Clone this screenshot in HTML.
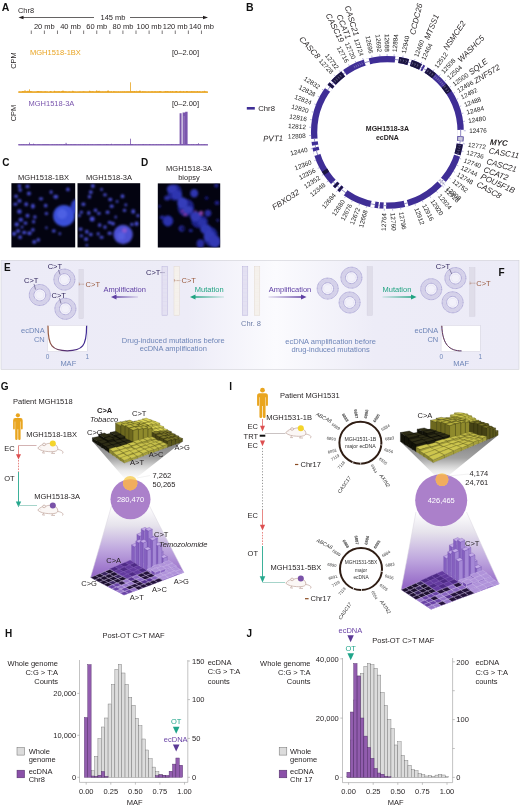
<!DOCTYPE html>
<html lang="en"><head><meta charset="utf-8"><title>Figure</title>
<style>
html,body{margin:0;padding:0;background:#fff;}
body{width:520px;height:808px;overflow:hidden;font-family:"Liberation Sans", sans-serif;}
svg{display:block;font-family:"Liberation Sans", sans-serif;}
</style></head><body>
<svg width="520" height="808" viewBox="0 0 520 808">
<defs>
<filter id="blur1" x="-20%" y="-20%" width="140%" height="140%"><feGaussianBlur stdDeviation="0.9"/></filter>
<linearGradient id="bandg" x1="0" x2="1" y1="0" y2="0"><stop offset="0" stop-color="#ecebf7"/><stop offset="0.36" stop-color="#edecf7"/><stop offset="0.53" stop-color="#fbfbfe"/><stop offset="0.72" stop-color="#edecf7"/><stop offset="1" stop-color="#ecebf7"/></linearGradient>
<linearGradient id="ugrad" x1="0" x2="1" y1="0" y2="0"><stop offset="0" stop-color="#9a5b3f"/><stop offset="0.35" stop-color="#5a2f6a"/><stop offset="1" stop-color="#3f2a96"/></linearGradient>
<linearGradient id="agpl" x1="0" x2="1"><stop offset="0" stop-color="#5e3fa3"/><stop offset="1" stop-color="#5e3fa3" stop-opacity="0.15"/></linearGradient>
<linearGradient id="agpr" x1="0" x2="1"><stop offset="0" stop-color="#5e3fa3" stop-opacity="0.15"/><stop offset="1" stop-color="#5e3fa3"/></linearGradient>
<linearGradient id="aggl" x1="0" x2="1"><stop offset="0" stop-color="#20a381"/><stop offset="1" stop-color="#20a381" stop-opacity="0.15"/></linearGradient>
<linearGradient id="aggr" x1="0" x2="1"><stop offset="0" stop-color="#20a381" stop-opacity="0.15"/><stop offset="1" stop-color="#20a381"/></linearGradient>

<linearGradient id="coneg" gradientUnits="userSpaceOnUse" x1="0" x2="0" y1="438" y2="478"><stop offset="0" stop-color="#7c7c7c"/><stop offset="0.5" stop-color="#a2a2a2"/><stop offset="0.7" stop-color="#d2d2d2"/><stop offset="0.82" stop-color="#eaeaea"/><stop offset="1" stop-color="#fbfbfb"/></linearGradient>
<linearGradient id="conep" gradientUnits="userSpaceOnUse" x1="0" x2="0" y1="506" y2="594"><stop offset="0" stop-color="#ffffff"/><stop offset="0.22" stop-color="#e6e3ec"/><stop offset="0.5" stop-color="#bea6de"/><stop offset="0.8" stop-color="#9366c6"/><stop offset="1" stop-color="#7d4fb6"/></linearGradient>
<linearGradient id="conep2" gradientUnits="userSpaceOnUse" x1="0" x2="0" y1="512" y2="612"><stop offset="0" stop-color="#ffffff"/><stop offset="0.2" stop-color="#e6e3ec"/><stop offset="0.48" stop-color="#bea6de"/><stop offset="0.75" stop-color="#9366c6"/><stop offset="1" stop-color="#7446ae"/></linearGradient>
</defs>
<rect width="520" height="808" fill="#fff"/>
<text x="1.80" y="11.18" font-size="10.5" font-weight="bold" fill="#111">A</text>
<text x="18.00" y="13.16" font-size="7.4" fill="#231f20">Chr8</text>
<path d="M22 17.5H94M130 17.5H204" stroke="#231f20" stroke-width="0.7" fill="none"/>
<path d="M18.5 17.5L23.5 15.8V19.2ZM208 17.5L203 15.8V19.2Z" fill="#231f20"/>
<text x="113.00" y="20.20" font-size="7.5" text-anchor="middle" fill="#231f20">145 mb</text>
<path d="M31.29 30.5V34M44.38 30.5V34M57.47 30.5V34M70.56 30.5V34M83.65 30.5V34M96.74 30.5V34M109.83 30.5V34M122.92 30.5V34M136.01 30.5V34M149.10 30.5V34M162.19 30.5V34M175.28 30.5V34M188.37 30.5V34M201.46 30.5V34" stroke="#231f20" stroke-width="0.6"/>
<text x="44.38" y="29.20" font-size="7.5" text-anchor="middle" fill="#231f20">20 mb</text>
<text x="70.56" y="29.20" font-size="7.5" text-anchor="middle" fill="#231f20">40 mb</text>
<text x="96.74" y="29.20" font-size="7.5" text-anchor="middle" fill="#231f20">60 mb</text>
<text x="122.92" y="29.20" font-size="7.5" text-anchor="middle" fill="#231f20">80 mb</text>
<text x="149.10" y="29.20" font-size="7.5" text-anchor="middle" fill="#231f20">100 mb</text>
<text x="175.28" y="29.20" font-size="7.5" text-anchor="middle" fill="#231f20">120 mb</text>
<text x="201.46" y="29.20" font-size="7.5" text-anchor="middle" fill="#231f20">140 mb</text>
<text transform="translate(13.30 60.50) rotate(-90.00)" y="2.70" font-size="7.5" text-anchor="middle" fill="#231f20">CPM</text>
<text transform="translate(13.30 113.00) rotate(-90.00)" y="2.70" font-size="7.5" text-anchor="middle" fill="#231f20">CPM</text>
<text x="30.00" y="54.70" font-size="7.5" fill="#e9a421">MGH1518-1BX</text>
<text x="172.00" y="54.70" font-size="7.5" fill="#231f20">[0–2.00]</text>
<text x="28.50" y="105.90" font-size="7.5" fill="#7a55ad">MGH1518-3A</text>
<text x="172.00" y="105.90" font-size="7.5" fill="#231f20">[0–2.00]</text>
<path d="M18.4 92.6L18.4 91.53L19.2 91.44L20.0 91.26L20.8 91.69L21.6 91.52L22.4 91.00L23.2 91.11L24.0 91.25L24.8 91.26L25.6 91.33L26.4 91.23L27.2 91.17L28.0 90.45L28.8 91.37L29.6 91.08L30.4 91.06L31.2 91.14L32.0 91.05L32.8 91.63L33.6 91.55L34.4 91.39L35.2 91.49L36.0 91.43L36.8 91.29L37.6 91.07L38.4 91.05L39.2 91.01L40.0 91.59L40.8 91.02L41.6 91.30L42.4 91.55L43.2 91.30L44.0 91.66L44.8 91.01L45.6 91.14L46.4 91.59L47.2 91.16L48.0 91.67L48.8 91.67L49.6 91.47L50.4 91.01L51.2 91.00L52.0 91.65L52.8 91.68L53.6 91.41L54.4 90.55L55.2 91.48L56.0 91.07L56.8 91.38L57.6 91.25L58.4 91.31L59.2 91.04L60.0 91.40L60.8 91.53L61.6 91.02L62.4 90.82L63.2 90.56L64.0 91.26L64.8 91.26L65.6 91.22L66.4 91.21L67.2 91.68L68.0 91.23L68.8 91.52L69.6 91.29L70.4 91.45L71.2 91.44L72.0 91.49L72.8 90.48L73.6 91.19L74.4 91.54L75.2 91.53L76.0 91.40L76.8 91.63L77.6 91.47L78.4 91.39L79.2 91.58L80.0 91.24L80.8 91.38L81.6 91.62L82.4 91.57L83.2 91.11L84.0 91.50L84.8 91.25L85.6 91.46L86.4 91.50L87.2 91.51L88.0 91.41L88.8 91.41L89.6 90.46L90.4 91.08L91.2 91.40L92.0 91.05L92.8 91.18L93.6 91.24L94.4 91.50L95.2 91.54L96.0 91.29L96.8 90.05L97.6 91.21L98.4 91.07L99.2 90.40L100.0 91.58L100.8 91.24L101.6 91.41L102.4 91.27L103.2 91.52L104.0 91.37L104.8 91.45L105.6 91.33L106.4 91.58L107.2 91.05L108.0 90.37L108.8 90.77L109.6 91.51L110.4 91.40L111.2 91.09L112.0 91.61L112.8 91.65L113.6 91.10L114.4 91.35L115.2 91.48L116.0 91.25L116.8 91.45L117.6 91.47L118.4 91.31L119.2 91.43L120.0 91.58L120.8 91.28L121.6 91.43L122.4 91.26L123.2 91.44L124.0 91.21L124.8 91.21L125.6 91.53L126.4 91.21L127.2 91.40L128.0 91.08L128.8 91.44L129.6 91.15L130.4 91.38L131.2 91.13L132.0 91.08L132.8 91.23L133.6 91.31L134.4 91.12L135.2 91.05L136.0 91.63L136.8 90.56L137.6 91.62L138.4 91.23L139.2 91.03L140.0 90.22L140.8 91.34L141.6 91.63L142.4 91.05L143.2 91.47L144.0 91.12L144.8 91.57L145.6 91.27L146.4 91.42L147.2 91.42L148.0 91.41L148.8 91.35L149.6 91.41L150.4 91.59L151.2 91.17L152.0 91.34L152.8 91.25L153.6 91.60L154.4 91.18L155.2 91.34L156.0 91.20L156.8 91.51L157.6 91.29L158.4 91.54L159.2 91.03L160.0 91.21L160.8 91.10L161.6 91.51L162.4 91.68L163.2 91.43L164.0 91.45L164.8 91.16L165.6 91.01L166.4 91.28L167.2 91.12L168.0 91.31L168.8 91.20L169.6 91.42L170.4 91.03L171.2 91.54L172.0 91.20L172.8 91.03L173.6 91.53L174.4 91.52L175.2 91.21L176.0 91.07L176.8 91.09L177.6 91.40L178.4 91.64L179.2 91.12L180.0 91.45L180.8 90.83L181.6 91.39L182.4 91.55L183.2 91.03L184.0 91.32L184.8 91.51L185.6 91.62L186.4 91.06L187.2 91.04L188.0 91.16L188.8 91.49L189.6 91.24L190.4 91.51L191.2 91.03L192.0 91.32L192.8 91.35L193.6 91.20L194.4 91.30L195.2 91.25L196.0 91.57L196.8 91.24L197.6 91.05L198.4 91.47L199.2 91.28L200.0 91.25L200.8 91.48L201.6 91.65L202.4 91.17L203.2 91.18L204.0 91.51L204.8 90.48L205.6 91.53L206.4 91.45L207.2 91.42L208 92.6Z" fill="#e9a421"/>
<path d="M18.4 92.2H208" stroke="#e9a421" stroke-width="1.2"/>
<path d="M130.5 92V82.3M25 92V90M29.5 92V89.3" stroke="#e9a421" stroke-width="0.8"/>
<path d="M18.4 145.2L18.4 144.19L19.2 144.16L20.0 144.39L20.8 144.45L21.6 144.21L22.4 144.42L23.2 144.20L24.0 144.20L24.8 144.44L25.6 144.42L26.4 144.27L27.2 144.40L28.0 144.49L28.8 144.14L29.6 144.35L30.4 144.27L31.2 144.11L32.0 144.38L32.8 144.31L33.6 143.44L34.4 144.24L35.2 144.29L36.0 144.42L36.8 144.49L37.6 144.24L38.4 144.27L39.2 144.14L40.0 144.18L40.8 144.48L41.6 144.41L42.4 144.28L43.2 144.37L44.0 144.22L44.8 144.16L45.6 144.13L46.4 144.20L47.2 144.18L48.0 144.16L48.8 144.20L49.6 144.46L50.4 144.47L51.2 144.44L52.0 144.22L52.8 144.33L53.6 144.38L54.4 144.20L55.2 144.43L56.0 144.21L56.8 144.35L57.6 144.26L58.4 144.50L59.2 144.19L60.0 144.32L60.8 144.42L61.6 144.34L62.4 144.49L63.2 144.43L64.0 144.03L64.8 144.34L65.6 144.48L66.4 143.38L67.2 144.41L68.0 144.31L68.8 144.25L69.6 144.45L70.4 144.21L71.2 144.18L72.0 144.13L72.8 144.40L73.6 144.17L74.4 144.36L75.2 144.23L76.0 144.23L76.8 144.46L77.6 144.49L78.4 144.24L79.2 144.42L80.0 144.31L80.8 144.13L81.6 144.49L82.4 144.26L83.2 144.46L84.0 144.16L84.8 144.34L85.6 144.23L86.4 144.43L87.2 144.21L88.0 144.28L88.8 144.35L89.6 144.41L90.4 144.31L91.2 144.43L92.0 144.26L92.8 144.35L93.6 144.44L94.4 144.49L95.2 144.20L96.0 144.46L96.8 144.16L97.6 144.15L98.4 144.32L99.2 144.21L100.0 144.35L100.8 144.34L101.6 144.46L102.4 144.46L103.2 144.24L104.0 144.48L104.8 144.24L105.6 144.50L106.4 144.11L107.2 144.28L108.0 144.19L108.8 144.18L109.6 144.42L110.4 144.47L111.2 143.49L112.0 144.42L112.8 144.47L113.6 144.41L114.4 144.25L115.2 144.20L116.0 144.36L116.8 144.32L117.6 144.17L118.4 144.17L119.2 144.28L120.0 144.21L120.8 144.36L121.6 144.47L122.4 144.21L123.2 144.24L124.0 144.41L124.8 144.10L125.6 144.33L126.4 144.41L127.2 144.13L128.0 144.15L128.8 144.26L129.6 144.29L130.4 144.12L131.2 144.12L132.0 144.19L132.8 144.10L133.6 144.38L134.4 144.43L135.2 144.21L136.0 144.29L136.8 144.48L137.6 144.39L138.4 144.36L139.2 144.20L140.0 144.46L140.8 144.34L141.6 144.44L142.4 144.22L143.2 144.11L144.0 144.35L144.8 144.38L145.6 144.29L146.4 144.36L147.2 144.39L148.0 144.15L148.8 144.38L149.6 144.05L150.4 144.29L151.2 144.43L152.0 144.42L152.8 144.31L153.6 144.19L154.4 144.49L155.2 144.49L156.0 144.36L156.8 144.28L157.6 144.38L158.4 144.18L159.2 144.40L160.0 144.33L160.8 144.23L161.6 144.18L162.4 144.45L163.2 144.18L164.0 144.17L164.8 144.39L165.6 144.49L166.4 144.14L167.2 144.31L168.0 144.13L168.8 144.26L169.6 144.29L170.4 144.43L171.2 144.10L172.0 144.34L172.8 144.32L173.6 144.32L174.4 144.44L175.2 144.29L176.0 144.16L176.8 144.13L177.6 144.49L178.4 144.28L179.2 144.39L180.0 144.14L180.8 144.23L181.6 144.29L182.4 144.12L183.2 144.42L184.0 144.43L184.8 144.17L185.6 144.39L186.4 144.12L187.2 144.34L188.0 144.45L188.8 144.11L189.6 144.41L190.4 144.47L191.2 144.20L192.0 144.25L192.8 144.50L193.6 144.12L194.4 144.39L195.2 144.39L196.0 144.48L196.8 144.12L197.6 144.14L198.4 144.10L199.2 144.24L200.0 144.48L200.8 144.43L201.6 144.17L202.4 144.48L203.2 144.29L204.0 144.46L204.8 144.10L205.6 144.45L206.4 144.45L207.2 144.13L208 145.2Z" fill="#7a55ad"/>
<path d="M18.4 144.8H208" stroke="#7a55ad" stroke-width="1"/>
<path d="M130.5 144.5V138.7M29.5 144.5V142.6M66 144.5V142.8M198.5 144.5V143.2" stroke="#7a55ad" stroke-width="0.8"/>
<path d="M179.6 144.8V113.2H181.6V144.8ZM182.6 144.8V112.6H185.2V111.8H187.6V144.8Z" fill="#7a55ad"/>
<path d="M184.1 144V116" stroke="#fff" stroke-width="0.35" opacity="0.6"/>
<text x="246.00" y="11.18" font-size="10.5" font-weight="bold" fill="#111">B</text>
<path d="M246.8 108.3H254.8" stroke="#3f2e96" stroke-width="2.6"/>
<text x="258.30" y="111.07" font-size="7.7" fill="#231f20">Chr8</text>
<circle cx="387.4" cy="132.4" r="73.3" fill="none" stroke="#3f2e96" stroke-width="6.3"/>
<path d="M364.75 62.69A73.3 73.3 0 0 1 369.42 61.34" fill="none" stroke="#fff" stroke-width="7"/>
<path d="M395.06 59.50A73.3 73.3 0 0 1 398.61 59.96" fill="none" stroke="#fff" stroke-width="7"/>
<path d="M408.34 62.15A73.3 73.3 0 0 1 410.78 62.93" fill="none" stroke="#fff" stroke-width="7"/>
<path d="M420.68 67.09A73.3 73.3 0 0 1 421.81 67.68" fill="none" stroke="#fff" stroke-width="7"/>
<path d="M423.61 68.67A73.3 73.3 0 0 1 426.03 70.10" fill="none" stroke="#fff" stroke-width="7"/>
<path d="M460.66 129.84A73.3 73.3 0 0 1 460.60 136.24" fill="none" stroke="#fff" stroke-width="7"/>
<path d="M460.18 141.08A73.3 73.3 0 0 1 459.80 143.87" fill="none" stroke="#fff" stroke-width="7"/>
<path d="M457.35 154.32A73.3 73.3 0 0 1 456.95 155.54" fill="none" stroke="#fff" stroke-width="7"/>
<path d="M443.30 179.81A73.3 73.3 0 0 1 439.77 183.69" fill="none" stroke="#fff" stroke-width="7"/>
<path d="M407.60 202.86A73.3 73.3 0 0 1 404.39 203.70" fill="none" stroke="#fff" stroke-width="7"/>
<path d="M386.12 205.69A73.3 73.3 0 0 1 383.56 205.60" fill="none" stroke="#fff" stroke-width="7"/>
<path d="M379.74 205.30A73.3 73.3 0 0 1 378.47 205.15" fill="none" stroke="#fff" stroke-width="7"/>
<path d="M374.92 204.63A73.3 73.3 0 0 1 370.91 203.82" fill="none" stroke="#fff" stroke-width="7"/>
<path d="M345.78 192.74A73.3 73.3 0 0 1 341.67 189.69" fill="none" stroke="#fff" stroke-width="7"/>
<path d="M339.31 187.72A73.3 73.3 0 0 1 337.41 186.01" fill="none" stroke="#fff" stroke-width="7"/>
<path d="M335.12 183.78A73.3 73.3 0 0 1 333.36 181.92" fill="none" stroke="#fff" stroke-width="7"/>
<path d="M317.61 154.81A73.3 73.3 0 0 1 316.43 150.75" fill="none" stroke="#fff" stroke-width="7"/>
<path d="M315.62 147.26A73.3 73.3 0 0 1 315.21 145.13" fill="none" stroke="#fff" stroke-width="7"/>
<path d="M314.68 141.59A73.3 73.3 0 0 1 314.38 138.79" fill="none" stroke="#fff" stroke-width="7"/>
<path d="M327.65 89.94A73.3 73.3 0 0 1 329.96 86.87" fill="none" stroke="#fff" stroke-width="7"/>
<path d="M332.08 84.31A73.3 73.3 0 0 1 333.44 82.78" fill="none" stroke="#fff" stroke-width="7"/>
<path d="M343.29 73.86A73.3 73.3 0 0 1 344.94 72.65" fill="none" stroke="#fff" stroke-width="7"/>
<path d="M364.38 62.81A73.3 73.3 0 0 1 369.79 61.25" fill="none" stroke="#8f88c4" stroke-width="1"/>
<path d="M394.68 59.46A73.3 73.3 0 0 1 398.99 60.02" fill="none" stroke="#8f88c4" stroke-width="1"/>
<path d="M407.97 62.05A73.3 73.3 0 0 1 411.14 63.05" fill="none" stroke="#8f88c4" stroke-width="1"/>
<path d="M420.34 66.92A73.3 73.3 0 0 1 422.15 67.86" fill="none" stroke="#8f88c4" stroke-width="1"/>
<path d="M423.27 68.48A73.3 73.3 0 0 1 426.35 70.31" fill="none" stroke="#8f88c4" stroke-width="1"/>
<path d="M460.64 129.46A73.3 73.3 0 0 1 460.58 136.62" fill="none" stroke="#8f88c4" stroke-width="1"/>
<path d="M460.23 140.70A73.3 73.3 0 0 1 459.74 144.25" fill="none" stroke="#8f88c4" stroke-width="1"/>
<path d="M457.46 153.95A73.3 73.3 0 0 1 456.83 155.90" fill="none" stroke="#8f88c4" stroke-width="1"/>
<path d="M443.55 179.52A73.3 73.3 0 0 1 439.50 183.96" fill="none" stroke="#8f88c4" stroke-width="1"/>
<path d="M407.97 202.75A73.3 73.3 0 0 1 404.01 203.79" fill="none" stroke="#8f88c4" stroke-width="1"/>
<path d="M386.50 205.69A73.3 73.3 0 0 1 383.18 205.58" fill="none" stroke="#8f88c4" stroke-width="1"/>
<path d="M380.12 205.34A73.3 73.3 0 0 1 378.09 205.11" fill="none" stroke="#8f88c4" stroke-width="1"/>
<path d="M375.30 204.69A73.3 73.3 0 0 1 370.54 203.73" fill="none" stroke="#8f88c4" stroke-width="1"/>
<path d="M346.09 192.95A73.3 73.3 0 0 1 341.37 189.45" fill="none" stroke="#8f88c4" stroke-width="1"/>
<path d="M339.60 187.97A73.3 73.3 0 0 1 337.13 185.75" fill="none" stroke="#8f88c4" stroke-width="1"/>
<path d="M335.39 184.05A73.3 73.3 0 0 1 333.10 181.64" fill="none" stroke="#8f88c4" stroke-width="1"/>
<path d="M317.73 155.17A73.3 73.3 0 0 1 316.34 150.38" fill="none" stroke="#8f88c4" stroke-width="1"/>
<path d="M315.70 147.64A73.3 73.3 0 0 1 315.15 144.75" fill="none" stroke="#8f88c4" stroke-width="1"/>
<path d="M314.73 141.97A73.3 73.3 0 0 1 314.35 138.41" fill="none" stroke="#8f88c4" stroke-width="1"/>
<path d="M327.43 90.25A73.3 73.3 0 0 1 330.19 86.57" fill="none" stroke="#8f88c4" stroke-width="1"/>
<path d="M331.83 84.60A73.3 73.3 0 0 1 333.70 82.50" fill="none" stroke="#8f88c4" stroke-width="1"/>
<path d="M342.98 74.09A73.3 73.3 0 0 1 345.25 72.43" fill="none" stroke="#8f88c4" stroke-width="1"/>
<path d="M460.56 137.00A73.3 73.3 0 0 1 460.21 140.82" fill="none" stroke="#c9c7dc" stroke-width="5"/>
<path d="M463.15 137.17A75.89999999999999 75.89999999999999 0 0 1 462.80 141.12M457.96 136.84A70.7 70.7 0 0 1 457.63 140.53" fill="none" stroke="#66609a" stroke-width="0.5"/>
<path d="M442.30 180.97A73.3 73.3 0 0 1 440.83 182.58" fill="none" stroke="#c9c7dc" stroke-width="5"/>
<path d="M444.25 182.69A75.89999999999999 75.89999999999999 0 0 1 442.73 184.36M440.35 179.25A70.7 70.7 0 0 1 438.94 180.80" fill="none" stroke="#66609a" stroke-width="0.5"/>
<path d="M330.11 86.67A73.3 73.3 0 0 1 331.91 84.50" fill="none" stroke="#1b1540" stroke-width="6.1"/>
<path d="M398.87 60.00A73.3 73.3 0 0 1 408.10 62.08" fill="none" stroke="#1b1540" stroke-width="6.1"/>
<path d="M411.02 63.01A73.3 73.3 0 0 1 420.22 66.86" fill="none" stroke="#1b1540" stroke-width="6.1"/>
<path d="M426.24 70.24A73.3 73.3 0 0 1 434.02 75.84" fill="none" stroke="#1b1540" stroke-width="6.1"/>
<path d="M443.96 85.78A73.3 73.3 0 0 1 449.01 92.69" fill="none" stroke="#1b1540" stroke-width="6.1"/>
<path d="M459.76 144.12A73.3 73.3 0 0 1 457.42 154.08" fill="none" stroke="#1b1540" stroke-width="6.1"/>
<path d="M333.70 82.50A73.3 73.3 0 0 1 343.08 74.01" fill="none" stroke="#1b1540" stroke-width="6.1"/>
<path d="M326.63 173.39A73.3 73.3 0 0 1 324.57 170.15" fill="none" stroke="#1b1540" stroke-width="6.1"/>
<path d="M341.27 189.36A73.3 73.3 0 0 1 339.70 188.05" fill="none" stroke="#1b1540" stroke-width="6.1"/>
<path d="M337.04 185.66A73.3 73.3 0 0 1 335.39 184.05" fill="none" stroke="#1b1540" stroke-width="6.1"/>
<path d="M433.74 77.17L435.20 76.83L435.29 75.33M435.27 78.48L436.73 78.19L436.86 76.69M436.76 79.84L438.23 79.58L438.40 78.09M438.20 81.24L439.68 81.02L439.90 79.54M439.61 82.68L441.10 82.50L441.35 81.02M440.98 84.16L442.47 84.02L442.76 82.55M442.31 85.67L443.80 85.58L444.13 84.12" fill="none" stroke="#b9b4e0" stroke-width="0.45" opacity="0.8"/>
<path d="M354.67 68.16L354.92 66.69L353.58 66.02M356.47 67.27L356.77 65.81L355.44 65.10M358.30 66.43L358.64 64.98L357.34 64.24M360.16 65.64L360.54 64.20L359.25 63.42M362.03 64.91L362.45 63.48L361.19 62.66" fill="none" stroke="#b9b4e0" stroke-width="0.45" opacity="0.8"/>
<path d="M426.67 71.93L428.07 71.42L427.98 69.92M428.96 73.48L430.38 73.02L430.34 71.52M431.19 75.12L432.63 74.72L432.65 73.22" fill="none" stroke="#b9b4e0" stroke-width="0.45" opacity="0.8"/>
<path d="M443.43 87.03L444.92 86.97L445.30 85.52M445.13 89.21L446.63 89.21L447.05 87.77M446.75 91.46L448.24 91.52L448.72 90.10" fill="none" stroke="#b9b4e0" stroke-width="0.45" opacity="0.8"/>
<path d="M458.40 144.92L459.43 146.01L460.77 145.34M457.92 147.39L458.91 148.51L460.27 147.89M457.36 149.84L458.30 151.00L459.69 150.42M456.71 152.27L457.61 153.46L459.01 152.93" fill="none" stroke="#b9b4e0" stroke-width="0.45" opacity="0.8"/>
<path d="M335.54 82.32L335.30 80.84L333.81 80.65M337.32 80.54L337.13 79.05L335.65 78.81M339.16 78.82L339.02 77.33L337.55 77.04M341.06 77.17L340.97 75.68L339.51 75.33" fill="none" stroke="#b9b4e0" stroke-width="0.45" opacity="0.8"/>
<path d="M399.92 61.40L401.01 60.37L400.34 59.03M402.64 61.93L403.76 60.95L403.14 59.58M405.33 62.57L406.49 61.63L405.93 60.24" fill="none" stroke="#b9b4e0" stroke-width="0.45" opacity="0.8"/>
<path d="M411.47 64.44L412.71 63.61L412.27 62.17M414.06 65.41L415.33 64.63L414.95 63.18M416.61 66.48L417.91 65.75L417.58 64.29" fill="none" stroke="#b9b4e0" stroke-width="0.45" opacity="0.8"/>
<path d="M372.14 57.64L371.72 55.58M380.00 56.46L379.80 54.37M387.13 56.10L387.12 54.00M394.00 56.39L394.18 54.29M402.66 57.64L403.08 55.58M414.30 61.00L415.04 59.03M420.85 63.82L421.77 61.93M432.90 71.15L434.15 69.47M438.91 76.11L440.33 74.56M444.29 81.55L445.86 80.15M449.17 87.61L450.87 86.38M453.07 93.55L454.87 92.48M456.28 99.57L458.17 98.67M459.21 106.61L461.19 105.90M461.36 113.64L463.39 113.12M462.92 121.49L464.99 121.19M463.68 130.78L465.78 130.74M462.87 143.65L464.94 143.96M461.41 150.94L463.45 151.45M459.17 158.30L461.14 159.01M456.43 164.91L458.33 165.81M453.08 171.23L454.89 172.30M448.93 177.52L450.62 178.76M443.65 183.95L445.20 185.37M442.11 185.59L443.61 187.05M436.20 191.05L437.54 192.67M429.54 196.01L430.70 197.76M422.03 200.39L422.98 202.26M414.69 203.65L415.44 205.61M400.50 207.57L400.86 209.64M392.53 208.53L392.67 210.62M384.37 208.64L384.29 210.74M366.73 205.85L366.17 207.87M359.74 203.51L358.98 205.47M352.54 200.27L351.58 202.14M345.70 196.30L344.56 198.06M337.69 190.29L336.32 191.88M328.38 180.76L326.76 182.09M323.61 174.26L321.85 175.41M319.60 167.41L317.74 168.37M316.23 159.92L314.28 160.67M312.81 148.48L310.76 148.93M311.16 135.44L309.06 135.53M311.27 127.32L309.17 127.18M312.13 119.91L310.06 119.56M313.78 112.34L311.76 111.79M316.29 104.73L314.34 103.97M319.65 97.30L317.79 96.33M323.72 90.37L321.97 89.21M335.59 76.38L334.17 74.84M340.51 72.21L339.22 70.55M349.55 66.15L348.51 64.33M356.02 62.85L355.16 60.94M363.30 60.01L362.63 58.02" stroke="#8c86c6" stroke-width="0.6"/>
<text transform="translate(371.25 53.29) rotate(438.46)" y="2.30" font-size="6.4" text-anchor="end" fill="#1a1a1a">12696</text>
<text transform="translate(379.57 52.07) rotate(444.43)" y="2.30" font-size="6.4" text-anchor="end" fill="#1a1a1a">12692</text>
<text transform="translate(387.11 51.70) rotate(449.80)" y="2.30" font-size="6.4" text-anchor="end" fill="#1a1a1a">12688</text>
<text transform="translate(394.38 51.99) rotate(-85.04)" y="2.30" font-size="6.4" fill="#1a1a1a">12884</text>
<text transform="translate(403.55 53.29) rotate(-78.46)" y="2.30" font-size="6.4" fill="#1a1a1a">12940</text>
<text transform="translate(415.89 56.76) rotate(-69.36)" y="2.30" font-size="6.4" fill="#1a1a1a">12460</text>
<text transform="translate(422.86 59.69) rotate(-64.00)" y="2.30" font-size="6.4" fill="#1a1a1a">12464</text>
<text transform="translate(435.74 67.33) rotate(-53.39)" y="2.30" font-size="6.4" fill="#1a1a1a">12512</text>
<text transform="translate(442.19 72.53) rotate(-47.54)" y="2.30" font-size="6.4" fill="#1a1a1a">12508</text>
<text transform="translate(447.98 78.25) rotate(-41.79)" y="2.30" font-size="6.4" fill="#1a1a1a">12504</text>
<text transform="translate(453.26 84.64) rotate(-35.95)" y="2.30" font-size="6.4" fill="#1a1a1a">12500</text>
<text transform="translate(457.49 90.93) rotate(-30.61)" y="2.30" font-size="6.4" fill="#1a1a1a">12496</text>
<text transform="translate(460.99 97.33) rotate(-25.48)" y="2.30" font-size="6.4" fill="#1a1a1a">12492</text>
<text transform="translate(464.18 104.82) rotate(-19.76)" y="2.30" font-size="6.4" fill="#1a1a1a">12488</text>
<text transform="translate(466.53 112.32) rotate(-14.24)" y="2.30" font-size="6.4" fill="#1a1a1a">12484</text>
<text transform="translate(468.24 120.72) rotate(-8.22)" y="2.30" font-size="6.4" fill="#1a1a1a">12480</text>
<text transform="translate(469.08 130.67) rotate(-1.22)" y="2.30" font-size="6.4" fill="#1a1a1a">12476</text>
<text transform="translate(468.19 144.44) rotate(8.48)" y="2.30" font-size="6.4" fill="#1a1a1a">12772</text>
<text transform="translate(466.59 152.24) rotate(14.06)" y="2.30" font-size="6.4" fill="#1a1a1a">12736</text>
<text transform="translate(464.14 160.10) rotate(19.84)" y="2.30" font-size="6.4" fill="#1a1a1a">12740</text>
<text transform="translate(461.15 167.13) rotate(25.22)" y="2.30" font-size="6.4" fill="#1a1a1a">12744</text>
<text transform="translate(457.51 173.84) rotate(30.59)" y="2.30" font-size="6.4" fill="#1a1a1a">12748</text>
<text transform="translate(453.00 180.51) rotate(36.25)" y="2.30" font-size="6.4" fill="#1a1a1a">12752</text>
<text transform="translate(447.29 187.29) rotate(42.51)" y="2.30" font-size="6.4" fill="#1a1a1a">12908</text>
<text transform="translate(445.63 189.01) rotate(44.19)" y="2.30" font-size="6.4" fill="#1a1a1a">12928</text>
<text transform="translate(439.28 194.75) rotate(50.24)" y="2.30" font-size="6.4" fill="#1a1a1a">12924</text>
<text transform="translate(432.14 199.93) rotate(56.48)" y="2.30" font-size="6.4" fill="#1a1a1a">12920</text>
<text transform="translate(424.12 204.49) rotate(63.01)" y="2.30" font-size="6.4" fill="#1a1a1a">12916</text>
<text transform="translate(416.31 207.88) rotate(69.05)" y="2.30" font-size="6.4" fill="#1a1a1a">12912</text>
<text transform="translate(401.26 211.93) rotate(80.12)" y="2.30" font-size="6.4" fill="#1a1a1a">12796</text>
<text transform="translate(392.82 212.92) rotate(86.15)" y="2.30" font-size="6.4" fill="#1a1a1a">12760</text>
<text transform="translate(384.20 213.04) rotate(272.27)" y="2.30" font-size="6.4" text-anchor="end" fill="#1a1a1a">12764</text>
<text transform="translate(365.52 210.15) rotate(285.71)" y="2.30" font-size="6.4" text-anchor="end" fill="#1a1a1a">12668</text>
<text transform="translate(358.10 207.73) rotate(291.25)" y="2.30" font-size="6.4" text-anchor="end" fill="#1a1a1a">12672</text>
<text transform="translate(350.43 204.37) rotate(297.19)" y="2.30" font-size="6.4" text-anchor="end" fill="#1a1a1a">12676</text>
<text transform="translate(343.14 200.23) rotate(303.13)" y="2.30" font-size="6.4" text-anchor="end" fill="#1a1a1a">12680</text>
<text transform="translate(334.55 193.95) rotate(310.65)" y="2.30" font-size="6.4" text-anchor="end" fill="#1a1a1a">12684</text>
<text transform="translate(324.51 183.93) rotate(320.67)" y="2.30" font-size="6.4" text-anchor="end" fill="#1a1a1a">12348</text>
<text transform="translate(319.34 177.06) rotate(326.73)" y="2.30" font-size="6.4" text-anchor="end" fill="#1a1a1a">12352</text>
<text transform="translate(314.99 169.79) rotate(332.69)" y="2.30" font-size="6.4" text-anchor="end" fill="#1a1a1a">12356</text>
<text transform="translate(311.32 161.82) rotate(338.86)" y="2.30" font-size="6.4" text-anchor="end" fill="#1a1a1a">12360</text>
<text transform="translate(307.58 149.61) rotate(347.83)" y="2.30" font-size="6.4" text-anchor="end" fill="#1a1a1a">12440</text>
<text transform="translate(305.77 135.66) rotate(357.72)" y="2.30" font-size="6.4" text-anchor="end" fill="#1a1a1a">12808</text>
<text transform="translate(305.89 126.96) rotate(363.82)" y="2.30" font-size="6.4" text-anchor="end" fill="#1a1a1a">12812</text>
<text transform="translate(306.83 119.03) rotate(369.42)" y="2.30" font-size="6.4" text-anchor="end" fill="#1a1a1a">12816</text>
<text transform="translate(308.64 110.94) rotate(375.24)" y="2.30" font-size="6.4" text-anchor="end" fill="#1a1a1a">12820</text>
<text transform="translate(311.38 102.82) rotate(381.26)" y="2.30" font-size="6.4" text-anchor="end" fill="#1a1a1a">12824</text>
<text transform="translate(315.05 94.91) rotate(387.39)" y="2.30" font-size="6.4" text-anchor="end" fill="#1a1a1a">12828</text>
<text transform="translate(319.47 87.56) rotate(393.43)" y="2.30" font-size="6.4" text-anchor="end" fill="#1a1a1a">12832</text>
<text transform="translate(332.29 72.82) rotate(407.23)" y="2.30" font-size="6.4" text-anchor="end" fill="#1a1a1a">12728</text>
<text transform="translate(337.57 68.44) rotate(412.08)" y="2.30" font-size="6.4" text-anchor="end" fill="#1a1a1a">12732</text>
<text transform="translate(347.25 62.12) rotate(420.26)" y="2.30" font-size="6.4" text-anchor="end" fill="#1a1a1a">12716</text>
<text transform="translate(354.14 58.69) rotate(425.72)" y="2.30" font-size="6.4" text-anchor="end" fill="#1a1a1a">12720</text>
<text transform="translate(361.87 55.74) rotate(431.58)" y="2.30" font-size="6.4" text-anchor="end" fill="#1a1a1a">12724</text>
<text transform="translate(412.08 34.53) rotate(-76.00)" y="2.88" font-size="8" font-style="italic" fill="#231f20">CCDC26</text>
<text transform="translate(426.43 39.26) rotate(-67.50)" y="2.88" font-size="8" font-style="italic" fill="#231f20">MTSS1</text>
<text transform="translate(444.88 49.24) rotate(-55.70)" y="2.88" font-size="8" font-style="italic" fill="#231f20">NSMCE2</text>
<text transform="translate(458.89 60.75) rotate(-45.50)" y="2.88" font-size="8" font-style="italic" fill="#231f20">WASHC5</text>
<text transform="translate(469.50 72.97) rotate(-36.40)" y="2.88" font-size="8" font-style="italic" fill="#231f20">SQLE</text>
<text transform="translate(474.40 81.22) rotate(-31.00)" y="2.88" font-size="8" font-style="italic" fill="#231f20">ZNF572</text>
<text transform="translate(490.07 141.76) rotate(4.60)" y="2.88" font-size="8" font-weight="bold" font-style="italic" fill="#231f20">MYC</text>
<text transform="translate(488.99 150.50) rotate(9.50)" y="2.88" font-size="8" font-style="italic" fill="#231f20">CASC11</text>
<text transform="translate(486.65 161.03) rotate(15.50)" y="2.88" font-size="8" font-style="italic" fill="#231f20">CASC21</text>
<text transform="translate(484.06 169.07) rotate(20.20)" y="2.88" font-size="8" font-style="italic" fill="#231f20">CCAT2</text>
<text transform="translate(481.27 175.89) rotate(24.30)" y="2.88" font-size="8" font-style="italic" fill="#231f20">POU5F1B</text>
<text transform="translate(477.49 183.44) rotate(29.00)" y="2.88" font-size="8" font-style="italic" fill="#231f20">CASC8</text>
<text transform="translate(298.50 191.23) rotate(327.00)" y="2.88" font-size="8" text-anchor="end" font-style="italic" fill="#231f20">FBXO32</text>
<text transform="translate(283.09 137.87) rotate(357.60)" y="2.88" font-size="8" text-anchor="end" font-style="italic" fill="#231f20">PVT1</text>
<text transform="translate(318.81 57.33) rotate(408.00)" y="2.88" font-size="8" text-anchor="end" font-style="italic" fill="#231f20">CASC8</text>
<text transform="translate(341.99 41.61) rotate(423.70)" y="2.88" font-size="8" text-anchor="end" font-style="italic" fill="#231f20">CASC19</text>
<text transform="translate(348.84 38.53) rotate(427.90)" y="2.88" font-size="8" text-anchor="end" font-style="italic" fill="#231f20">CCAT1</text>
<text transform="translate(356.75 35.69) rotate(432.60)" y="2.88" font-size="8" text-anchor="end" font-style="italic" fill="#231f20">CASC21</text>
<text x="387.40" y="131.32" font-size="7" text-anchor="middle" font-weight="bold" fill="#231f20">MGH1518-3A</text>
<text x="387.40" y="140.32" font-size="7" text-anchor="middle" font-weight="bold" fill="#231f20">ecDNA</text>
<text x="2.30" y="166.10" font-size="10" font-weight="bold" fill="#111">C</text>
<text x="141.00" y="166.10" font-size="10" font-weight="bold" fill="#111">D</text>
<text x="43.50" y="179.90" font-size="7.5" text-anchor="middle" fill="#231f20">MGH1518-1BX</text>
<text x="109.00" y="179.90" font-size="7.5" text-anchor="middle" fill="#231f20">MGH1518-3A</text>
<text x="189.00" y="170.90" font-size="7.5" text-anchor="middle" fill="#231f20">MGH1518-3A</text>
<text x="189.00" y="180.00" font-size="7.5" text-anchor="middle" fill="#231f20">biopsy</text>
<clipPath id="fc1"><rect x="11.4" y="183.2" width="63.800000000000004" height="64.20000000000002"/></clipPath>
<rect x="11.4" y="183.2" width="63.800000000000004" height="64.20000000000002" fill="#030310"/>
<g clip-path="url(#fc1)"><g filter="url(#blur1)">
<circle cx="63.9" cy="215.7" r="10.8" fill="#3b4fd8"/>
<circle cx="78.0" cy="206.2" r="7.4" fill="#2f3cc0"/>
<ellipse cx="19.4" cy="186.1" rx="1.58" ry="2.08" fill="#464cd0"/>
<ellipse cx="27.5" cy="186.5" rx="2.02" ry="1.67" fill="#464cd0"/>
<ellipse cx="20.1" cy="190.1" rx="1.83" ry="1.80" fill="#464cd0"/>
<ellipse cx="28.9" cy="193.5" rx="1.94" ry="2.04" fill="#464cd0"/>
<ellipse cx="16.1" cy="196.2" rx="1.79" ry="1.74" fill="#464cd0"/>
<ellipse cx="19.4" cy="200.9" rx="2.07" ry="1.79" fill="#464cd0"/>
<ellipse cx="15.4" cy="204.2" rx="2.02" ry="1.49" fill="#464cd0"/>
<ellipse cx="26.2" cy="204.2" rx="1.80" ry="1.99" fill="#464cd0"/>
<ellipse cx="32.9" cy="206.2" rx="1.90" ry="2.48" fill="#464cd0"/>
<ellipse cx="41.0" cy="198.8" rx="2.12" ry="1.51" fill="#464cd0"/>
<ellipse cx="51.1" cy="192.1" rx="1.51" ry="1.87" fill="#464cd0"/>
<ellipse cx="55.8" cy="196.8" rx="2.47" ry="2.02" fill="#464cd0"/>
<ellipse cx="67.9" cy="189.4" rx="1.76" ry="1.92" fill="#464cd0"/>
<ellipse cx="45.7" cy="205.6" rx="1.74" ry="1.90" fill="#464cd0"/>
<ellipse cx="19.4" cy="211.6" rx="2.21" ry="2.26" fill="#464cd0"/>
<ellipse cx="27.5" cy="215.7" rx="1.90" ry="1.90" fill="#464cd0"/>
<ellipse cx="34.9" cy="217.0" rx="1.64" ry="1.81" fill="#464cd0"/>
<ellipse cx="46.4" cy="213.6" rx="1.69" ry="1.50" fill="#464cd0"/>
<ellipse cx="20.8" cy="219.7" rx="2.23" ry="2.02" fill="#464cd0"/>
<ellipse cx="25.5" cy="223.1" rx="1.94" ry="1.62" fill="#464cd0"/>
<ellipse cx="16.7" cy="224.4" rx="2.18" ry="2.09" fill="#464cd0"/>
<ellipse cx="33.6" cy="221.7" rx="1.57" ry="1.72" fill="#464cd0"/>
<ellipse cx="18.1" cy="230.9" rx="1.99" ry="1.98" fill="#464cd0"/>
<ellipse cx="24.2" cy="232.5" rx="2.14" ry="1.78" fill="#464cd0"/>
<ellipse cx="29.5" cy="233.2" rx="2.07" ry="1.96" fill="#464cd0"/>
<ellipse cx="32.9" cy="229.8" rx="1.70" ry="1.90" fill="#464cd0"/>
<ellipse cx="14.1" cy="233.8" rx="2.10" ry="2.08" fill="#464cd0"/>
<ellipse cx="20.1" cy="237.2" rx="1.84" ry="1.90" fill="#464cd0"/>
<ellipse cx="46.4" cy="227.8" rx="1.16" ry="1.27" fill="#464cd0"/>
<ellipse cx="53.8" cy="230.9" rx="1.89" ry="1.64" fill="#464cd0"/>
<ellipse cx="59.8" cy="233.8" rx="1.24" ry="1.44" fill="#464cd0"/>
<ellipse cx="34.2" cy="241.9" rx="1.98" ry="1.96" fill="#464cd0"/>
<ellipse cx="38.3" cy="239.9" rx="1.75" ry="1.79" fill="#464cd0"/>
<ellipse cx="22.1" cy="227.1" rx="1.28" ry="1.41" fill="#464cd0"/>
<circle cx="62" cy="214" r="5" fill="#5568e8" opacity="0.7"/>
</g></g>
<clipPath id="fc2"><rect x="77.5" y="183.2" width="62.69999999999999" height="64.20000000000002"/></clipPath>
<rect x="77.5" y="183.2" width="62.69999999999999" height="64.20000000000002" fill="#030310"/>
<g clip-path="url(#fc2)"><g filter="url(#blur1)">
<circle cx="123.1" cy="234.5" r="9.7" fill="#4c50d2"/>
<ellipse cx="92.8" cy="186.1" rx="1.99" ry="1.99" fill="#484ed2"/>
<ellipse cx="101.6" cy="189.4" rx="1.41" ry="1.43" fill="#484ed2"/>
<ellipse cx="90.8" cy="192.1" rx="1.91" ry="1.85" fill="#484ed2"/>
<ellipse cx="105.0" cy="194.8" rx="1.81" ry="1.57" fill="#484ed2"/>
<ellipse cx="89.5" cy="196.8" rx="1.76" ry="1.76" fill="#484ed2"/>
<ellipse cx="110.3" cy="199.5" rx="2.04" ry="1.72" fill="#484ed2"/>
<ellipse cx="117.1" cy="201.5" rx="1.38" ry="1.36" fill="#484ed2"/>
<ellipse cx="122.5" cy="196.2" rx="1.84" ry="2.02" fill="#484ed2"/>
<ellipse cx="83.4" cy="204.2" rx="1.99" ry="1.72" fill="#484ed2"/>
<ellipse cx="111.7" cy="206.2" rx="1.94" ry="1.80" fill="#484ed2"/>
<ellipse cx="125.8" cy="204.9" rx="1.40" ry="1.39" fill="#484ed2"/>
<ellipse cx="124.5" cy="210.3" rx="1.67" ry="1.58" fill="#484ed2"/>
<ellipse cx="133.2" cy="211.6" rx="1.89" ry="2.27" fill="#484ed2"/>
<ellipse cx="95.5" cy="210.3" rx="1.71" ry="1.73" fill="#484ed2"/>
<ellipse cx="107.6" cy="212.3" rx="1.91" ry="1.74" fill="#484ed2"/>
<ellipse cx="81.4" cy="212.3" rx="1.58" ry="1.46" fill="#484ed2"/>
<ellipse cx="88.8" cy="213.0" rx="1.70" ry="2.02" fill="#484ed2"/>
<ellipse cx="98.9" cy="213.6" rx="1.81" ry="1.49" fill="#484ed2"/>
<ellipse cx="79.4" cy="215.7" rx="1.46" ry="1.42" fill="#484ed2"/>
<ellipse cx="137.9" cy="215.7" rx="1.54" ry="1.63" fill="#484ed2"/>
<ellipse cx="92.2" cy="219.0" rx="2.49" ry="2.51" fill="#484ed2"/>
<ellipse cx="115.7" cy="217.0" rx="1.20" ry="1.50" fill="#484ed2"/>
<ellipse cx="109.7" cy="222.4" rx="1.99" ry="1.48" fill="#484ed2"/>
<ellipse cx="113.0" cy="223.7" rx="1.86" ry="1.83" fill="#484ed2"/>
<ellipse cx="131.9" cy="224.4" rx="1.67" ry="1.72" fill="#484ed2"/>
<ellipse cx="136.6" cy="223.7" rx="1.97" ry="2.30" fill="#484ed2"/>
<ellipse cx="99.6" cy="225.1" rx="1.70" ry="1.91" fill="#484ed2"/>
<ellipse cx="105.0" cy="227.1" rx="1.60" ry="1.94" fill="#484ed2"/>
<ellipse cx="80.7" cy="229.1" rx="1.95" ry="1.67" fill="#484ed2"/>
<ellipse cx="86.8" cy="231.8" rx="1.74" ry="1.97" fill="#484ed2"/>
<ellipse cx="90.8" cy="234.5" rx="1.84" ry="1.69" fill="#484ed2"/>
<ellipse cx="98.2" cy="233.8" rx="1.52" ry="1.58" fill="#484ed2"/>
<ellipse cx="109.7" cy="233.2" rx="2.13" ry="1.73" fill="#484ed2"/>
<ellipse cx="81.4" cy="235.9" rx="1.63" ry="1.29" fill="#484ed2"/>
<ellipse cx="101.6" cy="237.2" rx="1.96" ry="1.57" fill="#484ed2"/>
<ellipse cx="86.1" cy="239.2" rx="1.99" ry="1.83" fill="#484ed2"/>
<ellipse cx="86.8" cy="245.3" rx="1.27" ry="1.28" fill="#484ed2"/>
<circle cx="124.5" cy="230.5" r="2.2" fill="#9a5ad0" opacity="0.8"/><circle cx="121" cy="236" r="4" fill="#5a62e6" opacity="0.6"/>
</g></g>
<clipPath id="fc3"><rect x="157.8" y="183.4" width="62.39999999999998" height="64.1"/></clipPath>
<rect x="157.8" y="183.4" width="62.39999999999998" height="64.1" fill="#030310"/>
<g clip-path="url(#fc3)"><g filter="url(#blur1)">
<ellipse cx="174.8" cy="192.5" rx="7.20" ry="8.13" fill="#1c2088"/>
<ellipse cx="185.9" cy="207.7" rx="8.29" ry="9.07" fill="#1c2088"/>
<ellipse cx="199.7" cy="221.6" rx="8.38" ry="6.67" fill="#1c2088"/>
<ellipse cx="210.8" cy="236.8" rx="7.11" ry="9.85" fill="#1c2088"/>
<ellipse cx="167.9" cy="220.9" rx="5.55" ry="5.49" fill="#1a1e80"/>
<ellipse cx="172.0" cy="189.0" rx="5.19" ry="4.31" fill="#3238b4"/>
<ellipse cx="176.9" cy="195.2" rx="5.25" ry="4.61" fill="#2e36b0"/>
<ellipse cx="167.2" cy="198.0" rx="3.06" ry="2.52" fill="#272c9c"/>
<ellipse cx="182.4" cy="202.9" rx="5.20" ry="5.64" fill="#343cba"/>
<ellipse cx="194.2" cy="193.2" rx="3.96" ry="4.29" fill="#2f36b0"/>
<ellipse cx="187.9" cy="209.8" rx="4.96" ry="3.88" fill="#353cb8"/>
<ellipse cx="195.6" cy="216.7" rx="5.43" ry="5.12" fill="#3038b2"/>
<ellipse cx="201.8" cy="222.2" rx="4.30" ry="3.82" fill="#2b32a8"/>
<ellipse cx="205.9" cy="229.2" rx="5.63" ry="4.89" fill="#2f38b2"/>
<ellipse cx="209.4" cy="236.1" rx="5.67" ry="5.99" fill="#323ab6"/>
<ellipse cx="214.9" cy="241.6" rx="5.66" ry="6.08" fill="#3038b4"/>
<ellipse cx="200.4" cy="243.7" rx="3.77" ry="4.38" fill="#272c9e"/>
<ellipse cx="167.9" cy="220.9" rx="4.56" ry="5.43" fill="#2a32ac"/>
<ellipse cx="162.3" cy="217.4" rx="2.66" ry="1.97" fill="#232894"/>
<ellipse cx="181.7" cy="228.5" rx="3.01" ry="3.11" fill="#262c9e"/>
<ellipse cx="190.7" cy="230.6" rx="2.05" ry="1.70" fill="#232896"/>
<ellipse cx="217.0" cy="202.9" rx="2.44" ry="2.15" fill="#20248a"/>
<ellipse cx="206.6" cy="198.0" rx="1.90" ry="1.81" fill="#1a1e78"/>
<ellipse cx="216.3" cy="185.5" rx="2.06" ry="2.25" fill="#20248a"/>
<ellipse cx="159.5" cy="206.3" rx="1.35" ry="1.51" fill="#20248a"/>
<ellipse cx="217.7" cy="220.2" rx="1.40" ry="1.52" fill="#20248a"/>
<ellipse cx="208.0" cy="213.2" rx="3.30" ry="3.45" fill="#262c9c"/>
<ellipse cx="185.2" cy="214.6" rx="1.70" ry="1.39" fill="#8a3ca8"/>
<ellipse cx="201.1" cy="213.0" rx="2.15" ry="2.23" fill="#8840a8"/>
<ellipse cx="182.4" cy="211.2" rx="1.34" ry="1.19" fill="#7a38a4"/>
<ellipse cx="195.6" cy="211.2" rx="1.26" ry="1.04" fill="#6c3aa8"/>
<circle cx="182.5" cy="228.5" r="1.6" fill="#05041a"/>
</g></g>
<rect x="1" y="260.3" width="518" height="109" fill="url(#bandg)" stroke="#cfcfd6" stroke-width="0.6"/>
<text x="4.00" y="270.60" font-size="10" font-weight="bold" fill="#111">E</text>
<text x="498.50" y="275.90" font-size="10" font-weight="bold" fill="#111">F</text>
<circle cx="64.4" cy="279.6" r="10.5" fill="#dad7ec" stroke="#8a81c4" stroke-width="0.75" stroke-dasharray="0.9 0.45"/><circle cx="64.4" cy="279.6" r="8.20" fill="none" stroke="#cdc9e6" stroke-width="3.00" stroke-dasharray="0.4 0.6"/><circle cx="64.4" cy="279.6" r="5.9" fill="#f2f1fa" stroke="#8a81c4" stroke-width="0.75" stroke-dasharray="0.9 0.45"/><circle cx="64.4" cy="279.6" r="4.0" fill="none" stroke="#cfcbe4" stroke-width="0.5" stroke-dasharray="0.6 0.6"/>
<circle cx="39.8" cy="295" r="10.5" fill="#dad7ec" stroke="#8a81c4" stroke-width="0.75" stroke-dasharray="0.9 0.45"/><circle cx="39.8" cy="295" r="8.20" fill="none" stroke="#cdc9e6" stroke-width="3.00" stroke-dasharray="0.4 0.6"/><circle cx="39.8" cy="295" r="5.9" fill="#f2f1fa" stroke="#8a81c4" stroke-width="0.75" stroke-dasharray="0.9 0.45"/><circle cx="39.8" cy="295" r="4.0" fill="none" stroke="#cfcbe4" stroke-width="0.5" stroke-dasharray="0.6 0.6"/>
<circle cx="65.4" cy="308.8" r="10.5" fill="#dad7ec" stroke="#8a81c4" stroke-width="0.75" stroke-dasharray="0.9 0.45"/><circle cx="65.4" cy="308.8" r="8.20" fill="none" stroke="#cdc9e6" stroke-width="3.00" stroke-dasharray="0.4 0.6"/><circle cx="65.4" cy="308.8" r="5.9" fill="#f2f1fa" stroke="#8a81c4" stroke-width="0.75" stroke-dasharray="0.9 0.45"/><circle cx="65.4" cy="308.8" r="4.0" fill="none" stroke="#cfcbe4" stroke-width="0.5" stroke-dasharray="0.6 0.6"/>
<rect x="78.9" y="269.5" width="4.299999999999997" height="49.0" fill="#dfdde9" stroke="#cfccdc" stroke-width="0.4"/>
<text x="47.70" y="269.20" font-size="7.5" fill="#33285e">C&gt;T</text>
<path d="M58.5 269.8L60 274.5" stroke="#33285e" stroke-width="0.5"/>
<text x="24.00" y="283.30" font-size="7.5" fill="#33285e">C&gt;T</text>
<path d="M34.0 283.90000000000003L35.5 289.5" stroke="#33285e" stroke-width="0.5"/>
<text x="51.50" y="297.50" font-size="7.5" fill="#33285e">C&gt;T</text>
<path d="M59.5 298.1L61 303.5" stroke="#33285e" stroke-width="0.5"/>
<path d="M79.2 284.2H84.5M79.2 282.7V285.7" stroke="#9a5b3f" stroke-width="0.5" stroke-dasharray="0.8 0.5"/>
<text x="85.60" y="286.90" font-size="7.5" fill="#9a5b3f">C&gt;T</text>
<rect x="47.4" y="325.2" width="39.800000000000004" height="26.400000000000034" fill="#fff" stroke="#c9c6d6" stroke-width="0.4"/><path d="M48.0 325.7C48.0 346.3 52.2 350.8 67.3 350.8S86.60000000000001 346.3 86.60000000000001 325.7" fill="none" stroke="url(#ugrad)" stroke-width="1.2"/>
<text x="44.80" y="333.30" font-size="7.5" text-anchor="end" fill="#6f86b8">ecDNA</text>
<text x="44.80" y="341.90" font-size="7.5" text-anchor="end" fill="#6f86b8">CN</text>
<text x="47.60" y="358.74" font-size="6.5" text-anchor="middle" fill="#6f86b8">0</text>
<text x="87.20" y="358.74" font-size="6.5" text-anchor="middle" fill="#6f86b8">1</text>
<text x="68.30" y="365.50" font-size="7.5" text-anchor="middle" fill="#6f86b8">MAF</text>
<text x="124.70" y="291.70" font-size="7.5" text-anchor="middle" fill="#5e3fa3">Amplification</text>
<rect x="115" y="296.25" width="23" height="1.5" fill="url(#agpl)"/><path d="M111 297L116.5 294.5V299.5Z" fill="#5e3fa3"/>
<rect x="162" y="266.7" width="5.400000000000006" height="48.60000000000002" fill="#eceaf6" stroke="#b3acd8" stroke-width="0.45"/><path d="M162.4 267.7H167.0M162.4 269.0H167.0M162.4 270.3H167.0M162.4 271.6H167.0M162.4 272.9H167.0M162.4 274.2H167.0M162.4 275.5H167.0M162.4 276.8H167.0M162.4 278.1H167.0M162.4 279.4H167.0M162.4 280.7H167.0M162.4 282.0H167.0M162.4 283.3H167.0M162.4 284.6H167.0M162.4 285.9H167.0M162.4 287.2H167.0M162.4 288.5H167.0M162.4 289.8H167.0M162.4 291.1H167.0M162.4 292.4H167.0M162.4 293.7H167.0M162.4 295.0H167.0M162.4 296.3H167.0M162.4 297.6H167.0M162.4 298.9H167.0M162.4 300.2H167.0M162.4 301.5H167.0M162.4 302.8H167.0M162.4 304.1H167.0M162.4 305.4H167.0M162.4 306.7H167.0M162.4 308.0H167.0M162.4 309.3H167.0M162.4 310.6H167.0M162.4 311.9H167.0M162.4 313.2H167.0M162.4 314.5H167.0" stroke="#cbc6e6" stroke-width="0.35"/>
<rect x="174" y="266.7" width="5.400000000000006" height="48.60000000000002" fill="#f8f5f1" stroke="#e0d5ca" stroke-width="0.45"/><path d="M174.4 267.7H179.0M174.4 269.0H179.0M174.4 270.3H179.0M174.4 271.6H179.0M174.4 272.9H179.0M174.4 274.2H179.0M174.4 275.5H179.0M174.4 276.8H179.0M174.4 278.1H179.0M174.4 279.4H179.0M174.4 280.7H179.0M174.4 282.0H179.0M174.4 283.3H179.0M174.4 284.6H179.0M174.4 285.9H179.0M174.4 287.2H179.0M174.4 288.5H179.0M174.4 289.8H179.0M174.4 291.1H179.0M174.4 292.4H179.0M174.4 293.7H179.0M174.4 295.0H179.0M174.4 296.3H179.0M174.4 297.6H179.0M174.4 298.9H179.0M174.4 300.2H179.0M174.4 301.5H179.0M174.4 302.8H179.0M174.4 304.1H179.0M174.4 305.4H179.0M174.4 306.7H179.0M174.4 308.0H179.0M174.4 309.3H179.0M174.4 310.6H179.0M174.4 311.9H179.0M174.4 313.2H179.0M174.4 314.5H179.0" stroke="#ebe3da" stroke-width="0.3"/>
<text x="146.00" y="274.90" font-size="7.5" fill="#33285e">C&gt;T</text>
<path d="M160 272.6H164.5" stroke="#33285e" stroke-width="0.5" stroke-dasharray="0.8 0.5"/>
<path d="M174.4 280.6H180.6M174.4 279.1V282.1" stroke="#9a5b3f" stroke-width="0.5" stroke-dasharray="0.8 0.5"/>
<text x="181.50" y="283.30" font-size="7.5" fill="#9a5b3f">C&gt;T</text>
<text x="209.20" y="291.70" font-size="7.5" text-anchor="middle" fill="#20a381">Mutation</text>
<rect x="194" y="296.25" width="30" height="1.5" fill="url(#aggl)"/><path d="M190 297L195.5 294.5V299.5Z" fill="#20a381"/>
<rect x="242.4" y="266.7" width="5.400000000000006" height="48.60000000000002" fill="#eceaf6" stroke="#b3acd8" stroke-width="0.45"/><path d="M242.8 267.7H247.4M242.8 269.0H247.4M242.8 270.3H247.4M242.8 271.6H247.4M242.8 272.9H247.4M242.8 274.2H247.4M242.8 275.5H247.4M242.8 276.8H247.4M242.8 278.1H247.4M242.8 279.4H247.4M242.8 280.7H247.4M242.8 282.0H247.4M242.8 283.3H247.4M242.8 284.6H247.4M242.8 285.9H247.4M242.8 287.2H247.4M242.8 288.5H247.4M242.8 289.8H247.4M242.8 291.1H247.4M242.8 292.4H247.4M242.8 293.7H247.4M242.8 295.0H247.4M242.8 296.3H247.4M242.8 297.6H247.4M242.8 298.9H247.4M242.8 300.2H247.4M242.8 301.5H247.4M242.8 302.8H247.4M242.8 304.1H247.4M242.8 305.4H247.4M242.8 306.7H247.4M242.8 308.0H247.4M242.8 309.3H247.4M242.8 310.6H247.4M242.8 311.9H247.4M242.8 313.2H247.4M242.8 314.5H247.4" stroke="#cbc6e6" stroke-width="0.35"/>
<rect x="254.4" y="266.7" width="5.400000000000006" height="48.60000000000002" fill="#f8f5f1" stroke="#e0d5ca" stroke-width="0.45"/><path d="M254.8 267.7H259.40000000000003M254.8 269.0H259.40000000000003M254.8 270.3H259.40000000000003M254.8 271.6H259.40000000000003M254.8 272.9H259.40000000000003M254.8 274.2H259.40000000000003M254.8 275.5H259.40000000000003M254.8 276.8H259.40000000000003M254.8 278.1H259.40000000000003M254.8 279.4H259.40000000000003M254.8 280.7H259.40000000000003M254.8 282.0H259.40000000000003M254.8 283.3H259.40000000000003M254.8 284.6H259.40000000000003M254.8 285.9H259.40000000000003M254.8 287.2H259.40000000000003M254.8 288.5H259.40000000000003M254.8 289.8H259.40000000000003M254.8 291.1H259.40000000000003M254.8 292.4H259.40000000000003M254.8 293.7H259.40000000000003M254.8 295.0H259.40000000000003M254.8 296.3H259.40000000000003M254.8 297.6H259.40000000000003M254.8 298.9H259.40000000000003M254.8 300.2H259.40000000000003M254.8 301.5H259.40000000000003M254.8 302.8H259.40000000000003M254.8 304.1H259.40000000000003M254.8 305.4H259.40000000000003M254.8 306.7H259.40000000000003M254.8 308.0H259.40000000000003M254.8 309.3H259.40000000000003M254.8 310.6H259.40000000000003M254.8 311.9H259.40000000000003M254.8 313.2H259.40000000000003M254.8 314.5H259.40000000000003" stroke="#ebe3da" stroke-width="0.3"/>
<text x="251.00" y="326.00" font-size="7.5" text-anchor="middle" fill="#6f7fa8">Chr. 8</text>
<text x="173.30" y="342.50" font-size="7.5" text-anchor="middle" fill="#6f86b8">Drug-induced mutations before</text>
<text x="173.30" y="351.20" font-size="7.5" text-anchor="middle" fill="#6f86b8">ecDNA amplification</text>
<text x="290.00" y="291.50" font-size="7.5" text-anchor="middle" fill="#5e3fa3">Amplification</text>
<rect x="268.5" y="296.25" width="34.0" height="1.5" fill="url(#agpr)"/><path d="M306.5 297L301.0 294.5V299.5Z" fill="#5e3fa3"/>
<circle cx="327.7" cy="288.6" r="10.5" fill="#dad7ec" stroke="#8a81c4" stroke-width="0.75" stroke-dasharray="0.9 0.45"/><circle cx="327.7" cy="288.6" r="8.20" fill="none" stroke="#cdc9e6" stroke-width="3.00" stroke-dasharray="0.4 0.6"/><circle cx="327.7" cy="288.6" r="5.9" fill="#f2f1fa" stroke="#8a81c4" stroke-width="0.75" stroke-dasharray="0.9 0.45"/><circle cx="327.7" cy="288.6" r="4.0" fill="none" stroke="#cfcbe4" stroke-width="0.5" stroke-dasharray="0.6 0.6"/>
<circle cx="351.4" cy="277.7" r="10.5" fill="#dad7ec" stroke="#8a81c4" stroke-width="0.75" stroke-dasharray="0.9 0.45"/><circle cx="351.4" cy="277.7" r="8.20" fill="none" stroke="#cdc9e6" stroke-width="3.00" stroke-dasharray="0.4 0.6"/><circle cx="351.4" cy="277.7" r="5.9" fill="#f2f1fa" stroke="#8a81c4" stroke-width="0.75" stroke-dasharray="0.9 0.45"/><circle cx="351.4" cy="277.7" r="4.0" fill="none" stroke="#cfcbe4" stroke-width="0.5" stroke-dasharray="0.6 0.6"/>
<circle cx="349.6" cy="302.5" r="10.5" fill="#dad7ec" stroke="#8a81c4" stroke-width="0.75" stroke-dasharray="0.9 0.45"/><circle cx="349.6" cy="302.5" r="8.20" fill="none" stroke="#cdc9e6" stroke-width="3.00" stroke-dasharray="0.4 0.6"/><circle cx="349.6" cy="302.5" r="5.9" fill="#f2f1fa" stroke="#8a81c4" stroke-width="0.75" stroke-dasharray="0.9 0.45"/><circle cx="349.6" cy="302.5" r="4.0" fill="none" stroke="#cfcbe4" stroke-width="0.5" stroke-dasharray="0.6 0.6"/>
<rect x="367.1" y="266.7" width="5.199999999999989" height="48.60000000000002" fill="#dfdde9" stroke="#cfccdc" stroke-width="0.4"/>
<text x="397.00" y="291.50" font-size="7.5" text-anchor="middle" fill="#20a381">Mutation</text>
<rect x="382.5" y="296.25" width="30.0" height="1.5" fill="url(#aggr)"/><path d="M416.5 297L411.0 294.5V299.5Z" fill="#20a381"/>
<text x="330.60" y="343.60" font-size="7.5" text-anchor="middle" fill="#6f86b8">ecDNA amplification before</text>
<text x="330.60" y="352.20" font-size="7.5" text-anchor="middle" fill="#6f86b8">drug-induced mutations</text>
<circle cx="431.2" cy="289.2" r="10.5" fill="#dad7ec" stroke="#8a81c4" stroke-width="0.75" stroke-dasharray="0.9 0.45"/><circle cx="431.2" cy="289.2" r="8.20" fill="none" stroke="#cdc9e6" stroke-width="3.00" stroke-dasharray="0.4 0.6"/><circle cx="431.2" cy="289.2" r="5.9" fill="#f2f1fa" stroke="#8a81c4" stroke-width="0.75" stroke-dasharray="0.9 0.45"/><circle cx="431.2" cy="289.2" r="4.0" fill="none" stroke="#cfcbe4" stroke-width="0.5" stroke-dasharray="0.6 0.6"/>
<circle cx="455.4" cy="278.1" r="10.5" fill="#dad7ec" stroke="#8a81c4" stroke-width="0.75" stroke-dasharray="0.9 0.45"/><circle cx="455.4" cy="278.1" r="8.20" fill="none" stroke="#cdc9e6" stroke-width="3.00" stroke-dasharray="0.4 0.6"/><circle cx="455.4" cy="278.1" r="5.9" fill="#f2f1fa" stroke="#8a81c4" stroke-width="0.75" stroke-dasharray="0.9 0.45"/><circle cx="455.4" cy="278.1" r="4.0" fill="none" stroke="#cfcbe4" stroke-width="0.5" stroke-dasharray="0.6 0.6"/>
<circle cx="452.6" cy="302.3" r="10.5" fill="#dad7ec" stroke="#8a81c4" stroke-width="0.75" stroke-dasharray="0.9 0.45"/><circle cx="452.6" cy="302.3" r="8.20" fill="none" stroke="#cdc9e6" stroke-width="3.00" stroke-dasharray="0.4 0.6"/><circle cx="452.6" cy="302.3" r="5.9" fill="#f2f1fa" stroke="#8a81c4" stroke-width="0.75" stroke-dasharray="0.9 0.45"/><circle cx="452.6" cy="302.3" r="4.0" fill="none" stroke="#cfcbe4" stroke-width="0.5" stroke-dasharray="0.6 0.6"/>
<rect x="469.7" y="267.7" width="5.300000000000011" height="48.5" fill="#dfdde9" stroke="#cfccdc" stroke-width="0.4"/>
<text x="435.80" y="268.50" font-size="7.5" fill="#33285e">C&gt;T</text>
<path d="M449.5 269L451.8 274" stroke="#33285e" stroke-width="0.5"/>
<path d="M470 283.2H475.5M470 281.7V284.7" stroke="#9a5b3f" stroke-width="0.5" stroke-dasharray="0.8 0.5"/>
<text x="476.30" y="285.90" font-size="7.5" fill="#9a5b3f">C&gt;T</text>
<rect x="441.1" y="325.4" width="39.19999999999999" height="26.100000000000023" fill="#fff" stroke="#c9c6d6" stroke-width="0.4"/><path d="M441.8 325.9C442.6 345.0 449.7 350.9 461.5 350.9" fill="none" stroke="#4a2d6a" stroke-width="1"/><path d="M441.8 325.9C442.6 345.0 449.7 350.9 461.5 350.9" fill="none" stroke="#9a5b3f" stroke-width="0.5" stroke-dasharray="1.5 1.5"/>
<text x="438.30" y="333.40" font-size="7.5" text-anchor="end" fill="#6f86b8">ecDNA</text>
<text x="438.30" y="342.00" font-size="7.5" text-anchor="end" fill="#6f86b8">CN</text>
<text x="441.20" y="358.74" font-size="6.5" text-anchor="middle" fill="#6f86b8">0</text>
<text x="480.30" y="358.74" font-size="6.5" text-anchor="middle" fill="#6f86b8">1</text>
<text x="461.20" y="365.70" font-size="7.5" text-anchor="middle" fill="#6f86b8">MAF</text>
<text x="0.80" y="389.80" font-size="10" font-weight="bold" fill="#111">G</text>
<text x="13.00" y="403.90" font-size="7.5" fill="#231f20">Patient MGH1518</text>
<g transform="translate(17.9 413.2) scale(1.0)"><circle cx="0" cy="2.1" r="2.1" fill="#e9a51f"/><path d="M-4.8 7.2Q-4.8 4.9 -2.6 4.9H2.6Q4.8 4.9 4.8 7.2V15.2Q4.8 16.2 3.9 16.2Q3.1 16.2 3.1 15.2V8.4H2.7V25.6Q2.7 26.8 1.5 26.8Q0.3 26.8 0.3 25.6V16H-0.3V25.6Q-0.3 26.8 -1.5 26.8Q-2.7 26.8 -2.7 25.6V8.4H-3.1V15.2Q-3.1 16.2 -3.9 16.2Q-4.8 16.2 -4.8 15.2Z" fill="#e9a51f"/></g>
<text x="26.20" y="436.90" font-size="7.5" fill="#231f20">MGH1518-1BX</text>
<text x="4.20" y="451.40" font-size="7.5" fill="#231f20">EC</text>
<text x="4.20" y="480.70" font-size="7.5" fill="#231f20">OT</text>
<text x="34.20" y="499.40" font-size="7.5" fill="#231f20">MGH1518-3A</text>
<path d="M18.5 445.5H36.5" stroke="#c8a0a0" stroke-width="0.8"/>
<path d="M18.5 445.5V455" stroke="#e57c78" stroke-width="0.9"/>
<path d="M16 454.3H21L18.5 459.6Z" fill="#dd4f50"/>
<path d="M18.5 460V472" stroke="#e57c78" stroke-width="0.9" stroke-dasharray="1.6 1.2"/>
<path d="M18.5 472V502.5" stroke="#27a88e" stroke-width="0.9"/>
<path d="M15.8 501.5H21.2L18.5 507.2Z" fill="#27a88e"/>
<path d="M18.5 505.5H37" stroke="#8fc9bd" stroke-width="0.8"/>
<path d="M57.0 449.5C61.0 449.5 65.0 452 62.0 453.6" fill="none" stroke="#bfa39b" stroke-width="0.7"/><path d="M44.0 450.5L42.5 453H45.0M53.5 451L51.5 453.4H55.0" fill="none" stroke="#bfa39b" stroke-width="0.7"/><path d="M37.8 448.2C39.5 445.5 42.5 444.2 45.5 444.4C49.5 442.2 56.5 443 57.8 448C58.5 451.5 53.5 452 48.5 451.6C44.5 451.4 40.0 450.6 37.8 448.2Z" stroke="#bfa39b" stroke-width="0.7" fill="#fbf7f5"/><ellipse cx="44.1" cy="444.4" rx="1.5" ry="1.3" stroke="#bfa39b" stroke-width="0.7" fill="#fbf7f5"/><circle cx="40.9" cy="447.2" r="0.3" fill="#caa"/><circle cx="52.8" cy="443.6" r="3" fill="#f4d42a"/>
<path d="M57.0 511.5C61.0 511.5 65.0 514 62.0 515.6" fill="none" stroke="#bfa39b" stroke-width="0.7"/><path d="M44.0 512.5L42.5 515H45.0M53.5 513L51.5 515.4H55.0" fill="none" stroke="#bfa39b" stroke-width="0.7"/><path d="M37.8 510.2C39.5 507.5 42.5 506.2 45.5 506.4C49.5 504.2 56.5 505 57.8 510C58.5 513.5 53.5 514 48.5 513.6C44.5 513.4 40.0 512.6 37.8 510.2Z" stroke="#bfa39b" stroke-width="0.7" fill="#fbf7f5"/><ellipse cx="44.1" cy="506.4" rx="1.5" ry="1.3" stroke="#bfa39b" stroke-width="0.7" fill="#fbf7f5"/><circle cx="40.9" cy="509.2" r="0.3" fill="#caa"/><circle cx="52.8" cy="505.6" r="3" fill="#7a52a8"/>
<path d="M92.4 441.2L124.3 463L182.6 441.6L135.5 478.5H124.5Z" fill="url(#coneg)"/>
<g><path d="M146.3 420.2L152.0 422.5L152.0 431.7L146.3 429.3Z" fill="#9a9432" stroke="#6f6b22" stroke-width="0.32" stroke-linejoin="round"/><path d="M152.0 422.5L155.6 421.6L155.6 430.8L152.0 431.7Z" fill="#bab446" stroke="#6f6b22" stroke-width="0.32" stroke-linejoin="round"/><path d="M146.3 420.2L150.0 419.4L155.6 421.6L152.0 422.5Z" fill="#ded757" stroke="#6f6b22" stroke-width="0.32" stroke-linejoin="round"/><path d="M142.5 419.0L148.2 421.4L148.2 432.6L142.5 430.2Z" fill="#9a9432" stroke="#6f6b22" stroke-width="0.32" stroke-linejoin="round"/><path d="M148.2 421.4L152.0 420.5L152.0 431.7L148.2 432.6Z" fill="#bab446" stroke="#6f6b22" stroke-width="0.32" stroke-linejoin="round"/><path d="M142.5 419.0L146.3 418.1L152.0 420.5L148.2 421.4Z" fill="#ded757" stroke="#6f6b22" stroke-width="0.32" stroke-linejoin="round"/><path d="M152.0 422.5L156.3 424.2L156.3 433.4L152.0 431.7Z" fill="#9a9432" stroke="#6f6b22" stroke-width="0.32" stroke-linejoin="round"/><path d="M156.3 424.2L159.9 423.3L159.9 432.5L156.3 433.4Z" fill="#bab446" stroke="#6f6b22" stroke-width="0.32" stroke-linejoin="round"/><path d="M152.0 422.5L155.6 421.6L159.9 423.3L156.3 424.2Z" fill="#ded757" stroke="#6f6b22" stroke-width="0.32" stroke-linejoin="round"/><path d="M138.5 420.3L144.2 422.8L144.2 433.5L138.5 431.0Z" fill="#9a9432" stroke="#6f6b22" stroke-width="0.32" stroke-linejoin="round"/><path d="M144.2 422.8L148.2 421.8L148.2 432.6L144.2 433.5Z" fill="#bab446" stroke="#6f6b22" stroke-width="0.32" stroke-linejoin="round"/><path d="M138.5 420.3L142.5 419.4L148.2 421.8L144.2 422.8Z" fill="#ded757" stroke="#6f6b22" stroke-width="0.32" stroke-linejoin="round"/><path d="M148.2 422.6L152.4 424.4L152.4 434.4L148.2 432.6Z" fill="#9a9432" stroke="#6f6b22" stroke-width="0.32" stroke-linejoin="round"/><path d="M152.4 424.4L156.3 423.5L156.3 433.4L152.4 434.4Z" fill="#bab446" stroke="#6f6b22" stroke-width="0.32" stroke-linejoin="round"/><path d="M148.2 422.6L152.0 421.7L156.3 423.5L152.4 424.4Z" fill="#ded757" stroke="#6f6b22" stroke-width="0.32" stroke-linejoin="round"/><path d="M156.3 426.2L160.2 427.8L160.2 435.1L156.3 433.4Z" fill="#9a9432" stroke="#6f6b22" stroke-width="0.32" stroke-linejoin="round"/><path d="M160.2 427.8L163.9 426.8L163.9 434.1L160.2 435.1Z" fill="#bab446" stroke="#6f6b22" stroke-width="0.32" stroke-linejoin="round"/><path d="M156.3 426.2L159.9 425.2L163.9 426.8L160.2 427.8Z" fill="#ded757" stroke="#6f6b22" stroke-width="0.32" stroke-linejoin="round"/><path d="M134.3 421.3L140.0 423.9L140.0 434.6L134.3 432.0Z" fill="#9a9432" stroke="#6f6b22" stroke-width="0.32" stroke-linejoin="round"/><path d="M140.0 423.9L144.2 422.9L144.2 433.5L140.0 434.6Z" fill="#bab446" stroke="#6f6b22" stroke-width="0.32" stroke-linejoin="round"/><path d="M134.3 421.3L138.5 420.4L144.2 422.9L140.0 423.9Z" fill="#ded757" stroke="#6f6b22" stroke-width="0.32" stroke-linejoin="round"/><path d="M144.2 423.2L148.5 425.1L148.5 435.4L144.2 433.5Z" fill="#9a9432" stroke="#6f6b22" stroke-width="0.32" stroke-linejoin="round"/><path d="M148.5 425.1L152.4 424.0L152.4 434.4L148.5 435.4Z" fill="#bab446" stroke="#6f6b22" stroke-width="0.32" stroke-linejoin="round"/><path d="M144.2 423.2L148.2 422.2L152.4 424.0L148.5 425.1Z" fill="#ded757" stroke="#6f6b22" stroke-width="0.32" stroke-linejoin="round"/><path d="M152.4 426.5L156.4 428.3L156.4 436.1L152.4 434.4Z" fill="#9a9432" stroke="#6f6b22" stroke-width="0.32" stroke-linejoin="round"/><path d="M156.4 428.3L160.2 427.2L160.2 435.1L156.4 436.1Z" fill="#bab446" stroke="#6f6b22" stroke-width="0.32" stroke-linejoin="round"/><path d="M152.4 426.5L156.3 425.6L160.2 427.2L156.4 428.3Z" fill="#ded757" stroke="#6f6b22" stroke-width="0.32" stroke-linejoin="round"/><path d="M160.2 429.3L164.1 430.9L164.1 436.7L160.2 435.1Z" fill="#9a9432" stroke="#6f6b22" stroke-width="0.32" stroke-linejoin="round"/><path d="M164.1 430.9L167.7 429.8L167.7 435.6L164.1 436.7Z" fill="#bab446" stroke="#6f6b22" stroke-width="0.32" stroke-linejoin="round"/><path d="M160.2 429.3L163.9 428.3L167.7 429.8L164.1 430.9Z" fill="#ded757" stroke="#6f6b22" stroke-width="0.32" stroke-linejoin="round"/><path d="M129.9 422.8L135.6 425.5L135.6 435.6L129.9 432.9Z" fill="#6d681e" stroke="#3a3812" stroke-width="0.32" stroke-linejoin="round"/><path d="M135.6 425.5L140.0 424.5L140.0 434.6L135.6 435.6Z" fill="#8f8a2c" stroke="#3a3812" stroke-width="0.32" stroke-linejoin="round"/><path d="M129.9 422.8L134.3 421.9L140.0 424.5L135.6 425.5Z" fill="#bab33f" stroke="#3a3812" stroke-width="0.32" stroke-linejoin="round"/><path d="M140.0 424.8L144.3 426.7L144.3 436.5L140.0 434.6Z" fill="#9a9432" stroke="#6f6b22" stroke-width="0.32" stroke-linejoin="round"/><path d="M144.3 426.7L148.5 425.6L148.5 435.4L144.3 436.5Z" fill="#bab446" stroke="#6f6b22" stroke-width="0.32" stroke-linejoin="round"/><path d="M140.0 424.8L144.2 423.7L148.5 425.6L144.3 426.7Z" fill="#ded757" stroke="#6f6b22" stroke-width="0.32" stroke-linejoin="round"/><path d="M148.5 427.3L152.4 429.1L152.4 437.2L148.5 435.4Z" fill="#9a9432" stroke="#6f6b22" stroke-width="0.32" stroke-linejoin="round"/><path d="M152.4 429.1L156.4 428.0L156.4 436.1L152.4 437.2Z" fill="#bab446" stroke="#6f6b22" stroke-width="0.32" stroke-linejoin="round"/><path d="M148.5 427.3L152.4 426.3L156.4 428.0L152.4 429.1Z" fill="#ded757" stroke="#6f6b22" stroke-width="0.32" stroke-linejoin="round"/><path d="M156.4 429.1L160.3 430.7L160.3 437.8L156.4 436.1Z" fill="#9a9432" stroke="#6f6b22" stroke-width="0.32" stroke-linejoin="round"/><path d="M160.3 430.7L164.1 429.6L164.1 436.7L160.3 437.8Z" fill="#bab446" stroke="#6f6b22" stroke-width="0.32" stroke-linejoin="round"/><path d="M156.4 429.1L160.2 428.0L164.1 429.6L160.3 430.7Z" fill="#ded757" stroke="#6f6b22" stroke-width="0.32" stroke-linejoin="round"/><path d="M164.1 431.2L167.8 432.8L167.8 438.2L164.1 436.7Z" fill="#454214" stroke="#2c2a0c" stroke-width="0.32" stroke-linejoin="round"/><path d="M167.8 432.8L171.4 431.7L171.4 437.1L167.8 438.2Z" fill="#5b581c" stroke="#2c2a0c" stroke-width="0.32" stroke-linejoin="round"/><path d="M164.1 431.2L167.7 430.2L171.4 431.7L167.8 432.8Z" fill="#7c7729" stroke="#2c2a0c" stroke-width="0.32" stroke-linejoin="round"/><path d="M125.4 421.1L131.0 423.9L131.0 436.7L125.4 433.9Z" fill="#6d681e" stroke="#3a3812" stroke-width="0.32" stroke-linejoin="round"/><path d="M131.0 423.9L135.6 422.8L135.6 435.6L131.0 436.7Z" fill="#8f8a2c" stroke="#3a3812" stroke-width="0.32" stroke-linejoin="round"/><path d="M125.4 421.1L129.9 420.1L135.6 422.8L131.0 423.9Z" fill="#bab33f" stroke="#3a3812" stroke-width="0.32" stroke-linejoin="round"/><path d="M135.6 423.2L139.9 425.3L139.9 437.7L135.6 435.6Z" fill="#6d681e" stroke="#3a3812" stroke-width="0.32" stroke-linejoin="round"/><path d="M139.9 425.3L144.3 424.1L144.3 436.5L139.9 437.7Z" fill="#8f8a2c" stroke="#3a3812" stroke-width="0.32" stroke-linejoin="round"/><path d="M135.6 423.2L140.0 422.2L144.3 424.1L139.9 425.3Z" fill="#bab33f" stroke="#3a3812" stroke-width="0.32" stroke-linejoin="round"/><path d="M144.3 427.9L148.3 429.7L148.3 438.4L144.3 436.5Z" fill="#9a9432" stroke="#6f6b22" stroke-width="0.32" stroke-linejoin="round"/><path d="M148.3 429.7L152.4 428.6L152.4 437.2L148.3 438.4Z" fill="#bab446" stroke="#6f6b22" stroke-width="0.32" stroke-linejoin="round"/><path d="M144.3 427.9L148.5 426.8L152.4 428.6L148.3 429.7Z" fill="#ded757" stroke="#6f6b22" stroke-width="0.32" stroke-linejoin="round"/><path d="M152.4 429.9L156.3 431.7L156.3 438.9L152.4 437.2Z" fill="#9a9432" stroke="#6f6b22" stroke-width="0.32" stroke-linejoin="round"/><path d="M156.3 431.7L160.3 430.5L160.3 437.8L156.3 438.9Z" fill="#bab446" stroke="#6f6b22" stroke-width="0.32" stroke-linejoin="round"/><path d="M152.4 429.9L156.4 428.8L160.3 430.5L156.3 431.7Z" fill="#ded757" stroke="#6f6b22" stroke-width="0.32" stroke-linejoin="round"/><path d="M160.3 432.0L164.1 433.6L164.1 439.4L160.3 437.8Z" fill="#454214" stroke="#2c2a0c" stroke-width="0.32" stroke-linejoin="round"/><path d="M164.1 433.6L167.8 432.5L167.8 438.2L164.1 439.4Z" fill="#5b581c" stroke="#2c2a0c" stroke-width="0.32" stroke-linejoin="round"/><path d="M160.3 432.0L164.1 430.9L167.8 432.5L164.1 433.6Z" fill="#7c7729" stroke="#2c2a0c" stroke-width="0.32" stroke-linejoin="round"/><path d="M167.8 433.8L171.6 435.4L171.6 439.8L167.8 438.2Z" fill="#454214" stroke="#2c2a0c" stroke-width="0.32" stroke-linejoin="round"/><path d="M171.6 435.4L175.2 434.2L175.2 438.6L171.6 439.8Z" fill="#5b581c" stroke="#2c2a0c" stroke-width="0.32" stroke-linejoin="round"/><path d="M167.8 433.8L171.4 432.7L175.2 434.2L171.6 435.4Z" fill="#7c7729" stroke="#2c2a0c" stroke-width="0.32" stroke-linejoin="round"/><path d="M120.5 422.1L126.1 425.0L126.1 437.9L120.5 435.0Z" fill="#6d681e" stroke="#3a3812" stroke-width="0.32" stroke-linejoin="round"/><path d="M126.1 425.0L131.0 423.8L131.0 436.7L126.1 437.9Z" fill="#8f8a2c" stroke="#3a3812" stroke-width="0.32" stroke-linejoin="round"/><path d="M120.5 422.1L125.4 421.0L131.0 423.8L126.1 425.0Z" fill="#bab33f" stroke="#3a3812" stroke-width="0.32" stroke-linejoin="round"/><path d="M131.0 422.5L135.2 424.7L135.2 438.9L131.0 436.7Z" fill="#6d681e" stroke="#3a3812" stroke-width="0.32" stroke-linejoin="round"/><path d="M135.2 424.7L139.9 423.5L139.9 437.7L135.2 438.9Z" fill="#8f8a2c" stroke="#3a3812" stroke-width="0.32" stroke-linejoin="round"/><path d="M131.0 422.5L135.6 421.4L139.9 423.5L135.2 424.7Z" fill="#bab33f" stroke="#3a3812" stroke-width="0.32" stroke-linejoin="round"/><path d="M139.9 424.6L143.9 426.5L143.9 439.6L139.9 437.7Z" fill="#6d681e" stroke="#3a3812" stroke-width="0.32" stroke-linejoin="round"/><path d="M143.9 426.5L148.3 425.3L148.3 438.4L143.9 439.6Z" fill="#8f8a2c" stroke="#3a3812" stroke-width="0.32" stroke-linejoin="round"/><path d="M139.9 424.6L144.3 423.4L148.3 425.3L143.9 426.5Z" fill="#bab33f" stroke="#3a3812" stroke-width="0.32" stroke-linejoin="round"/><path d="M148.3 431.8L152.1 433.6L152.1 440.1L148.3 438.4Z" fill="#9a9432" stroke="#6f6b22" stroke-width="0.32" stroke-linejoin="round"/><path d="M152.1 433.6L156.3 432.4L156.3 438.9L152.1 440.1Z" fill="#bab446" stroke="#6f6b22" stroke-width="0.32" stroke-linejoin="round"/><path d="M148.3 431.8L152.4 430.6L156.3 432.4L152.1 433.6Z" fill="#ded757" stroke="#6f6b22" stroke-width="0.32" stroke-linejoin="round"/><path d="M156.3 432.3L160.1 434.0L160.1 440.6L156.3 438.9Z" fill="#454214" stroke="#2c2a0c" stroke-width="0.32" stroke-linejoin="round"/><path d="M160.1 434.0L164.1 432.8L164.1 439.4L160.1 440.6Z" fill="#5b581c" stroke="#2c2a0c" stroke-width="0.32" stroke-linejoin="round"/><path d="M156.3 432.3L160.3 431.1L164.1 432.8L160.1 434.0Z" fill="#7c7729" stroke="#2c2a0c" stroke-width="0.32" stroke-linejoin="round"/><path d="M164.1 433.9L167.8 435.5L167.8 441.0L164.1 439.4Z" fill="#454214" stroke="#2c2a0c" stroke-width="0.32" stroke-linejoin="round"/><path d="M167.8 435.5L171.6 434.3L171.6 439.8L167.8 441.0Z" fill="#5b581c" stroke="#2c2a0c" stroke-width="0.32" stroke-linejoin="round"/><path d="M164.1 433.9L167.8 432.8L171.6 434.3L167.8 435.5Z" fill="#7c7729" stroke="#2c2a0c" stroke-width="0.32" stroke-linejoin="round"/><path d="M171.6 435.9L175.3 437.5L175.3 441.3L171.6 439.8Z" fill="#454214" stroke="#2c2a0c" stroke-width="0.32" stroke-linejoin="round"/><path d="M175.3 437.5L178.9 436.2L178.9 440.1L175.3 441.3Z" fill="#5b581c" stroke="#2c2a0c" stroke-width="0.32" stroke-linejoin="round"/><path d="M171.6 435.9L175.2 434.8L178.9 436.2L175.3 437.5Z" fill="#7c7729" stroke="#2c2a0c" stroke-width="0.32" stroke-linejoin="round"/><path d="M115.5 422.9L121.0 425.9L121.0 439.1L115.5 436.1Z" fill="#6d681e" stroke="#3a3812" stroke-width="0.32" stroke-linejoin="round"/><path d="M121.0 425.9L126.1 424.7L126.1 437.9L121.0 439.1Z" fill="#8f8a2c" stroke="#3a3812" stroke-width="0.32" stroke-linejoin="round"/><path d="M115.5 422.9L120.5 421.8L126.1 424.7L121.0 425.9Z" fill="#bab33f" stroke="#3a3812" stroke-width="0.32" stroke-linejoin="round"/><path d="M126.1 423.6L130.4 425.8L130.4 440.1L126.1 437.9Z" fill="#6d681e" stroke="#3a3812" stroke-width="0.32" stroke-linejoin="round"/><path d="M130.4 425.8L135.2 424.5L135.2 438.9L130.4 440.1Z" fill="#8f8a2c" stroke="#3a3812" stroke-width="0.32" stroke-linejoin="round"/><path d="M126.1 423.6L131.0 422.4L135.2 424.5L130.4 425.8Z" fill="#bab33f" stroke="#3a3812" stroke-width="0.32" stroke-linejoin="round"/><path d="M135.2 425.4L139.2 427.3L139.2 440.8L135.2 438.9Z" fill="#6d681e" stroke="#3a3812" stroke-width="0.32" stroke-linejoin="round"/><path d="M139.2 427.3L143.9 426.1L143.9 439.6L139.2 440.8Z" fill="#8f8a2c" stroke="#3a3812" stroke-width="0.32" stroke-linejoin="round"/><path d="M135.2 425.4L139.9 424.2L143.9 426.1L139.2 427.3Z" fill="#bab33f" stroke="#3a3812" stroke-width="0.32" stroke-linejoin="round"/><path d="M143.9 427.2L147.8 429.1L147.8 441.4L143.9 439.6Z" fill="#6d681e" stroke="#3a3812" stroke-width="0.32" stroke-linejoin="round"/><path d="M147.8 429.1L152.1 427.8L152.1 440.1L147.8 441.4Z" fill="#8f8a2c" stroke="#3a3812" stroke-width="0.32" stroke-linejoin="round"/><path d="M143.9 427.2L148.3 426.0L152.1 427.8L147.8 429.1Z" fill="#bab33f" stroke="#3a3812" stroke-width="0.32" stroke-linejoin="round"/><path d="M152.1 432.2L156.0 433.9L156.0 441.9L152.1 440.1Z" fill="#454214" stroke="#2c2a0c" stroke-width="0.32" stroke-linejoin="round"/><path d="M156.0 433.9L160.1 432.7L160.1 440.6L156.0 441.9Z" fill="#5b581c" stroke="#2c2a0c" stroke-width="0.32" stroke-linejoin="round"/><path d="M152.1 432.2L156.3 431.0L160.1 432.7L156.0 433.9Z" fill="#7c7729" stroke="#2c2a0c" stroke-width="0.32" stroke-linejoin="round"/><path d="M160.1 434.1L163.9 435.8L163.9 442.3L160.1 440.6Z" fill="#454214" stroke="#2c2a0c" stroke-width="0.32" stroke-linejoin="round"/><path d="M163.9 435.8L167.8 434.5L167.8 441.0L163.9 442.3Z" fill="#5b581c" stroke="#2c2a0c" stroke-width="0.32" stroke-linejoin="round"/><path d="M160.1 434.1L164.1 432.9L167.8 434.5L163.9 435.8Z" fill="#7c7729" stroke="#2c2a0c" stroke-width="0.32" stroke-linejoin="round"/><path d="M167.8 435.5L171.6 437.1L171.6 442.6L167.8 441.0Z" fill="#454214" stroke="#2c2a0c" stroke-width="0.32" stroke-linejoin="round"/><path d="M171.6 437.1L175.3 435.8L175.3 441.3L171.6 442.6Z" fill="#5b581c" stroke="#2c2a0c" stroke-width="0.32" stroke-linejoin="round"/><path d="M167.8 435.5L171.6 434.3L175.3 435.8L171.6 437.1Z" fill="#7c7729" stroke="#2c2a0c" stroke-width="0.32" stroke-linejoin="round"/><path d="M175.3 438.2L179.1 439.8L179.1 442.9L175.3 441.3Z" fill="#454214" stroke="#2c2a0c" stroke-width="0.32" stroke-linejoin="round"/><path d="M179.1 439.8L182.6 438.5L182.6 441.6L179.1 442.9Z" fill="#5b581c" stroke="#2c2a0c" stroke-width="0.32" stroke-linejoin="round"/><path d="M175.3 438.2L178.9 437.0L182.6 438.5L179.1 439.8Z" fill="#7c7729" stroke="#2c2a0c" stroke-width="0.32" stroke-linejoin="round"/><path d="M110.2 432.4L115.7 435.5L115.7 440.4L110.2 437.3Z" fill="#121208" stroke="#0a0a05" stroke-width="0.32" stroke-linejoin="round"/><path d="M115.7 435.5L121.0 434.2L121.0 439.1L115.7 440.4Z" fill="#1d1c0e" stroke="#0a0a05" stroke-width="0.32" stroke-linejoin="round"/><path d="M110.2 432.4L115.5 431.2L121.0 434.2L115.7 435.5Z" fill="#2e2d16" stroke="#0a0a05" stroke-width="0.32" stroke-linejoin="round"/><path d="M121.0 424.2L125.3 426.5L125.3 441.4L121.0 439.1Z" fill="#6d681e" stroke="#3a3812" stroke-width="0.32" stroke-linejoin="round"/><path d="M125.3 426.5L130.4 425.2L130.4 440.1L125.3 441.4Z" fill="#8f8a2c" stroke="#3a3812" stroke-width="0.32" stroke-linejoin="round"/><path d="M121.0 424.2L126.1 423.0L130.4 425.2L125.3 426.5Z" fill="#bab33f" stroke="#3a3812" stroke-width="0.32" stroke-linejoin="round"/><path d="M130.4 424.7L134.4 426.8L134.4 442.2L130.4 440.1Z" fill="#6d681e" stroke="#3a3812" stroke-width="0.32" stroke-linejoin="round"/><path d="M134.4 426.8L139.2 425.4L139.2 440.8L134.4 442.2Z" fill="#8f8a2c" stroke="#3a3812" stroke-width="0.32" stroke-linejoin="round"/><path d="M130.4 424.7L135.2 423.5L139.2 425.4L134.4 426.8Z" fill="#bab33f" stroke="#3a3812" stroke-width="0.32" stroke-linejoin="round"/><path d="M139.2 427.1L143.1 429.0L143.1 442.8L139.2 440.8Z" fill="#6d681e" stroke="#3a3812" stroke-width="0.32" stroke-linejoin="round"/><path d="M143.1 429.0L147.8 427.6L147.8 441.4L143.1 442.8Z" fill="#8f8a2c" stroke="#3a3812" stroke-width="0.32" stroke-linejoin="round"/><path d="M139.2 427.1L143.9 425.8L147.8 427.6L143.1 429.0Z" fill="#bab33f" stroke="#3a3812" stroke-width="0.32" stroke-linejoin="round"/><path d="M147.8 438.1L151.6 440.0L151.6 443.3L147.8 441.4Z" fill="#8a8530" stroke="#6a6622" stroke-width="0.32" stroke-linejoin="round"/><path d="M151.6 440.0L156.0 438.6L156.0 441.9L151.6 443.3Z" fill="#a6a03c" stroke="#6a6622" stroke-width="0.32" stroke-linejoin="round"/><path d="M147.8 438.1L152.1 436.8L156.0 438.6L151.6 440.0Z" fill="#c6bf4a" stroke="#6a6622" stroke-width="0.32" stroke-linejoin="round"/><path d="M156.0 435.2L159.8 436.9L159.8 443.7L156.0 441.9Z" fill="#454214" stroke="#2c2a0c" stroke-width="0.32" stroke-linejoin="round"/><path d="M159.8 436.9L163.9 435.6L163.9 442.3L159.8 443.7Z" fill="#5b581c" stroke="#2c2a0c" stroke-width="0.32" stroke-linejoin="round"/><path d="M156.0 435.2L160.1 433.9L163.9 435.6L159.8 436.9Z" fill="#7c7729" stroke="#2c2a0c" stroke-width="0.32" stroke-linejoin="round"/><path d="M163.9 436.5L167.7 438.2L167.7 444.0L163.9 442.3Z" fill="#454214" stroke="#2c2a0c" stroke-width="0.32" stroke-linejoin="round"/><path d="M167.7 438.2L171.6 436.9L171.6 442.6L167.7 444.0Z" fill="#5b581c" stroke="#2c2a0c" stroke-width="0.32" stroke-linejoin="round"/><path d="M163.9 436.5L167.8 435.2L171.6 436.9L167.7 438.2Z" fill="#7c7729" stroke="#2c2a0c" stroke-width="0.32" stroke-linejoin="round"/><path d="M171.6 437.8L175.4 439.5L175.4 444.2L171.6 442.6Z" fill="#454214" stroke="#2c2a0c" stroke-width="0.32" stroke-linejoin="round"/><path d="M175.4 439.5L179.1 438.1L179.1 442.9L175.4 444.2Z" fill="#5b581c" stroke="#2c2a0c" stroke-width="0.32" stroke-linejoin="round"/><path d="M171.6 437.8L175.3 436.6L179.1 438.1L175.4 439.5Z" fill="#7c7729" stroke="#2c2a0c" stroke-width="0.32" stroke-linejoin="round"/><path d="M104.6 434.6L110.0 437.9L110.0 441.8L104.6 438.5Z" fill="#121208" stroke="#0a0a05" stroke-width="0.32" stroke-linejoin="round"/><path d="M110.0 437.9L115.7 436.5L115.7 440.4L110.0 441.8Z" fill="#1d1c0e" stroke="#0a0a05" stroke-width="0.32" stroke-linejoin="round"/><path d="M104.6 434.6L110.2 433.4L115.7 436.5L110.0 437.9Z" fill="#2e2d16" stroke="#0a0a05" stroke-width="0.32" stroke-linejoin="round"/><path d="M115.7 435.7L119.9 438.1L119.9 442.8L115.7 440.4Z" fill="#121208" stroke="#0a0a05" stroke-width="0.32" stroke-linejoin="round"/><path d="M119.9 438.1L125.3 436.7L125.3 441.4L119.9 442.8Z" fill="#1d1c0e" stroke="#0a0a05" stroke-width="0.32" stroke-linejoin="round"/><path d="M115.7 435.7L121.0 434.4L125.3 436.7L119.9 438.1Z" fill="#2e2d16" stroke="#0a0a05" stroke-width="0.32" stroke-linejoin="round"/><path d="M125.3 425.8L129.2 428.0L129.2 443.6L125.3 441.4Z" fill="#6d681e" stroke="#3a3812" stroke-width="0.32" stroke-linejoin="round"/><path d="M129.2 428.0L134.4 426.6L134.4 442.2L129.2 443.6Z" fill="#8f8a2c" stroke="#3a3812" stroke-width="0.32" stroke-linejoin="round"/><path d="M125.3 425.8L130.4 424.5L134.4 426.6L129.2 428.0Z" fill="#bab33f" stroke="#3a3812" stroke-width="0.32" stroke-linejoin="round"/><path d="M134.4 427.6L138.3 429.6L138.3 444.2L134.4 442.2Z" fill="#6d681e" stroke="#3a3812" stroke-width="0.32" stroke-linejoin="round"/><path d="M138.3 429.6L143.1 428.2L143.1 442.8L138.3 444.2Z" fill="#8f8a2c" stroke="#3a3812" stroke-width="0.32" stroke-linejoin="round"/><path d="M134.4 427.6L139.2 426.3L143.1 428.2L138.3 429.6Z" fill="#bab33f" stroke="#3a3812" stroke-width="0.32" stroke-linejoin="round"/><path d="M143.1 438.5L147.0 440.4L147.0 444.7L143.1 442.8Z" fill="#8a8530" stroke="#6a6622" stroke-width="0.32" stroke-linejoin="round"/><path d="M147.0 440.4L151.6 439.0L151.6 443.3L147.0 444.7Z" fill="#a6a03c" stroke="#6a6622" stroke-width="0.32" stroke-linejoin="round"/><path d="M143.1 438.5L147.8 437.1L151.6 439.0L147.0 440.4Z" fill="#c6bf4a" stroke="#6a6622" stroke-width="0.32" stroke-linejoin="round"/><path d="M151.6 440.9L155.4 442.7L155.4 445.1L151.6 443.3Z" fill="#8a8530" stroke="#6a6622" stroke-width="0.32" stroke-linejoin="round"/><path d="M155.4 442.7L159.8 441.3L159.8 443.7L155.4 445.1Z" fill="#a6a03c" stroke="#6a6622" stroke-width="0.32" stroke-linejoin="round"/><path d="M151.6 440.9L156.0 439.5L159.8 441.3L155.4 442.7Z" fill="#c6bf4a" stroke="#6a6622" stroke-width="0.32" stroke-linejoin="round"/><path d="M159.8 437.0L163.6 438.7L163.6 445.4L159.8 443.7Z" fill="#454214" stroke="#2c2a0c" stroke-width="0.32" stroke-linejoin="round"/><path d="M163.6 438.7L167.7 437.3L167.7 444.0L163.6 445.4Z" fill="#5b581c" stroke="#2c2a0c" stroke-width="0.32" stroke-linejoin="round"/><path d="M159.8 437.0L163.9 435.6L167.7 437.3L163.6 438.7Z" fill="#7c7729" stroke="#2c2a0c" stroke-width="0.32" stroke-linejoin="round"/><path d="M167.7 438.7L171.5 440.3L171.5 445.7L167.7 444.0Z" fill="#454214" stroke="#2c2a0c" stroke-width="0.32" stroke-linejoin="round"/><path d="M171.5 440.3L175.4 438.9L175.4 444.2L171.5 445.7Z" fill="#5b581c" stroke="#2c2a0c" stroke-width="0.32" stroke-linejoin="round"/><path d="M167.7 438.7L171.6 437.3L175.4 438.9L171.5 440.3Z" fill="#7c7729" stroke="#2c2a0c" stroke-width="0.32" stroke-linejoin="round"/><path d="M98.6 434.3L104.0 437.7L104.0 443.3L98.6 439.8Z" fill="#121208" stroke="#0a0a05" stroke-width="0.32" stroke-linejoin="round"/><path d="M104.0 437.7L110.0 436.3L110.0 441.8L104.0 443.3Z" fill="#1d1c0e" stroke="#0a0a05" stroke-width="0.32" stroke-linejoin="round"/><path d="M98.6 434.3L104.6 433.0L110.0 436.3L104.0 437.7Z" fill="#2e2d16" stroke="#0a0a05" stroke-width="0.32" stroke-linejoin="round"/><path d="M110.0 438.1L114.1 440.6L114.1 444.3L110.0 441.8Z" fill="#121208" stroke="#0a0a05" stroke-width="0.32" stroke-linejoin="round"/><path d="M114.1 440.6L119.9 439.2L119.9 442.8L114.1 444.3Z" fill="#1d1c0e" stroke="#0a0a05" stroke-width="0.32" stroke-linejoin="round"/><path d="M110.0 438.1L115.7 436.8L119.9 439.2L114.1 440.6Z" fill="#2e2d16" stroke="#0a0a05" stroke-width="0.32" stroke-linejoin="round"/><path d="M119.9 439.6L123.8 441.9L123.8 445.1L119.9 442.8Z" fill="#121208" stroke="#0a0a05" stroke-width="0.32" stroke-linejoin="round"/><path d="M123.8 441.9L129.2 440.4L129.2 443.6L123.8 445.1Z" fill="#1d1c0e" stroke="#0a0a05" stroke-width="0.32" stroke-linejoin="round"/><path d="M119.9 439.6L125.3 438.2L129.2 440.4L123.8 441.9Z" fill="#2e2d16" stroke="#0a0a05" stroke-width="0.32" stroke-linejoin="round"/><path d="M129.2 428.2L133.1 430.3L133.1 445.7L129.2 443.6Z" fill="#6d681e" stroke="#3a3812" stroke-width="0.32" stroke-linejoin="round"/><path d="M133.1 430.3L138.3 428.8L138.3 444.2L133.1 445.7Z" fill="#8f8a2c" stroke="#3a3812" stroke-width="0.32" stroke-linejoin="round"/><path d="M129.2 428.2L134.4 426.8L138.3 428.8L133.1 430.3Z" fill="#bab33f" stroke="#3a3812" stroke-width="0.32" stroke-linejoin="round"/><path d="M138.3 440.1L142.1 442.1L142.1 446.2L138.3 444.2Z" fill="#8a8530" stroke="#6a6622" stroke-width="0.32" stroke-linejoin="round"/><path d="M142.1 442.1L147.0 440.6L147.0 444.7L142.1 446.2Z" fill="#a6a03c" stroke="#6a6622" stroke-width="0.32" stroke-linejoin="round"/><path d="M138.3 440.1L143.1 438.7L147.0 440.6L142.1 442.1Z" fill="#c6bf4a" stroke="#6a6622" stroke-width="0.32" stroke-linejoin="round"/><path d="M147.0 442.1L150.8 444.0L150.8 446.6L147.0 444.7Z" fill="#8a8530" stroke="#6a6622" stroke-width="0.32" stroke-linejoin="round"/><path d="M150.8 444.0L155.4 442.5L155.4 445.1L150.8 446.6Z" fill="#a6a03c" stroke="#6a6622" stroke-width="0.32" stroke-linejoin="round"/><path d="M147.0 442.1L151.6 440.7L155.4 442.5L150.8 444.0Z" fill="#c6bf4a" stroke="#6a6622" stroke-width="0.32" stroke-linejoin="round"/><path d="M155.4 441.9L159.2 443.8L159.2 446.9L155.4 445.1Z" fill="#8a8530" stroke="#6a6622" stroke-width="0.32" stroke-linejoin="round"/><path d="M159.2 443.8L163.6 442.2L163.6 445.4L159.2 446.9Z" fill="#a6a03c" stroke="#6a6622" stroke-width="0.32" stroke-linejoin="round"/><path d="M155.4 441.9L159.8 440.5L163.6 442.2L159.2 443.8Z" fill="#c6bf4a" stroke="#6a6622" stroke-width="0.32" stroke-linejoin="round"/><path d="M163.6 439.4L167.4 441.1L167.4 447.2L163.6 445.4Z" fill="#454214" stroke="#2c2a0c" stroke-width="0.32" stroke-linejoin="round"/><path d="M167.4 441.1L171.5 439.6L171.5 445.7L167.4 447.2Z" fill="#5b581c" stroke="#2c2a0c" stroke-width="0.32" stroke-linejoin="round"/><path d="M163.6 439.4L167.7 437.9L171.5 439.6L167.4 441.1Z" fill="#7c7729" stroke="#2c2a0c" stroke-width="0.32" stroke-linejoin="round"/><path d="M92.4 437.8L97.6 441.4L97.6 444.8L92.4 441.2Z" fill="#121208" stroke="#0a0a05" stroke-width="0.32" stroke-linejoin="round"/><path d="M97.6 441.4L104.0 439.8L104.0 443.3L97.6 444.8Z" fill="#1d1c0e" stroke="#0a0a05" stroke-width="0.32" stroke-linejoin="round"/><path d="M92.4 437.8L98.6 436.4L104.0 439.8L97.6 441.4Z" fill="#2e2d16" stroke="#0a0a05" stroke-width="0.32" stroke-linejoin="round"/><path d="M104.0 437.9L108.1 440.5L108.1 445.9L104.0 443.3Z" fill="#121208" stroke="#0a0a05" stroke-width="0.32" stroke-linejoin="round"/><path d="M108.1 440.5L114.1 438.9L114.1 444.3L108.1 445.9Z" fill="#1d1c0e" stroke="#0a0a05" stroke-width="0.32" stroke-linejoin="round"/><path d="M104.0 437.9L110.0 436.4L114.1 438.9L108.1 440.5Z" fill="#2e2d16" stroke="#0a0a05" stroke-width="0.32" stroke-linejoin="round"/><path d="M114.1 440.7L118.1 443.1L118.1 446.7L114.1 444.3Z" fill="#121208" stroke="#0a0a05" stroke-width="0.32" stroke-linejoin="round"/><path d="M118.1 443.1L123.8 441.5L123.8 445.1L118.1 446.7Z" fill="#1d1c0e" stroke="#0a0a05" stroke-width="0.32" stroke-linejoin="round"/><path d="M114.1 440.7L119.9 439.2L123.8 441.5L118.1 443.1Z" fill="#2e2d16" stroke="#0a0a05" stroke-width="0.32" stroke-linejoin="round"/><path d="M123.8 441.6L127.7 443.8L127.7 447.3L123.8 445.1Z" fill="#121208" stroke="#0a0a05" stroke-width="0.32" stroke-linejoin="round"/><path d="M127.7 443.8L133.1 442.2L133.1 445.7L127.7 447.3Z" fill="#1d1c0e" stroke="#0a0a05" stroke-width="0.32" stroke-linejoin="round"/><path d="M123.8 441.6L129.2 440.1L133.1 442.2L127.7 443.8Z" fill="#2e2d16" stroke="#0a0a05" stroke-width="0.32" stroke-linejoin="round"/><path d="M133.1 441.3L136.9 443.4L136.9 447.8L133.1 445.7Z" fill="#8a8530" stroke="#6a6622" stroke-width="0.32" stroke-linejoin="round"/><path d="M136.9 443.4L142.1 441.8L142.1 446.2L136.9 447.8Z" fill="#a6a03c" stroke="#6a6622" stroke-width="0.32" stroke-linejoin="round"/><path d="M133.1 441.3L138.3 439.8L142.1 441.8L136.9 443.4Z" fill="#c6bf4a" stroke="#6a6622" stroke-width="0.32" stroke-linejoin="round"/><path d="M142.1 443.7L145.9 445.7L145.9 448.2L142.1 446.2Z" fill="#8a8530" stroke="#6a6622" stroke-width="0.32" stroke-linejoin="round"/><path d="M145.9 445.7L150.8 444.1L150.8 446.6L145.9 448.2Z" fill="#a6a03c" stroke="#6a6622" stroke-width="0.32" stroke-linejoin="round"/><path d="M142.1 443.7L147.0 442.2L150.8 444.1L145.9 445.7Z" fill="#c6bf4a" stroke="#6a6622" stroke-width="0.32" stroke-linejoin="round"/><path d="M150.8 443.4L154.6 445.3L154.6 448.5L150.8 446.6Z" fill="#8a8530" stroke="#6a6622" stroke-width="0.32" stroke-linejoin="round"/><path d="M154.6 445.3L159.2 443.7L159.2 446.9L154.6 448.5Z" fill="#a6a03c" stroke="#6a6622" stroke-width="0.32" stroke-linejoin="round"/><path d="M150.8 443.4L155.4 441.9L159.2 443.7L154.6 445.3Z" fill="#c6bf4a" stroke="#6a6622" stroke-width="0.32" stroke-linejoin="round"/><path d="M159.2 444.0L163.1 445.8L163.1 448.8L159.2 446.9Z" fill="#8a8530" stroke="#6a6622" stroke-width="0.32" stroke-linejoin="round"/><path d="M163.1 445.8L167.4 444.3L167.4 447.2L163.1 448.8Z" fill="#a6a03c" stroke="#6a6622" stroke-width="0.32" stroke-linejoin="round"/><path d="M159.2 444.0L163.6 442.5L167.4 444.3L163.1 445.8Z" fill="#c6bf4a" stroke="#6a6622" stroke-width="0.32" stroke-linejoin="round"/><path d="M97.6 441.1L101.7 443.9L101.7 447.5L97.6 444.8Z" fill="#121208" stroke="#0a0a05" stroke-width="0.32" stroke-linejoin="round"/><path d="M101.7 443.9L108.1 442.2L108.1 445.9L101.7 447.5Z" fill="#1d1c0e" stroke="#0a0a05" stroke-width="0.32" stroke-linejoin="round"/><path d="M97.6 441.1L104.0 439.6L108.1 442.2L101.7 443.9Z" fill="#2e2d16" stroke="#0a0a05" stroke-width="0.32" stroke-linejoin="round"/><path d="M108.1 442.4L112.0 444.9L112.0 448.4L108.1 445.9Z" fill="#121208" stroke="#0a0a05" stroke-width="0.32" stroke-linejoin="round"/><path d="M112.0 444.9L118.1 443.2L118.1 446.7L112.0 448.4Z" fill="#1d1c0e" stroke="#0a0a05" stroke-width="0.32" stroke-linejoin="round"/><path d="M108.1 442.4L114.1 440.9L118.1 443.2L112.0 444.9Z" fill="#2e2d16" stroke="#0a0a05" stroke-width="0.32" stroke-linejoin="round"/><path d="M118.1 443.2L121.9 445.5L121.9 449.0L118.1 446.7Z" fill="#121208" stroke="#0a0a05" stroke-width="0.32" stroke-linejoin="round"/><path d="M121.9 445.5L127.7 443.8L127.7 447.3L121.9 449.0Z" fill="#1d1c0e" stroke="#0a0a05" stroke-width="0.32" stroke-linejoin="round"/><path d="M118.1 443.2L123.8 441.6L127.7 443.8L121.9 445.5Z" fill="#2e2d16" stroke="#0a0a05" stroke-width="0.32" stroke-linejoin="round"/><path d="M127.7 443.6L131.5 445.8L131.5 449.5L127.7 447.3Z" fill="#8a8530" stroke="#6a6622" stroke-width="0.32" stroke-linejoin="round"/><path d="M131.5 445.8L136.9 444.1L136.9 447.8L131.5 449.5Z" fill="#a6a03c" stroke="#6a6622" stroke-width="0.32" stroke-linejoin="round"/><path d="M127.7 443.6L133.1 442.0L136.9 444.1L131.5 445.8Z" fill="#cdc64e" stroke="#6a6622" stroke-width="0.32" stroke-linejoin="round"/><path d="M136.9 444.6L140.8 446.7L140.8 449.9L136.9 447.8Z" fill="#8a8530" stroke="#6a6622" stroke-width="0.32" stroke-linejoin="round"/><path d="M140.8 446.7L145.9 445.0L145.9 448.2L140.8 449.9Z" fill="#a6a03c" stroke="#6a6622" stroke-width="0.32" stroke-linejoin="round"/><path d="M136.9 444.6L142.1 443.0L145.9 445.0L140.8 446.7Z" fill="#c6bf4a" stroke="#6a6622" stroke-width="0.32" stroke-linejoin="round"/><path d="M145.9 445.2L149.8 447.2L149.8 450.2L145.9 448.2Z" fill="#8a8530" stroke="#6a6622" stroke-width="0.32" stroke-linejoin="round"/><path d="M149.8 447.2L154.6 445.5L154.6 448.5L149.8 450.2Z" fill="#a6a03c" stroke="#6a6622" stroke-width="0.32" stroke-linejoin="round"/><path d="M145.9 445.2L150.8 443.6L154.6 445.5L149.8 447.2Z" fill="#c6bf4a" stroke="#6a6622" stroke-width="0.32" stroke-linejoin="round"/><path d="M154.6 446.0L158.5 448.0L158.5 450.4L154.6 448.5Z" fill="#8a8530" stroke="#6a6622" stroke-width="0.32" stroke-linejoin="round"/><path d="M158.5 448.0L163.1 446.3L163.1 448.8L158.5 450.4Z" fill="#a6a03c" stroke="#6a6622" stroke-width="0.32" stroke-linejoin="round"/><path d="M154.6 446.0L159.2 444.4L163.1 446.3L158.5 448.0Z" fill="#c6bf4a" stroke="#6a6622" stroke-width="0.32" stroke-linejoin="round"/><path d="M101.7 443.9L105.5 446.5L105.5 450.1L101.7 447.5Z" fill="#121208" stroke="#0a0a05" stroke-width="0.32" stroke-linejoin="round"/><path d="M105.5 446.5L112.0 444.7L112.0 448.4L105.5 450.1Z" fill="#1d1c0e" stroke="#0a0a05" stroke-width="0.32" stroke-linejoin="round"/><path d="M101.7 443.9L108.1 442.2L112.0 444.7L105.5 446.5Z" fill="#2e2d16" stroke="#0a0a05" stroke-width="0.32" stroke-linejoin="round"/><path d="M112.0 445.0L115.7 447.4L115.7 450.8L112.0 448.4Z" fill="#121208" stroke="#0a0a05" stroke-width="0.32" stroke-linejoin="round"/><path d="M115.7 447.4L121.9 445.6L121.9 449.0L115.7 450.8Z" fill="#1d1c0e" stroke="#0a0a05" stroke-width="0.32" stroke-linejoin="round"/><path d="M112.0 445.0L118.1 443.3L121.9 445.6L115.7 447.4Z" fill="#2e2d16" stroke="#0a0a05" stroke-width="0.32" stroke-linejoin="round"/><path d="M121.9 445.6L125.7 447.9L125.7 451.3L121.9 449.0Z" fill="#8a8530" stroke="#6a6622" stroke-width="0.32" stroke-linejoin="round"/><path d="M125.7 447.9L131.5 446.1L131.5 449.5L125.7 451.3Z" fill="#a6a03c" stroke="#6a6622" stroke-width="0.32" stroke-linejoin="round"/><path d="M121.9 445.6L127.7 443.9L131.5 446.1L125.7 447.9Z" fill="#cdc64e" stroke="#6a6622" stroke-width="0.32" stroke-linejoin="round"/><path d="M131.5 446.5L135.3 448.7L135.3 451.7L131.5 449.5Z" fill="#8a8530" stroke="#6a6622" stroke-width="0.32" stroke-linejoin="round"/><path d="M135.3 448.7L140.8 446.9L140.8 449.9L135.3 451.7Z" fill="#a6a03c" stroke="#6a6622" stroke-width="0.32" stroke-linejoin="round"/><path d="M131.5 446.5L136.9 444.8L140.8 446.9L135.3 448.7Z" fill="#cdc64e" stroke="#6a6622" stroke-width="0.32" stroke-linejoin="round"/><path d="M140.8 446.9L144.6 449.0L144.6 452.0L140.8 449.9Z" fill="#8a8530" stroke="#6a6622" stroke-width="0.32" stroke-linejoin="round"/><path d="M144.6 449.0L149.8 447.2L149.8 450.2L144.6 452.0Z" fill="#a6a03c" stroke="#6a6622" stroke-width="0.32" stroke-linejoin="round"/><path d="M140.8 446.9L145.9 445.2L149.8 447.2L144.6 449.0Z" fill="#c6bf4a" stroke="#6a6622" stroke-width="0.32" stroke-linejoin="round"/><path d="M149.8 447.7L153.7 449.8L153.7 452.2L149.8 450.2Z" fill="#8a8530" stroke="#6a6622" stroke-width="0.32" stroke-linejoin="round"/><path d="M153.7 449.8L158.5 448.0L158.5 450.4L153.7 452.2Z" fill="#a6a03c" stroke="#6a6622" stroke-width="0.32" stroke-linejoin="round"/><path d="M149.8 447.7L154.6 446.0L158.5 448.0L153.7 449.8Z" fill="#c6bf4a" stroke="#6a6622" stroke-width="0.32" stroke-linejoin="round"/><path d="M105.5 446.5L109.2 449.1L109.2 452.7L105.5 450.1Z" fill="#121208" stroke="#0a0a05" stroke-width="0.32" stroke-linejoin="round"/><path d="M109.2 449.1L115.7 447.2L115.7 450.8L109.2 452.7Z" fill="#1d1c0e" stroke="#0a0a05" stroke-width="0.32" stroke-linejoin="round"/><path d="M105.5 446.5L112.0 444.7L115.7 447.2L109.2 449.1Z" fill="#2e2d16" stroke="#0a0a05" stroke-width="0.32" stroke-linejoin="round"/><path d="M115.7 447.5L119.5 449.9L119.5 453.2L115.7 450.8Z" fill="#8a8530" stroke="#6a6622" stroke-width="0.32" stroke-linejoin="round"/><path d="M119.5 449.9L125.7 448.0L125.7 451.3L119.5 453.2Z" fill="#a6a03c" stroke="#6a6622" stroke-width="0.32" stroke-linejoin="round"/><path d="M115.7 447.5L121.9 445.7L125.7 448.0L119.5 449.9Z" fill="#cdc64e" stroke="#6a6622" stroke-width="0.32" stroke-linejoin="round"/><path d="M125.7 449.3L129.5 451.6L129.5 453.6L125.7 451.3Z" fill="#8a8530" stroke="#6a6622" stroke-width="0.32" stroke-linejoin="round"/><path d="M129.5 451.6L135.3 449.7L135.3 451.7L129.5 453.6Z" fill="#a6a03c" stroke="#6a6622" stroke-width="0.32" stroke-linejoin="round"/><path d="M125.7 449.3L131.5 447.5L135.3 449.7L129.5 451.6Z" fill="#cdc64e" stroke="#6a6622" stroke-width="0.32" stroke-linejoin="round"/><path d="M135.3 449.1L139.1 451.3L139.1 453.9L135.3 451.7Z" fill="#8a8530" stroke="#6a6622" stroke-width="0.32" stroke-linejoin="round"/><path d="M139.1 451.3L144.6 449.4L144.6 452.0L139.1 453.9Z" fill="#a6a03c" stroke="#6a6622" stroke-width="0.32" stroke-linejoin="round"/><path d="M135.3 449.1L140.8 447.3L144.6 449.4L139.1 451.3Z" fill="#cdc64e" stroke="#6a6622" stroke-width="0.32" stroke-linejoin="round"/><path d="M144.6 449.1L148.5 451.3L148.5 454.1L144.6 452.0Z" fill="#8a8530" stroke="#6a6622" stroke-width="0.32" stroke-linejoin="round"/><path d="M148.5 451.3L153.7 449.4L153.7 452.2L148.5 454.1Z" fill="#a6a03c" stroke="#6a6622" stroke-width="0.32" stroke-linejoin="round"/><path d="M144.6 449.1L149.8 447.3L153.7 449.4L148.5 451.3Z" fill="#c6bf4a" stroke="#6a6622" stroke-width="0.32" stroke-linejoin="round"/><path d="M109.2 448.9L112.9 451.4L112.9 455.2L109.2 452.7Z" fill="#8a8530" stroke="#6a6622" stroke-width="0.32" stroke-linejoin="round"/><path d="M112.9 451.4L119.5 449.4L119.5 453.2L112.9 455.2Z" fill="#a6a03c" stroke="#6a6622" stroke-width="0.32" stroke-linejoin="round"/><path d="M109.2 448.9L115.7 447.0L119.5 449.4L112.9 451.4Z" fill="#cdc64e" stroke="#6a6622" stroke-width="0.32" stroke-linejoin="round"/><path d="M119.5 450.2L123.3 452.6L123.3 455.6L119.5 453.2Z" fill="#8a8530" stroke="#6a6622" stroke-width="0.32" stroke-linejoin="round"/><path d="M123.3 452.6L129.5 450.6L129.5 453.6L123.3 455.6Z" fill="#a6a03c" stroke="#6a6622" stroke-width="0.32" stroke-linejoin="round"/><path d="M119.5 450.2L125.7 448.3L129.5 450.6L123.3 452.6Z" fill="#cdc64e" stroke="#6a6622" stroke-width="0.32" stroke-linejoin="round"/><path d="M129.5 451.0L133.3 453.3L133.3 455.9L129.5 453.6Z" fill="#8a8530" stroke="#6a6622" stroke-width="0.32" stroke-linejoin="round"/><path d="M133.3 453.3L139.1 451.3L139.1 453.9L133.3 455.9Z" fill="#a6a03c" stroke="#6a6622" stroke-width="0.32" stroke-linejoin="round"/><path d="M129.5 451.0L135.3 449.0L139.1 451.3L133.3 453.3Z" fill="#cdc64e" stroke="#6a6622" stroke-width="0.32" stroke-linejoin="round"/><path d="M139.1 451.1L143.0 453.4L143.0 456.1L139.1 453.9Z" fill="#8a8530" stroke="#6a6622" stroke-width="0.32" stroke-linejoin="round"/><path d="M143.0 453.4L148.5 451.3L148.5 454.1L143.0 456.1Z" fill="#a6a03c" stroke="#6a6622" stroke-width="0.32" stroke-linejoin="round"/><path d="M139.1 451.1L144.6 449.2L148.5 451.3L143.0 453.4Z" fill="#cdc64e" stroke="#6a6622" stroke-width="0.32" stroke-linejoin="round"/><path d="M112.9 452.5L116.7 455.1L116.7 457.8L112.9 455.2Z" fill="#8a8530" stroke="#6a6622" stroke-width="0.32" stroke-linejoin="round"/><path d="M116.7 455.1L123.3 452.9L123.3 455.6L116.7 457.8Z" fill="#a6a03c" stroke="#6a6622" stroke-width="0.32" stroke-linejoin="round"/><path d="M112.9 452.5L119.5 450.5L123.3 452.9L116.7 455.1Z" fill="#cdc64e" stroke="#6a6622" stroke-width="0.32" stroke-linejoin="round"/><path d="M123.3 452.8L127.1 455.2L127.1 458.1L123.3 455.6Z" fill="#8a8530" stroke="#6a6622" stroke-width="0.32" stroke-linejoin="round"/><path d="M127.1 455.2L133.3 453.1L133.3 455.9L127.1 458.1Z" fill="#a6a03c" stroke="#6a6622" stroke-width="0.32" stroke-linejoin="round"/><path d="M123.3 452.8L129.5 450.8L133.3 453.1L127.1 455.2Z" fill="#cdc64e" stroke="#6a6622" stroke-width="0.32" stroke-linejoin="round"/><path d="M133.3 453.8L137.2 456.2L137.2 458.3L133.3 455.9Z" fill="#8a8530" stroke="#6a6622" stroke-width="0.32" stroke-linejoin="round"/><path d="M137.2 456.2L143.0 454.0L143.0 456.1L137.2 458.3Z" fill="#a6a03c" stroke="#6a6622" stroke-width="0.32" stroke-linejoin="round"/><path d="M133.3 453.8L139.1 451.8L143.0 454.0L137.2 456.2Z" fill="#cdc64e" stroke="#6a6622" stroke-width="0.32" stroke-linejoin="round"/><path d="M116.7 455.6L120.4 458.1L120.4 460.4L116.7 457.8Z" fill="#8a8530" stroke="#6a6622" stroke-width="0.32" stroke-linejoin="round"/><path d="M120.4 458.1L127.1 455.8L127.1 458.1L120.4 460.4Z" fill="#a6a03c" stroke="#6a6622" stroke-width="0.32" stroke-linejoin="round"/><path d="M116.7 455.6L123.3 453.4L127.1 455.8L120.4 458.1Z" fill="#cdc64e" stroke="#6a6622" stroke-width="0.32" stroke-linejoin="round"/><path d="M127.1 456.0L131.0 458.5L131.0 460.6L127.1 458.1Z" fill="#8a8530" stroke="#6a6622" stroke-width="0.32" stroke-linejoin="round"/><path d="M131.0 458.5L137.2 456.2L137.2 458.3L131.0 460.6Z" fill="#a6a03c" stroke="#6a6622" stroke-width="0.32" stroke-linejoin="round"/><path d="M127.1 456.0L133.3 453.9L137.2 456.2L131.0 458.5Z" fill="#cdc64e" stroke="#6a6622" stroke-width="0.32" stroke-linejoin="round"/><path d="M120.4 457.8L124.3 460.4L124.3 463.0L120.4 460.4Z" fill="#8a8530" stroke="#6a6622" stroke-width="0.32" stroke-linejoin="round"/><path d="M124.3 460.4L131.0 457.9L131.0 460.6L124.3 463.0Z" fill="#a6a03c" stroke="#6a6622" stroke-width="0.32" stroke-linejoin="round"/><path d="M120.4 457.8L127.1 455.5L131.0 457.9L124.3 460.4Z" fill="#cdc64e" stroke="#6a6622" stroke-width="0.32" stroke-linejoin="round"/></g>
<path d="M111.5 506L90.5 577.6L124 595.2L184 572.6L149.5 506Z" fill="url(#conep)"/>
<path d="M111.5 506L90.5 577.6M184 572.6L149.5 506" stroke="#d8d4de" stroke-width="0.5" fill="none"/>
<g><path d="M146.4 553.9L152.0 551.5L156.3 554.3L150.7 556.6Z" fill="#a98ad6" stroke="#efe8fb" stroke-width="0.3"/><path d="M147.8 549.1L150.9 551.1L150.9 555.9L147.8 553.9Z" fill="#8560c0" stroke="#6a48a8" stroke-width="0.3" stroke-linejoin="round"/><path d="M150.9 551.1L154.9 549.4L154.9 554.3L150.9 555.9Z" fill="#a588d6" stroke="#6a48a8" stroke-width="0.3" stroke-linejoin="round"/><path d="M147.8 549.1L151.8 547.4L154.9 549.4L150.9 551.1Z" fill="#c4abe8" stroke="#6a48a8" stroke-width="0.3" stroke-linejoin="round"/><path d="M140.9 556.2L146.4 553.9L150.7 556.6L145.2 558.9Z" fill="#a98ad6" stroke="#efe8fb" stroke-width="0.3"/><path d="M142.3 540.3L145.4 542.2L145.4 558.2L142.3 556.3Z" fill="#8560c0" stroke="#6a48a8" stroke-width="0.3" stroke-linejoin="round"/><path d="M145.4 542.2L149.3 540.6L149.3 556.6L145.4 558.2Z" fill="#a588d6" stroke="#6a48a8" stroke-width="0.3" stroke-linejoin="round"/><path d="M142.3 540.3L146.3 538.6L149.3 540.6L145.4 542.2Z" fill="#c4abe8" stroke="#6a48a8" stroke-width="0.3" stroke-linejoin="round"/><path d="M150.7 556.6L156.3 554.3L160.5 557.1L154.9 559.4Z" fill="#a98ad6" stroke="#efe8fb" stroke-width="0.3"/><path d="M152.1 548.4L155.1 550.4L155.1 558.7L152.1 556.7Z" fill="#8560c0" stroke="#6a48a8" stroke-width="0.3" stroke-linejoin="round"/><path d="M155.1 550.4L159.1 548.7L159.1 557.0L155.1 558.7Z" fill="#a588d6" stroke="#6a48a8" stroke-width="0.3" stroke-linejoin="round"/><path d="M152.1 548.4L156.1 546.7L159.1 548.7L155.1 550.4Z" fill="#c4abe8" stroke="#6a48a8" stroke-width="0.3" stroke-linejoin="round"/><path d="M135.5 558.5L140.9 556.2L145.2 558.9L139.9 561.2Z" fill="#a98ad6" stroke="#efe8fb" stroke-width="0.3"/><path d="M136.9 534.2L140.0 536.2L140.0 560.5L136.9 558.6Z" fill="#8560c0" stroke="#6a48a8" stroke-width="0.3" stroke-linejoin="round"/><path d="M140.0 536.2L143.9 534.5L143.9 558.9L140.0 560.5Z" fill="#a588d6" stroke="#6a48a8" stroke-width="0.3" stroke-linejoin="round"/><path d="M136.9 534.2L140.8 532.6L143.9 534.5L140.0 536.2Z" fill="#c4abe8" stroke="#6a48a8" stroke-width="0.3" stroke-linejoin="round"/><path d="M145.2 558.9L150.7 556.6L154.9 559.4L149.5 561.6Z" fill="#a98ad6" stroke="#efe8fb" stroke-width="0.3"/><path d="M146.6 536.8L149.6 538.8L149.6 560.9L146.6 559.0Z" fill="#8560c0" stroke="#6a48a8" stroke-width="0.3" stroke-linejoin="round"/><path d="M149.6 538.8L153.6 537.1L153.6 559.3L149.6 560.9Z" fill="#a588d6" stroke="#6a48a8" stroke-width="0.3" stroke-linejoin="round"/><path d="M146.6 536.8L150.5 535.2L153.6 537.1L149.6 538.8Z" fill="#c4abe8" stroke="#6a48a8" stroke-width="0.3" stroke-linejoin="round"/><path d="M154.9 559.4L160.5 557.1L164.6 559.8L159.1 562.0Z" fill="#a98ad6" stroke="#efe8fb" stroke-width="0.3"/><path d="M156.3 551.1L159.3 553.0L159.3 561.3L156.3 559.4Z" fill="#8560c0" stroke="#6a48a8" stroke-width="0.3" stroke-linejoin="round"/><path d="M159.3 553.0L163.2 551.4L163.2 559.7L159.3 561.3Z" fill="#a588d6" stroke="#6a48a8" stroke-width="0.3" stroke-linejoin="round"/><path d="M156.3 551.1L160.3 549.4L163.2 551.4L159.3 553.0Z" fill="#c4abe8" stroke="#6a48a8" stroke-width="0.3" stroke-linejoin="round"/><path d="M130.2 560.7L135.5 558.5L139.9 561.2L134.6 563.4Z" fill="#a98ad6" stroke="#efe8fb" stroke-width="0.3"/><path d="M131.6 544.9L134.7 546.8L134.7 562.7L131.6 560.8Z" fill="#8560c0" stroke="#6a48a8" stroke-width="0.3" stroke-linejoin="round"/><path d="M134.7 546.8L138.5 545.2L138.5 561.1L134.7 562.7Z" fill="#a588d6" stroke="#6a48a8" stroke-width="0.3" stroke-linejoin="round"/><path d="M131.6 544.9L135.4 543.3L138.5 545.2L134.7 546.8Z" fill="#c4abe8" stroke="#6a48a8" stroke-width="0.3" stroke-linejoin="round"/><path d="M139.9 561.2L145.2 558.9L149.5 561.6L144.1 563.8Z" fill="#a98ad6" stroke="#efe8fb" stroke-width="0.3"/><path d="M141.2 528.9L144.3 530.8L144.3 563.1L141.2 561.2Z" fill="#8560c0" stroke="#6a48a8" stroke-width="0.3" stroke-linejoin="round"/><path d="M144.3 530.8L148.1 529.2L148.1 561.5L144.3 563.1Z" fill="#a588d6" stroke="#6a48a8" stroke-width="0.3" stroke-linejoin="round"/><path d="M141.2 528.9L145.1 527.3L148.1 529.2L144.3 530.8Z" fill="#c4abe8" stroke="#6a48a8" stroke-width="0.3" stroke-linejoin="round"/><path d="M149.5 561.6L154.9 559.4L159.1 562.0L153.6 564.2Z" fill="#a98ad6" stroke="#efe8fb" stroke-width="0.3"/><path d="M150.8 537.6L153.8 539.5L153.8 563.6L150.8 561.7Z" fill="#8560c0" stroke="#6a48a8" stroke-width="0.3" stroke-linejoin="round"/><path d="M153.8 539.5L157.7 537.9L157.7 562.0L153.8 563.6Z" fill="#a588d6" stroke="#6a48a8" stroke-width="0.3" stroke-linejoin="round"/><path d="M150.8 537.6L154.7 536.0L157.7 537.9L153.8 539.5Z" fill="#c4abe8" stroke="#6a48a8" stroke-width="0.3" stroke-linejoin="round"/><path d="M159.1 562.0L164.6 559.8L168.6 562.5L163.1 564.6Z" fill="#a98ad6" stroke="#efe8fb" stroke-width="0.3"/><path d="M160.4 556.3L163.3 558.2L163.3 564.0L160.4 562.1Z" fill="#8560c0" stroke="#6a48a8" stroke-width="0.3" stroke-linejoin="round"/><path d="M163.3 558.2L167.3 556.6L167.3 562.4L163.3 564.0Z" fill="#a588d6" stroke="#6a48a8" stroke-width="0.3" stroke-linejoin="round"/><path d="M160.4 556.3L164.4 554.7L167.3 556.6L163.3 558.2Z" fill="#c4abe8" stroke="#6a48a8" stroke-width="0.3" stroke-linejoin="round"/><path d="M125.0 562.4L129.3 565.0L129.3 565.6L125.0 563.0Z" fill="#3f2070" stroke="#8a68c0" stroke-width="0.3" stroke-linejoin="round"/><path d="M129.3 565.0L134.6 562.8L134.6 563.4L129.3 565.6Z" fill="#4a2682" stroke="#8a68c0" stroke-width="0.3" stroke-linejoin="round"/><path d="M125.0 562.4L130.2 560.1L134.6 562.8L129.3 565.0Z" fill="#633a9f" stroke="#8a68c0" stroke-width="0.3" stroke-linejoin="round"/><path d="M134.6 563.4L139.9 561.2L144.1 563.8L138.8 566.0Z" fill="#a98ad6" stroke="#efe8fb" stroke-width="0.3"/><path d="M135.9 541.0L139.0 542.9L139.0 565.3L135.9 563.4Z" fill="#8560c0" stroke="#6a48a8" stroke-width="0.3" stroke-linejoin="round"/><path d="M139.0 542.9L142.8 541.3L142.8 563.8L139.0 565.3Z" fill="#a588d6" stroke="#6a48a8" stroke-width="0.3" stroke-linejoin="round"/><path d="M135.9 541.0L139.7 539.4L142.8 541.3L139.0 542.9Z" fill="#c4abe8" stroke="#6a48a8" stroke-width="0.3" stroke-linejoin="round"/><path d="M144.1 563.8L149.5 561.6L153.6 564.2L148.3 566.4Z" fill="#a98ad6" stroke="#efe8fb" stroke-width="0.3"/><path d="M145.4 529.0L148.4 530.9L148.4 565.7L145.4 563.9Z" fill="#8560c0" stroke="#6a48a8" stroke-width="0.3" stroke-linejoin="round"/><path d="M148.4 530.9L152.3 529.3L152.3 564.2L148.4 565.7Z" fill="#a588d6" stroke="#6a48a8" stroke-width="0.3" stroke-linejoin="round"/><path d="M145.4 529.0L149.3 527.4L152.3 529.3L148.4 530.9Z" fill="#c4abe8" stroke="#6a48a8" stroke-width="0.3" stroke-linejoin="round"/><path d="M153.6 564.2L159.1 562.0L163.1 564.6L157.7 566.8Z" fill="#a98ad6" stroke="#efe8fb" stroke-width="0.3"/><path d="M155.0 543.9L157.9 545.8L157.9 566.1L155.0 564.3Z" fill="#8560c0" stroke="#6a48a8" stroke-width="0.3" stroke-linejoin="round"/><path d="M157.9 545.8L161.8 544.2L161.8 564.6L157.9 566.1Z" fill="#a588d6" stroke="#6a48a8" stroke-width="0.3" stroke-linejoin="round"/><path d="M155.0 543.9L158.9 542.3L161.8 544.2L157.9 545.8Z" fill="#c4abe8" stroke="#6a48a8" stroke-width="0.3" stroke-linejoin="round"/><path d="M163.1 562.6L167.1 565.2L167.1 567.2L163.1 564.6Z" fill="#7550b0" stroke="#d9cdf0" stroke-width="0.3" stroke-linejoin="round"/><path d="M167.1 565.2L172.6 563.0L172.6 565.1L167.1 567.2Z" fill="#8c68c4" stroke="#d9cdf0" stroke-width="0.3" stroke-linejoin="round"/><path d="M163.1 562.6L168.6 560.4L172.6 563.0L167.1 565.2Z" fill="#b093da" stroke="#d9cdf0" stroke-width="0.3" stroke-linejoin="round"/><path d="M119.8 564.6L124.2 567.1L124.2 567.7L119.8 565.2Z" fill="#3f2070" stroke="#8a68c0" stroke-width="0.3" stroke-linejoin="round"/><path d="M124.2 567.1L129.3 565.0L129.3 565.6L124.2 567.7Z" fill="#4a2682" stroke="#8a68c0" stroke-width="0.3" stroke-linejoin="round"/><path d="M119.8 564.6L125.0 562.4L129.3 565.0L124.2 567.1Z" fill="#4e2a86" stroke="#8a68c0" stroke-width="0.3" stroke-linejoin="round"/><path d="M129.3 565.0L133.6 567.5L133.6 568.1L129.3 565.6Z" fill="#3f2070" stroke="#8a68c0" stroke-width="0.3" stroke-linejoin="round"/><path d="M133.6 567.5L138.8 565.4L138.8 566.0L133.6 568.1Z" fill="#4a2682" stroke="#8a68c0" stroke-width="0.3" stroke-linejoin="round"/><path d="M129.3 565.0L134.6 562.8L138.8 565.4L133.6 567.5Z" fill="#4e2a86" stroke="#8a68c0" stroke-width="0.3" stroke-linejoin="round"/><path d="M138.8 566.0L144.1 563.8L148.3 566.4L143.0 568.5Z" fill="#a98ad6" stroke="#efe8fb" stroke-width="0.3"/><path d="M140.2 541.0L143.2 542.9L143.2 567.9L140.2 566.0Z" fill="#8560c0" stroke="#6a48a8" stroke-width="0.3" stroke-linejoin="round"/><path d="M143.2 542.9L147.0 541.3L147.0 566.3L143.2 567.9Z" fill="#a588d6" stroke="#6a48a8" stroke-width="0.3" stroke-linejoin="round"/><path d="M140.2 541.0L144.0 539.5L147.0 541.3L143.2 542.9Z" fill="#c4abe8" stroke="#6a48a8" stroke-width="0.3" stroke-linejoin="round"/><path d="M148.3 566.4L153.6 564.2L157.7 566.8L152.4 568.9Z" fill="#a98ad6" stroke="#efe8fb" stroke-width="0.3"/><path d="M149.6 538.6L152.5 540.4L152.5 568.3L149.6 566.5Z" fill="#8560c0" stroke="#6a48a8" stroke-width="0.3" stroke-linejoin="round"/><path d="M152.5 540.4L156.4 538.9L156.4 566.7L152.5 568.3Z" fill="#a588d6" stroke="#6a48a8" stroke-width="0.3" stroke-linejoin="round"/><path d="M149.6 538.6L153.5 537.0L156.4 538.9L152.5 540.4Z" fill="#c4abe8" stroke="#6a48a8" stroke-width="0.3" stroke-linejoin="round"/><path d="M157.7 565.4L161.7 567.9L161.7 569.3L157.7 566.8Z" fill="#7550b0" stroke="#d9cdf0" stroke-width="0.3" stroke-linejoin="round"/><path d="M161.7 567.9L167.1 565.8L167.1 567.2L161.7 569.3Z" fill="#8c68c4" stroke="#d9cdf0" stroke-width="0.3" stroke-linejoin="round"/><path d="M157.7 565.4L163.1 563.2L167.1 565.8L161.7 567.9Z" fill="#b093da" stroke="#d9cdf0" stroke-width="0.3" stroke-linejoin="round"/><path d="M167.1 565.6L171.0 568.1L171.0 569.7L167.1 567.2Z" fill="#7550b0" stroke="#d9cdf0" stroke-width="0.3" stroke-linejoin="round"/><path d="M171.0 568.1L176.4 566.0L176.4 567.6L171.0 569.7Z" fill="#8c68c4" stroke="#d9cdf0" stroke-width="0.3" stroke-linejoin="round"/><path d="M167.1 565.6L172.6 563.4L176.4 566.0L171.0 568.1Z" fill="#b093da" stroke="#d9cdf0" stroke-width="0.3" stroke-linejoin="round"/><path d="M114.8 566.7L119.1 569.2L119.1 569.8L114.8 567.3Z" fill="#3f2070" stroke="#8a68c0" stroke-width="0.3" stroke-linejoin="round"/><path d="M119.1 569.2L124.2 567.1L124.2 567.7L119.1 569.8Z" fill="#4a2682" stroke="#8a68c0" stroke-width="0.3" stroke-linejoin="round"/><path d="M114.8 566.7L119.8 564.6L124.2 567.1L119.1 569.2Z" fill="#633a9f" stroke="#8a68c0" stroke-width="0.3" stroke-linejoin="round"/><path d="M124.2 567.1L128.5 569.6L128.5 570.2L124.2 567.7Z" fill="#3f2070" stroke="#8a68c0" stroke-width="0.3" stroke-linejoin="round"/><path d="M128.5 569.6L133.6 567.5L133.6 568.1L128.5 570.2Z" fill="#4a2682" stroke="#8a68c0" stroke-width="0.3" stroke-linejoin="round"/><path d="M124.2 567.1L129.3 565.0L133.6 567.5L128.5 569.6Z" fill="#633a9f" stroke="#8a68c0" stroke-width="0.3" stroke-linejoin="round"/><path d="M133.6 567.5L137.8 570.0L137.8 570.6L133.6 568.1Z" fill="#3f2070" stroke="#8a68c0" stroke-width="0.3" stroke-linejoin="round"/><path d="M137.8 570.0L143.0 567.9L143.0 568.5L137.8 570.6Z" fill="#4a2682" stroke="#8a68c0" stroke-width="0.3" stroke-linejoin="round"/><path d="M133.6 567.5L138.8 565.4L143.0 567.9L137.8 570.0Z" fill="#633a9f" stroke="#8a68c0" stroke-width="0.3" stroke-linejoin="round"/><path d="M143.0 568.5L148.3 566.4L152.4 568.9L147.1 571.0Z" fill="#a98ad6" stroke="#efe8fb" stroke-width="0.3"/><path d="M144.3 548.5L147.3 550.3L147.3 570.4L144.3 568.6Z" fill="#8560c0" stroke="#6a48a8" stroke-width="0.3" stroke-linejoin="round"/><path d="M147.3 550.3L151.1 548.8L151.1 568.9L147.3 570.4Z" fill="#a588d6" stroke="#6a48a8" stroke-width="0.3" stroke-linejoin="round"/><path d="M144.3 548.5L148.1 546.9L151.1 548.8L147.3 550.3Z" fill="#c4abe8" stroke="#6a48a8" stroke-width="0.3" stroke-linejoin="round"/><path d="M152.4 566.4L156.4 568.9L156.4 571.4L152.4 568.9Z" fill="#7550b0" stroke="#d9cdf0" stroke-width="0.3" stroke-linejoin="round"/><path d="M156.4 568.9L161.7 566.8L161.7 569.3L156.4 571.4Z" fill="#8c68c4" stroke="#d9cdf0" stroke-width="0.3" stroke-linejoin="round"/><path d="M152.4 566.4L157.7 564.2L161.7 566.8L156.4 568.9Z" fill="#b093da" stroke="#d9cdf0" stroke-width="0.3" stroke-linejoin="round"/><path d="M161.7 567.2L165.6 569.7L165.6 571.8L161.7 569.3Z" fill="#7550b0" stroke="#d9cdf0" stroke-width="0.3" stroke-linejoin="round"/><path d="M165.6 569.7L171.0 567.6L171.0 569.7L165.6 571.8Z" fill="#8c68c4" stroke="#d9cdf0" stroke-width="0.3" stroke-linejoin="round"/><path d="M161.7 567.2L167.1 565.1L171.0 567.6L165.6 569.7Z" fill="#b093da" stroke="#d9cdf0" stroke-width="0.3" stroke-linejoin="round"/><path d="M171.0 569.2L174.8 571.6L174.8 572.2L171.0 569.7Z" fill="#7550b0" stroke="#d9cdf0" stroke-width="0.3" stroke-linejoin="round"/><path d="M174.8 571.6L180.3 569.6L180.3 570.1L174.8 572.2Z" fill="#8c68c4" stroke="#d9cdf0" stroke-width="0.3" stroke-linejoin="round"/><path d="M171.0 569.2L176.4 567.0L180.3 569.6L174.8 571.6Z" fill="#b093da" stroke="#d9cdf0" stroke-width="0.3" stroke-linejoin="round"/><path d="M109.8 568.8L114.2 571.3L114.2 571.9L109.8 569.4Z" fill="#3f2070" stroke="#8a68c0" stroke-width="0.3" stroke-linejoin="round"/><path d="M114.2 571.3L119.1 569.2L119.1 569.8L114.2 571.9Z" fill="#4a2682" stroke="#8a68c0" stroke-width="0.3" stroke-linejoin="round"/><path d="M109.8 568.8L114.8 566.7L119.1 569.2L114.2 571.3Z" fill="#4e2a86" stroke="#8a68c0" stroke-width="0.3" stroke-linejoin="round"/><path d="M119.1 569.2L123.5 571.7L123.5 572.3L119.1 569.8Z" fill="#3f2070" stroke="#8a68c0" stroke-width="0.3" stroke-linejoin="round"/><path d="M123.5 571.7L128.5 569.6L128.5 570.2L123.5 572.3Z" fill="#4a2682" stroke="#8a68c0" stroke-width="0.3" stroke-linejoin="round"/><path d="M119.1 569.2L124.2 567.1L128.5 569.6L123.5 571.7Z" fill="#4e2a86" stroke="#8a68c0" stroke-width="0.3" stroke-linejoin="round"/><path d="M128.5 569.6L132.7 572.1L132.7 572.7L128.5 570.2Z" fill="#3f2070" stroke="#8a68c0" stroke-width="0.3" stroke-linejoin="round"/><path d="M132.7 572.1L137.8 570.0L137.8 570.6L132.7 572.7Z" fill="#4a2682" stroke="#8a68c0" stroke-width="0.3" stroke-linejoin="round"/><path d="M128.5 569.6L133.6 567.5L137.8 570.0L132.7 572.1Z" fill="#633a9f" stroke="#8a68c0" stroke-width="0.3" stroke-linejoin="round"/><path d="M137.8 570.0L142.0 572.5L142.0 573.1L137.8 570.6Z" fill="#3f2070" stroke="#8a68c0" stroke-width="0.3" stroke-linejoin="round"/><path d="M142.0 572.5L147.1 570.4L147.1 571.0L142.0 573.1Z" fill="#4a2682" stroke="#8a68c0" stroke-width="0.3" stroke-linejoin="round"/><path d="M137.8 570.0L143.0 567.9L147.1 570.4L142.0 572.5Z" fill="#4e2a86" stroke="#8a68c0" stroke-width="0.3" stroke-linejoin="round"/><path d="M147.1 569.4L151.2 571.8L151.2 573.5L147.1 571.0Z" fill="#7550b0" stroke="#d9cdf0" stroke-width="0.3" stroke-linejoin="round"/><path d="M151.2 571.8L156.4 569.8L156.4 571.4L151.2 573.5Z" fill="#8c68c4" stroke="#d9cdf0" stroke-width="0.3" stroke-linejoin="round"/><path d="M147.1 569.4L152.4 567.3L156.4 569.8L151.2 571.8Z" fill="#b093da" stroke="#d9cdf0" stroke-width="0.3" stroke-linejoin="round"/><path d="M156.4 568.2L160.3 570.6L160.3 573.9L156.4 571.4Z" fill="#7550b0" stroke="#d9cdf0" stroke-width="0.3" stroke-linejoin="round"/><path d="M160.3 570.6L165.6 568.6L165.6 571.8L160.3 573.9Z" fill="#8c68c4" stroke="#d9cdf0" stroke-width="0.3" stroke-linejoin="round"/><path d="M156.4 568.2L161.7 566.1L165.6 568.6L160.3 570.6Z" fill="#b093da" stroke="#d9cdf0" stroke-width="0.3" stroke-linejoin="round"/><path d="M165.6 570.7L169.5 573.1L169.5 574.3L165.6 571.8Z" fill="#7550b0" stroke="#d9cdf0" stroke-width="0.3" stroke-linejoin="round"/><path d="M169.5 573.1L174.8 571.1L174.8 572.2L169.5 574.3Z" fill="#8c68c4" stroke="#d9cdf0" stroke-width="0.3" stroke-linejoin="round"/><path d="M165.6 570.7L171.0 568.6L174.8 571.1L169.5 573.1Z" fill="#b093da" stroke="#d9cdf0" stroke-width="0.3" stroke-linejoin="round"/><path d="M174.8 571.6L178.6 574.0L178.6 574.6L174.8 572.2Z" fill="#7550b0" stroke="#d9cdf0" stroke-width="0.3" stroke-linejoin="round"/><path d="M178.6 574.0L184.0 572.0L184.0 572.6L178.6 574.6Z" fill="#8c68c4" stroke="#d9cdf0" stroke-width="0.3" stroke-linejoin="round"/><path d="M174.8 571.6L180.3 569.5L184.0 572.0L178.6 574.0Z" fill="#b093da" stroke="#d9cdf0" stroke-width="0.3" stroke-linejoin="round"/><path d="M104.8 571.5L109.8 569.4L114.2 571.9L109.2 574.0Z" fill="#1d1030" stroke="#efe8fb" stroke-width="0.3" stroke-linejoin="round"/><path d="M114.2 571.3L118.5 573.8L118.5 574.4L114.2 571.9Z" fill="#3f2070" stroke="#8a68c0" stroke-width="0.3" stroke-linejoin="round"/><path d="M118.5 573.8L123.5 571.7L123.5 572.3L118.5 574.4Z" fill="#4a2682" stroke="#8a68c0" stroke-width="0.3" stroke-linejoin="round"/><path d="M114.2 571.3L119.1 569.2L123.5 571.7L118.5 573.8Z" fill="#633a9f" stroke="#8a68c0" stroke-width="0.3" stroke-linejoin="round"/><path d="M123.5 571.7L127.7 574.1L127.7 574.7L123.5 572.3Z" fill="#3f2070" stroke="#8a68c0" stroke-width="0.3" stroke-linejoin="round"/><path d="M127.7 574.1L132.7 572.1L132.7 572.7L127.7 574.7Z" fill="#4a2682" stroke="#8a68c0" stroke-width="0.3" stroke-linejoin="round"/><path d="M123.5 571.7L128.5 569.6L132.7 572.1L127.7 574.1Z" fill="#633a9f" stroke="#8a68c0" stroke-width="0.3" stroke-linejoin="round"/><path d="M132.7 572.1L136.9 574.5L136.9 575.1L132.7 572.7Z" fill="#3f2070" stroke="#8a68c0" stroke-width="0.3" stroke-linejoin="round"/><path d="M136.9 574.5L142.0 572.5L142.0 573.1L136.9 575.1Z" fill="#4a2682" stroke="#8a68c0" stroke-width="0.3" stroke-linejoin="round"/><path d="M132.7 572.1L137.8 570.0L142.0 572.5L136.9 574.5Z" fill="#633a9f" stroke="#8a68c0" stroke-width="0.3" stroke-linejoin="round"/><path d="M142.0 573.1L147.1 571.0L151.2 573.5L146.0 575.5Z" fill="#24123c" stroke="#efe8fb" stroke-width="0.3" stroke-linejoin="round"/><path d="M151.2 569.8L155.1 572.2L155.1 575.9L151.2 573.5Z" fill="#7550b0" stroke="#d9cdf0" stroke-width="0.3" stroke-linejoin="round"/><path d="M155.1 572.2L160.3 570.2L160.3 573.9L155.1 575.9Z" fill="#8c68c4" stroke="#d9cdf0" stroke-width="0.3" stroke-linejoin="round"/><path d="M151.2 569.8L156.4 567.7L160.3 570.2L155.1 572.2Z" fill="#b093da" stroke="#d9cdf0" stroke-width="0.3" stroke-linejoin="round"/><path d="M160.3 573.3L164.2 575.7L164.2 576.3L160.3 573.9Z" fill="#7550b0" stroke="#d9cdf0" stroke-width="0.3" stroke-linejoin="round"/><path d="M164.2 575.7L169.5 573.6L169.5 574.3L164.2 576.3Z" fill="#8c68c4" stroke="#d9cdf0" stroke-width="0.3" stroke-linejoin="round"/><path d="M160.3 573.3L165.6 571.2L169.5 573.6L164.2 575.7Z" fill="#b093da" stroke="#d9cdf0" stroke-width="0.3" stroke-linejoin="round"/><path d="M169.5 572.8L173.3 575.2L173.3 576.6L169.5 574.3Z" fill="#7550b0" stroke="#d9cdf0" stroke-width="0.3" stroke-linejoin="round"/><path d="M173.3 575.2L178.6 573.2L178.6 574.6L173.3 576.6Z" fill="#8c68c4" stroke="#d9cdf0" stroke-width="0.3" stroke-linejoin="round"/><path d="M169.5 572.8L174.8 570.8L178.6 573.2L173.3 575.2Z" fill="#b093da" stroke="#d9cdf0" stroke-width="0.3" stroke-linejoin="round"/><path d="M100.0 573.6L104.8 571.5L109.2 574.0L104.4 576.0Z" fill="#3a2560" stroke="#efe8fb" stroke-width="0.3" stroke-linejoin="round"/><path d="M109.2 574.0L114.2 571.9L118.5 574.4L113.6 576.4Z" fill="#1d1030" stroke="#efe8fb" stroke-width="0.3" stroke-linejoin="round"/><path d="M118.5 573.8L122.7 576.1L122.7 576.7L118.5 574.4Z" fill="#3f2070" stroke="#8a68c0" stroke-width="0.3" stroke-linejoin="round"/><path d="M122.7 576.1L127.7 574.1L127.7 574.7L122.7 576.7Z" fill="#4a2682" stroke="#8a68c0" stroke-width="0.3" stroke-linejoin="round"/><path d="M118.5 573.8L123.5 571.7L127.7 574.1L122.7 576.1Z" fill="#633a9f" stroke="#8a68c0" stroke-width="0.3" stroke-linejoin="round"/><path d="M127.7 574.1L131.8 576.5L131.8 577.1L127.7 574.7Z" fill="#3f2070" stroke="#8a68c0" stroke-width="0.3" stroke-linejoin="round"/><path d="M131.8 576.5L136.9 574.5L136.9 575.1L131.8 577.1Z" fill="#4a2682" stroke="#8a68c0" stroke-width="0.3" stroke-linejoin="round"/><path d="M127.7 574.1L132.7 572.1L136.9 574.5L131.8 576.5Z" fill="#4e2a86" stroke="#8a68c0" stroke-width="0.3" stroke-linejoin="round"/><path d="M136.9 575.1L142.0 573.1L146.0 575.5L140.9 577.5Z" fill="#24123c" stroke="#efe8fb" stroke-width="0.3" stroke-linejoin="round"/><path d="M146.0 575.5L151.2 573.5L155.1 575.9L150.0 577.9Z" fill="#24123c" stroke="#efe8fb" stroke-width="0.3" stroke-linejoin="round"/><path d="M155.1 575.2L159.0 577.6L159.0 578.2L155.1 575.9Z" fill="#7550b0" stroke="#d9cdf0" stroke-width="0.3" stroke-linejoin="round"/><path d="M159.0 577.6L164.2 575.6L164.2 576.3L159.0 578.2Z" fill="#8c68c4" stroke="#d9cdf0" stroke-width="0.3" stroke-linejoin="round"/><path d="M155.1 575.2L160.3 573.2L164.2 575.6L159.0 577.6Z" fill="#b093da" stroke="#d9cdf0" stroke-width="0.3" stroke-linejoin="round"/><path d="M164.2 575.0L168.0 577.4L168.0 578.6L164.2 576.3Z" fill="#7550b0" stroke="#d9cdf0" stroke-width="0.3" stroke-linejoin="round"/><path d="M168.0 577.4L173.3 575.4L173.3 576.6L168.0 578.6Z" fill="#8c68c4" stroke="#d9cdf0" stroke-width="0.3" stroke-linejoin="round"/><path d="M164.2 575.0L169.5 573.0L173.3 575.4L168.0 577.4Z" fill="#b093da" stroke="#d9cdf0" stroke-width="0.3" stroke-linejoin="round"/><path d="M95.2 575.6L100.0 573.6L104.4 576.0L99.6 578.0Z" fill="#1d1030" stroke="#efe8fb" stroke-width="0.3" stroke-linejoin="round"/><path d="M104.4 576.0L109.2 574.0L113.6 576.4L108.8 578.4Z" fill="#1d1030" stroke="#efe8fb" stroke-width="0.3" stroke-linejoin="round"/><path d="M113.6 576.4L118.5 574.4L122.7 576.7L117.8 578.7Z" fill="#3a2560" stroke="#efe8fb" stroke-width="0.3" stroke-linejoin="round"/><path d="M122.7 576.1L126.9 578.5L126.9 579.1L122.7 576.7Z" fill="#3f2070" stroke="#8a68c0" stroke-width="0.3" stroke-linejoin="round"/><path d="M126.9 578.5L131.8 576.5L131.8 577.1L126.9 579.1Z" fill="#4a2682" stroke="#8a68c0" stroke-width="0.3" stroke-linejoin="round"/><path d="M122.7 576.1L127.7 574.1L131.8 576.5L126.9 578.5Z" fill="#633a9f" stroke="#8a68c0" stroke-width="0.3" stroke-linejoin="round"/><path d="M131.8 577.1L136.9 575.1L140.9 577.5L135.9 579.5Z" fill="#8a66c2" stroke="#efe8fb" stroke-width="0.3" stroke-linejoin="round"/><path d="M140.9 577.5L146.0 575.5L150.0 577.9L144.9 579.8Z" fill="#24123c" stroke="#efe8fb" stroke-width="0.3" stroke-linejoin="round"/><path d="M150.0 577.9L155.1 575.9L159.0 578.2L153.9 580.2Z" fill="#8a66c2" stroke="#efe8fb" stroke-width="0.3" stroke-linejoin="round"/><path d="M159.0 577.0L162.8 579.3L162.8 580.6L159.0 578.2Z" fill="#7550b0" stroke="#d9cdf0" stroke-width="0.3" stroke-linejoin="round"/><path d="M162.8 579.3L168.0 577.4L168.0 578.6L162.8 580.6Z" fill="#8c68c4" stroke="#d9cdf0" stroke-width="0.3" stroke-linejoin="round"/><path d="M159.0 577.0L164.2 575.0L168.0 577.4L162.8 579.3Z" fill="#b093da" stroke="#d9cdf0" stroke-width="0.3" stroke-linejoin="round"/><path d="M90.5 577.6L95.2 575.6L99.6 578.0L94.9 579.9Z" fill="#1d1030" stroke="#efe8fb" stroke-width="0.3" stroke-linejoin="round"/><path d="M99.6 578.0L104.4 576.0L108.8 578.4L104.0 580.3Z" fill="#1d1030" stroke="#efe8fb" stroke-width="0.3" stroke-linejoin="round"/><path d="M108.8 578.4L113.6 576.4L117.8 578.7L113.0 580.7Z" fill="#1d1030" stroke="#efe8fb" stroke-width="0.3" stroke-linejoin="round"/><path d="M117.8 578.7L122.7 576.7L126.9 579.1L122.0 581.0Z" fill="#1d1030" stroke="#efe8fb" stroke-width="0.3" stroke-linejoin="round"/><path d="M126.9 579.1L131.8 577.1L135.9 579.5L131.0 581.4Z" fill="#55308e" stroke="#efe8fb" stroke-width="0.3" stroke-linejoin="round"/><path d="M135.9 579.5L140.9 577.5L144.9 579.8L139.9 581.8Z" fill="#8a66c2" stroke="#efe8fb" stroke-width="0.3" stroke-linejoin="round"/><path d="M144.9 579.8L150.0 577.9L153.9 580.2L148.9 582.1Z" fill="#55308e" stroke="#efe8fb" stroke-width="0.3" stroke-linejoin="round"/><path d="M153.9 580.2L159.0 578.2L162.8 580.6L157.7 582.5Z" fill="#24123c" stroke="#efe8fb" stroke-width="0.3" stroke-linejoin="round"/><path d="M94.9 579.9L99.6 578.0L104.0 580.3L99.3 582.2Z" fill="#1d1030" stroke="#efe8fb" stroke-width="0.3" stroke-linejoin="round"/><path d="M104.0 580.3L108.8 578.4L113.0 580.7L108.3 582.6Z" fill="#1d1030" stroke="#efe8fb" stroke-width="0.3" stroke-linejoin="round"/><path d="M113.0 580.7L117.8 578.7L122.0 581.0L117.2 583.0Z" fill="#1d1030" stroke="#efe8fb" stroke-width="0.3" stroke-linejoin="round"/><path d="M122.0 581.0L126.9 579.1L131.0 581.4L126.1 583.3Z" fill="#9676ca" stroke="#efe8fb" stroke-width="0.3" stroke-linejoin="round"/><path d="M131.0 581.4L135.9 579.5L139.9 581.8L135.0 583.7Z" fill="#24123c" stroke="#efe8fb" stroke-width="0.3" stroke-linejoin="round"/><path d="M139.9 581.8L144.9 579.8L148.9 582.1L143.9 584.0Z" fill="#55308e" stroke="#efe8fb" stroke-width="0.3" stroke-linejoin="round"/><path d="M148.9 582.1L153.9 580.2L157.7 582.5L152.7 584.4Z" fill="#24123c" stroke="#efe8fb" stroke-width="0.3" stroke-linejoin="round"/><path d="M99.3 582.2L104.0 580.3L108.3 582.6L103.6 584.5Z" fill="#1d1030" stroke="#efe8fb" stroke-width="0.3" stroke-linejoin="round"/><path d="M108.3 582.6L113.0 580.7L117.2 583.0L112.5 584.8Z" fill="#3a2560" stroke="#efe8fb" stroke-width="0.3" stroke-linejoin="round"/><path d="M117.2 583.0L122.0 581.0L126.1 583.3L121.4 585.2Z" fill="#24123c" stroke="#efe8fb" stroke-width="0.3" stroke-linejoin="round"/><path d="M126.1 583.3L131.0 581.4L135.0 583.7L130.2 585.6Z" fill="#9676ca" stroke="#efe8fb" stroke-width="0.3" stroke-linejoin="round"/><path d="M135.0 583.7L139.9 581.8L143.9 584.0L139.0 585.9Z" fill="#24123c" stroke="#efe8fb" stroke-width="0.3" stroke-linejoin="round"/><path d="M143.9 584.0L148.9 582.1L152.7 584.4L147.8 586.3Z" fill="#24123c" stroke="#efe8fb" stroke-width="0.3" stroke-linejoin="round"/><path d="M103.6 584.5L108.3 582.6L112.5 584.8L107.8 586.7Z" fill="#1d1030" stroke="#efe8fb" stroke-width="0.3" stroke-linejoin="round"/><path d="M112.5 584.8L117.2 583.0L121.4 585.2L116.6 587.1Z" fill="#6a44a6" stroke="#efe8fb" stroke-width="0.3" stroke-linejoin="round"/><path d="M121.4 585.2L126.1 583.3L130.2 585.6L125.4 587.4Z" fill="#9676ca" stroke="#efe8fb" stroke-width="0.3" stroke-linejoin="round"/><path d="M130.2 585.6L135.0 583.7L139.0 585.9L134.2 587.7Z" fill="#24123c" stroke="#efe8fb" stroke-width="0.3" stroke-linejoin="round"/><path d="M139.0 585.9L143.9 584.0L147.8 586.3L142.9 588.1Z" fill="#24123c" stroke="#efe8fb" stroke-width="0.3" stroke-linejoin="round"/><path d="M107.8 586.7L112.5 584.8L116.6 587.1L112.0 588.9Z" fill="#6a44a6" stroke="#efe8fb" stroke-width="0.3" stroke-linejoin="round"/><path d="M116.6 587.1L121.4 585.2L125.4 587.4L120.7 589.2Z" fill="#9676ca" stroke="#efe8fb" stroke-width="0.3" stroke-linejoin="round"/><path d="M125.4 587.4L130.2 585.6L134.2 587.7L129.4 589.6Z" fill="#24123c" stroke="#efe8fb" stroke-width="0.3" stroke-linejoin="round"/><path d="M134.2 587.7L139.0 585.9L142.9 588.1L138.1 589.9Z" fill="#24123c" stroke="#efe8fb" stroke-width="0.3" stroke-linejoin="round"/><path d="M112.0 588.9L116.6 587.1L120.7 589.2L116.1 591.0Z" fill="#6a44a6" stroke="#efe8fb" stroke-width="0.3" stroke-linejoin="round"/><path d="M120.7 589.2L125.4 587.4L129.4 589.6L124.7 591.4Z" fill="#6a44a6" stroke="#efe8fb" stroke-width="0.3" stroke-linejoin="round"/><path d="M129.4 589.6L134.2 587.7L138.1 589.9L133.3 591.7Z" fill="#9676ca" stroke="#efe8fb" stroke-width="0.3" stroke-linejoin="round"/><path d="M116.1 591.0L120.7 589.2L124.7 591.4L120.1 593.1Z" fill="#9676ca" stroke="#efe8fb" stroke-width="0.3" stroke-linejoin="round"/><path d="M124.7 591.4L129.4 589.6L133.3 591.7L128.6 593.5Z" fill="#6a44a6" stroke="#efe8fb" stroke-width="0.3" stroke-linejoin="round"/><path d="M120.1 593.1L124.7 591.4L128.6 593.5L124.0 595.2Z" fill="#6a44a6" stroke="#efe8fb" stroke-width="0.3" stroke-linejoin="round"/></g>
<clipPath id="vc1"><circle cx="130.5" cy="499.2" r="20"/></clipPath><circle cx="130.5" cy="499.2" r="20" fill="#ab80ca"/><circle cx="130.2" cy="483.2" r="7.2" fill="#f6d264" opacity="0.9"/><circle cx="130.2" cy="483.2" r="7.2" fill="#f1ad5e" clip-path="url(#vc1)"/><text x="130.50" y="501.50" font-size="7.5" text-anchor="middle" fill="#fff">280,470</text>
<path d="M137 478L150 475.5" stroke="#ddd" stroke-width="0.4"/>
<text x="97.00" y="412.70" font-size="7.5" font-weight="bold" fill="#231f20">C&gt;A</text>
<text x="90.00" y="421.60" font-size="7.5" font-style="italic" fill="#231f20">Tobacco</text>
<text x="87.00" y="434.70" font-size="7.5" fill="#231f20">C&gt;G</text>
<text x="132.00" y="416.40" font-size="7.5" fill="#231f20">C&gt;T</text>
<text x="174.50" y="450.20" font-size="7.5" fill="#231f20">A&gt;G</text>
<text x="148.70" y="457.10" font-size="7.5" fill="#231f20">A&gt;C</text>
<text x="130.00" y="464.90" font-size="7.5" fill="#231f20">A&gt;T</text>
<text x="152.50" y="477.70" font-size="7.5" fill="#231f20">7,262</text>
<text x="152.50" y="486.50" font-size="7.5" fill="#231f20">50,265</text>
<text x="154.00" y="537.20" font-size="7.5" fill="#231f20">C&gt;T</text>
<text x="158.90" y="546.60" font-size="7.5" font-style="italic" fill="#231f20">Temozolomide</text>
<text x="106.30" y="562.70" font-size="7.5" fill="#231f20">C&gt;A</text>
<text x="81.30" y="586.20" font-size="7.5" fill="#231f20">C&gt;G</text>
<text x="173.70" y="584.00" font-size="7.5" fill="#231f20">A&gt;G</text>
<text x="152.10" y="592.10" font-size="7.5" fill="#231f20">A&gt;C</text>
<text x="129.80" y="599.90" font-size="7.5" fill="#231f20">A&gt;T</text>
<text x="229.30" y="389.80" font-size="10" font-weight="bold" fill="#111">I</text>
<g transform="translate(262.5 387.8) scale(1.13)"><circle cx="0" cy="2.1" r="2.1" fill="#e9a51f"/><path d="M-4.8 7.2Q-4.8 4.9 -2.6 4.9H2.6Q4.8 4.9 4.8 7.2V15.2Q4.8 16.2 3.9 16.2Q3.1 16.2 3.1 15.2V8.4H2.7V25.6Q2.7 26.8 1.5 26.8Q0.3 26.8 0.3 25.6V16H-0.3V25.6Q-0.3 26.8 -1.5 26.8Q-2.7 26.8 -2.7 25.6V8.4H-3.1V15.2Q-3.1 16.2 -3.9 16.2Q-4.8 16.2 -4.8 15.2Z" fill="#e9a51f"/></g>
<text x="280.00" y="398.20" font-size="7.5" fill="#231f20">Patient MGH1531</text>
<text x="266.20" y="420.20" font-size="7.5" fill="#231f20">MGH1531-1B</text>
<text x="258.00" y="429.40" font-size="7.5" text-anchor="end" fill="#231f20">EC</text>
<text x="258.00" y="438.50" font-size="7.5" text-anchor="end" fill="#231f20">TRT</text>
<text x="258.00" y="447.70" font-size="7.5" text-anchor="end" fill="#231f20">EC</text>
<text x="258.00" y="517.70" font-size="7.5" text-anchor="end" fill="#231f20">EC</text>
<text x="258.00" y="555.70" font-size="7.5" text-anchor="end" fill="#231f20">OT</text>
<path d="M262.5 419V427" stroke="#e57c78" stroke-width="0.9"/>
<path d="M260 425.8H265L262.5 431.4Z" fill="#dd4f50"/>
<path d="M265 433.5H285.5" stroke="#bdb4b4" stroke-width="0.8"/>
<path d="M259.7 435.7H265.3" stroke="#111" stroke-width="2"/>
<path d="M260 440.4H265L262.5 446.2Z" fill="#dd4f50"/>
<path d="M262.5 448V510" stroke="#8c8c8c" stroke-width="0.9" stroke-dasharray="1.2 1.7"/>
<path d="M262.5 510V526" stroke="#e57c78" stroke-width="0.9"/>
<path d="M259.9 524.8H265.1L262.5 530.6Z" fill="#dd4f50"/>
<path d="M262.5 532V546" stroke="#e57c78" stroke-width="0.9" stroke-dasharray="1.6 1.2"/>
<path d="M262.5 546V577" stroke="#27a88e" stroke-width="0.9"/>
<path d="M259.7 576.2H265.3L262.5 582.6Z" fill="#27a88e"/>
<path d="M262.5 582.5H285" stroke="#8fc9bd" stroke-width="0.8"/>
<path d="M305.0 434.1C309.0 434.1 313.0 436.6 310.0 438.20000000000005" fill="none" stroke="#bfa39b" stroke-width="0.7"/><path d="M292.0 435.1L290.5 437.6H293.0M301.5 435.6L299.5 438.0H303.0" fill="none" stroke="#bfa39b" stroke-width="0.7"/><path d="M285.8 432.8C287.5 430.1 290.5 428.8 293.5 429.0C297.5 426.8 304.5 427.6 305.8 432.6C306.5 436.1 301.5 436.6 296.5 436.20000000000005C292.5 436.0 288.0 435.20000000000005 285.8 432.8Z" stroke="#bfa39b" stroke-width="0.7" fill="#fbf7f5"/><ellipse cx="292.1" cy="429.0" rx="1.5" ry="1.3" stroke="#bfa39b" stroke-width="0.7" fill="#fbf7f5"/><circle cx="288.9" cy="431.8" r="0.3" fill="#caa"/><circle cx="300.8" cy="428.20000000000005" r="3" fill="#f4d42a"/>
<path d="M305.0 584.5C309.0 584.5 313.0 587 310.0 588.6" fill="none" stroke="#bfa39b" stroke-width="0.7"/><path d="M292.0 585.5L290.5 588H293.0M301.5 586L299.5 588.4H303.0" fill="none" stroke="#bfa39b" stroke-width="0.7"/><path d="M285.8 583.2C287.5 580.5 290.5 579.2 293.5 579.4C297.5 577.2 304.5 578 305.8 583C306.5 586.5 301.5 587 296.5 586.6C292.5 586.4 288.0 585.6 285.8 583.2Z" stroke="#bfa39b" stroke-width="0.7" fill="#fbf7f5"/><ellipse cx="292.1" cy="579.4" rx="1.5" ry="1.3" stroke="#bfa39b" stroke-width="0.7" fill="#fbf7f5"/><circle cx="288.9" cy="582.2" r="0.3" fill="#caa"/><circle cx="300.8" cy="578.6" r="3" fill="#7a52a8"/>
<text x="270.50" y="570.20" font-size="7.5" fill="#231f20">MGH1531-5BX</text>
<path d="M295 464.5H298.3" stroke="#8a4b22" stroke-width="1.2"/>
<text x="300.50" y="467.20" font-size="7.5" fill="#231f20">Chr17</text>
<path d="M305 598.7H308.6" stroke="#8a4b22" stroke-width="1.2"/>
<text x="310.50" y="601.40" font-size="7.5" fill="#231f20">Chr17</text>
<circle cx="360.4" cy="442.7" r="21" fill="#fff" stroke="#2f1d14" stroke-width="2"/><path d="M353.22 462.43A21 21 0 0 1 352.53 462.17" stroke="#fff" stroke-width="2.2" fill="none"/><path d="M361.13 463.69A21 21 0 0 1 360.40 463.70" stroke="#fff" stroke-width="2.2" fill="none"/><path d="M381.32 444.53A21 21 0 0 1 381.24 445.26" stroke="#fff" stroke-width="2.2" fill="none"/><text transform="translate(347.63 421.44) rotate(419.00)" y="1.48" font-size="4.1" text-anchor="end" font-weight="bold" fill="#3a3a3a">6888</text><text transform="translate(356.78 418.17) rotate(441.60)" y="1.48" font-size="4.1" text-anchor="end" font-weight="bold" fill="#3a3a3a">6887</text><text transform="translate(365.26 418.38) rotate(-78.70)" y="1.48" font-size="4.1" font-weight="bold" fill="#3a3a3a">6886</text><text transform="translate(373.91 421.90) rotate(-57.00)" y="1.48" font-size="4.1" font-weight="bold" fill="#3a3a3a">6885</text><text transform="translate(381.55 429.74) rotate(-31.50)" y="1.48" font-size="4.1" fill="#3a3a3a">6884</text><text transform="translate(384.93 439.08) rotate(-8.40)" y="1.48" font-size="4.1" fill="#3a3a3a">6883</text><text transform="translate(384.29 449.37) rotate(15.60)" y="1.48" font-size="4.1" fill="#3a3a3a">6556</text><text transform="translate(379.70 458.27) rotate(38.90)" y="1.48" font-size="4.1" fill="#3a3a3a">6555</text><text transform="translate(371.89 464.68) rotate(62.40)" y="1.48" font-size="4.1" fill="#3a3a3a">6554</text><text transform="translate(344.23 461.50) rotate(310.70)" y="1.48" font-size="4.1" text-anchor="end" fill="#3a3a3a">7118</text><text transform="translate(338.97 455.17) rotate(329.80)" y="1.48" font-size="4.1" text-anchor="end" fill="#3a3a3a">7119</text><text transform="translate(336.61 449.70) rotate(343.60)" y="1.48" font-size="4.1" text-anchor="end" fill="#3a3a3a">6891</text><text transform="translate(335.84 439.25) rotate(368.00)" y="1.48" font-size="4.1" text-anchor="end" fill="#3a3a3a">6890</text><text transform="translate(339.72 429.01) rotate(393.50)" y="1.48" font-size="4.1" text-anchor="end" fill="#3a3a3a">6889</text><text transform="translate(331.46 421.29) rotate(27.00)" y="1.87" font-size="5.2" text-anchor="end" font-style="italic" fill="#2a2a2a">ABCA8</text><text transform="translate(380.82 474.15) rotate(57.00)" y="1.87" font-size="5.2" font-style="italic" fill="#2a2a2a">AXIN2</text><text transform="translate(349.72 476.56) rotate(-56.00)" y="1.80" font-size="5" text-anchor="end" font-style="italic" fill="#2a2a2a">CASC17</text><text x="360.40" y="440.67" font-size="5.2" text-anchor="middle" fill="#333">MGH1531-1B</text><text x="360.40" y="448.37" font-size="5.2" text-anchor="middle" fill="#333">major ecDNA</text>
<circle cx="361" cy="569" r="21" fill="#fff" stroke="#2f1d14" stroke-width="2"/><path d="M353.82 588.73A21 21 0 0 1 353.13 588.47" stroke="#fff" stroke-width="2.2" fill="none"/><path d="M361.73 589.99A21 21 0 0 1 361.00 590.00" stroke="#fff" stroke-width="2.2" fill="none"/><path d="M381.92 570.83A21 21 0 0 1 381.84 571.56" stroke="#fff" stroke-width="2.2" fill="none"/><text transform="translate(348.23 547.74) rotate(419.00)" y="1.48" font-size="4.1" text-anchor="end" font-weight="bold" fill="#3a3a3a">6888</text><text transform="translate(357.38 544.47) rotate(441.60)" y="1.48" font-size="4.1" text-anchor="end" font-weight="bold" fill="#3a3a3a">6887</text><text transform="translate(365.86 544.68) rotate(-78.70)" y="1.48" font-size="4.1" font-weight="bold" fill="#3a3a3a">6886</text><text transform="translate(374.51 548.20) rotate(-57.00)" y="1.48" font-size="4.1" font-weight="bold" fill="#3a3a3a">6885</text><text transform="translate(382.15 556.04) rotate(-31.50)" y="1.48" font-size="4.1" fill="#3a3a3a">6884</text><text transform="translate(385.53 565.38) rotate(-8.40)" y="1.48" font-size="4.1" fill="#3a3a3a">6883</text><text transform="translate(384.89 575.67) rotate(15.60)" y="1.48" font-size="4.1" fill="#3a3a3a">6556</text><text transform="translate(380.30 584.57) rotate(38.90)" y="1.48" font-size="4.1" fill="#3a3a3a">6555</text><text transform="translate(372.49 590.98) rotate(62.40)" y="1.48" font-size="4.1" fill="#3a3a3a">6554</text><text transform="translate(344.83 587.80) rotate(310.70)" y="1.48" font-size="4.1" text-anchor="end" fill="#3a3a3a">7118</text><text transform="translate(339.57 581.47) rotate(329.80)" y="1.48" font-size="4.1" text-anchor="end" fill="#3a3a3a">7119</text><text transform="translate(337.21 576.00) rotate(343.60)" y="1.48" font-size="4.1" text-anchor="end" fill="#3a3a3a">6891</text><text transform="translate(336.44 565.55) rotate(368.00)" y="1.48" font-size="4.1" text-anchor="end" fill="#3a3a3a">6890</text><text transform="translate(340.32 555.31) rotate(393.50)" y="1.48" font-size="4.1" text-anchor="end" fill="#3a3a3a">6889</text><text transform="translate(332.06 547.59) rotate(27.00)" y="1.87" font-size="5.2" text-anchor="end" font-style="italic" fill="#2a2a2a">ABCA8</text><text transform="translate(381.42 600.45) rotate(57.00)" y="1.87" font-size="5.2" font-style="italic" fill="#2a2a2a">AXIN2</text><text transform="translate(350.32 602.86) rotate(-56.00)" y="1.80" font-size="5" text-anchor="end" font-style="italic" fill="#2a2a2a">CASC17</text><text x="361.00" y="564.43" font-size="4.8" text-anchor="middle" fill="#333">MGH1531-5BX</text><text x="361.00" y="571.73" font-size="4.8" text-anchor="middle" fill="#333">major</text><text x="361.00" y="578.53" font-size="4.8" text-anchor="middle" fill="#333">ecDNA</text>
<path d="M400.4 441.6L433.2 462.6L498.1 435.2L447.5 476.5H436Z" fill="url(#coneg)"/>
<g><path d="M461.5 415.6L467.6 416.6L467.6 431.3L461.5 430.2Z" fill="#9a9432" stroke="#6f6b22" stroke-width="0.32" stroke-linejoin="round"/><path d="M467.6 416.6L470.7 416.0L470.7 430.6L467.6 431.3Z" fill="#bab446" stroke="#6f6b22" stroke-width="0.32" stroke-linejoin="round"/><path d="M461.5 415.6L464.6 415.0L470.7 416.0L467.6 416.6Z" fill="#ded757" stroke="#6f6b22" stroke-width="0.32" stroke-linejoin="round"/><path d="M458.1 413.6L464.3 414.8L464.3 432.0L458.1 430.8Z" fill="#9a9432" stroke="#6f6b22" stroke-width="0.32" stroke-linejoin="round"/><path d="M464.3 414.8L467.6 414.0L467.6 431.3L464.3 432.0Z" fill="#bab446" stroke="#6f6b22" stroke-width="0.32" stroke-linejoin="round"/><path d="M458.1 413.6L461.5 413.0L467.6 414.0L464.3 414.8Z" fill="#ded757" stroke="#6f6b22" stroke-width="0.32" stroke-linejoin="round"/><path d="M467.6 418.1L472.0 418.8L472.0 432.1L467.6 431.3Z" fill="#9a9432" stroke="#6f6b22" stroke-width="0.32" stroke-linejoin="round"/><path d="M472.0 418.8L475.0 418.1L475.0 431.3L472.0 432.1Z" fill="#bab446" stroke="#6f6b22" stroke-width="0.32" stroke-linejoin="round"/><path d="M467.6 418.1L470.7 417.4L475.0 418.1L472.0 418.8Z" fill="#ded757" stroke="#6f6b22" stroke-width="0.32" stroke-linejoin="round"/><path d="M454.4 413.0L460.6 414.3L460.6 432.8L454.4 431.5Z" fill="#9a9432" stroke="#6f6b22" stroke-width="0.32" stroke-linejoin="round"/><path d="M460.6 414.3L464.3 413.5L464.3 432.0L460.6 432.8Z" fill="#bab446" stroke="#6f6b22" stroke-width="0.32" stroke-linejoin="round"/><path d="M454.4 413.0L458.1 412.4L464.3 413.5L460.6 414.3Z" fill="#ded757" stroke="#6f6b22" stroke-width="0.32" stroke-linejoin="round"/><path d="M464.3 415.9L468.7 416.7L468.7 432.8L464.3 432.0Z" fill="#9a9432" stroke="#6f6b22" stroke-width="0.32" stroke-linejoin="round"/><path d="M468.7 416.7L472.0 416.0L472.0 432.1L468.7 432.8Z" fill="#bab446" stroke="#6f6b22" stroke-width="0.32" stroke-linejoin="round"/><path d="M464.3 415.9L467.6 415.2L472.0 416.0L468.7 416.7Z" fill="#ded757" stroke="#6f6b22" stroke-width="0.32" stroke-linejoin="round"/><path d="M472.0 420.4L476.0 421.1L476.0 432.8L472.0 432.1Z" fill="#9a9432" stroke="#6f6b22" stroke-width="0.32" stroke-linejoin="round"/><path d="M476.0 421.1L479.0 420.3L479.0 432.0L476.0 432.8Z" fill="#bab446" stroke="#6f6b22" stroke-width="0.32" stroke-linejoin="round"/><path d="M472.0 420.4L475.0 419.7L479.0 420.3L476.0 421.1Z" fill="#ded757" stroke="#6f6b22" stroke-width="0.32" stroke-linejoin="round"/><path d="M450.4 415.0L456.7 416.4L456.7 433.6L450.4 432.2Z" fill="#9a9432" stroke="#6f6b22" stroke-width="0.32" stroke-linejoin="round"/><path d="M456.7 416.4L460.6 415.6L460.6 432.8L456.7 433.6Z" fill="#bab446" stroke="#6f6b22" stroke-width="0.32" stroke-linejoin="round"/><path d="M450.4 415.0L454.4 414.3L460.6 415.6L456.7 416.4Z" fill="#ded757" stroke="#6f6b22" stroke-width="0.32" stroke-linejoin="round"/><path d="M460.6 415.1L465.1 416.0L465.1 433.7L460.6 432.8Z" fill="#9a9432" stroke="#6f6b22" stroke-width="0.32" stroke-linejoin="round"/><path d="M465.1 416.0L468.7 415.2L468.7 432.8L465.1 433.7Z" fill="#bab446" stroke="#6f6b22" stroke-width="0.32" stroke-linejoin="round"/><path d="M460.6 415.1L464.3 414.4L468.7 415.2L465.1 416.0Z" fill="#ded757" stroke="#6f6b22" stroke-width="0.32" stroke-linejoin="round"/><path d="M468.7 418.8L472.8 419.5L472.8 433.6L468.7 432.8Z" fill="#9a9432" stroke="#6f6b22" stroke-width="0.32" stroke-linejoin="round"/><path d="M472.8 419.5L476.0 418.7L476.0 432.8L472.8 433.6Z" fill="#bab446" stroke="#6f6b22" stroke-width="0.32" stroke-linejoin="round"/><path d="M468.7 418.8L472.0 418.0L476.0 418.7L472.8 419.5Z" fill="#ded757" stroke="#6f6b22" stroke-width="0.32" stroke-linejoin="round"/><path d="M476.0 422.8L479.9 423.5L479.9 433.5L476.0 432.8Z" fill="#9a9432" stroke="#6f6b22" stroke-width="0.32" stroke-linejoin="round"/><path d="M479.9 423.5L482.8 422.7L482.8 432.6L479.9 433.5Z" fill="#bab446" stroke="#6f6b22" stroke-width="0.32" stroke-linejoin="round"/><path d="M476.0 422.8L479.0 422.0L482.8 422.7L479.9 423.5Z" fill="#ded757" stroke="#6f6b22" stroke-width="0.32" stroke-linejoin="round"/><path d="M446.1 418.0L452.4 419.4L452.4 434.5L446.1 433.1Z" fill="#6d681e" stroke="#3a3812" stroke-width="0.32" stroke-linejoin="round"/><path d="M452.4 419.4L456.7 418.5L456.7 433.6L452.4 434.5Z" fill="#8f8a2c" stroke="#3a3812" stroke-width="0.32" stroke-linejoin="round"/><path d="M446.1 418.0L450.4 417.2L456.7 418.5L452.4 419.4Z" fill="#bab33f" stroke="#3a3812" stroke-width="0.32" stroke-linejoin="round"/><path d="M456.7 416.4L461.2 417.4L461.2 434.6L456.7 433.6Z" fill="#9a9432" stroke="#6f6b22" stroke-width="0.32" stroke-linejoin="round"/><path d="M461.2 417.4L465.1 416.5L465.1 433.7L461.2 434.6Z" fill="#bab446" stroke="#6f6b22" stroke-width="0.32" stroke-linejoin="round"/><path d="M456.7 416.4L460.6 415.6L465.1 416.5L461.2 417.4Z" fill="#ded757" stroke="#6f6b22" stroke-width="0.32" stroke-linejoin="round"/><path d="M465.1 419.0L469.3 419.9L469.3 434.5L465.1 433.7Z" fill="#9a9432" stroke="#6f6b22" stroke-width="0.32" stroke-linejoin="round"/><path d="M469.3 419.9L472.8 419.0L472.8 433.6L469.3 434.5Z" fill="#bab446" stroke="#6f6b22" stroke-width="0.32" stroke-linejoin="round"/><path d="M465.1 419.0L468.7 418.2L472.8 419.0L469.3 419.9Z" fill="#ded757" stroke="#6f6b22" stroke-width="0.32" stroke-linejoin="round"/><path d="M472.8 422.9L476.8 423.6L476.8 434.4L472.8 433.6Z" fill="#9a9432" stroke="#6f6b22" stroke-width="0.32" stroke-linejoin="round"/><path d="M476.8 423.6L479.9 422.7L479.9 433.5L476.8 434.4Z" fill="#bab446" stroke="#6f6b22" stroke-width="0.32" stroke-linejoin="round"/><path d="M472.8 422.9L476.0 422.0L479.9 422.7L476.8 423.6Z" fill="#ded757" stroke="#6f6b22" stroke-width="0.32" stroke-linejoin="round"/><path d="M479.9 426.2L483.8 426.8L483.8 434.2L479.9 433.5Z" fill="#454214" stroke="#2c2a0c" stroke-width="0.32" stroke-linejoin="round"/><path d="M483.8 426.8L486.6 426.0L486.6 433.3L483.8 434.2Z" fill="#5b581c" stroke="#2c2a0c" stroke-width="0.32" stroke-linejoin="round"/><path d="M479.9 426.2L482.8 425.3L486.6 426.0L483.8 426.8Z" fill="#7c7729" stroke="#2c2a0c" stroke-width="0.32" stroke-linejoin="round"/><path d="M441.4 418.5L447.6 420.1L447.6 435.6L441.4 433.9Z" fill="#6d681e" stroke="#3a3812" stroke-width="0.32" stroke-linejoin="round"/><path d="M447.6 420.1L452.4 419.1L452.4 434.5L447.6 435.6Z" fill="#8f8a2c" stroke="#3a3812" stroke-width="0.32" stroke-linejoin="round"/><path d="M441.4 418.5L446.1 417.6L452.4 419.1L447.6 420.1Z" fill="#bab33f" stroke="#3a3812" stroke-width="0.32" stroke-linejoin="round"/><path d="M452.4 418.6L456.9 419.6L456.9 435.6L452.4 434.5Z" fill="#6d681e" stroke="#3a3812" stroke-width="0.32" stroke-linejoin="round"/><path d="M456.9 419.6L461.2 418.6L461.2 434.6L456.9 435.6Z" fill="#8f8a2c" stroke="#3a3812" stroke-width="0.32" stroke-linejoin="round"/><path d="M452.4 418.6L456.7 417.6L461.2 418.6L456.9 419.6Z" fill="#bab33f" stroke="#3a3812" stroke-width="0.32" stroke-linejoin="round"/><path d="M461.2 420.5L465.4 421.5L465.4 435.5L461.2 434.6Z" fill="#9a9432" stroke="#6f6b22" stroke-width="0.32" stroke-linejoin="round"/><path d="M465.4 421.5L469.3 420.5L469.3 434.5L465.4 435.5Z" fill="#bab446" stroke="#6f6b22" stroke-width="0.32" stroke-linejoin="round"/><path d="M461.2 420.5L465.1 419.6L469.3 420.5L465.4 421.5Z" fill="#ded757" stroke="#6f6b22" stroke-width="0.32" stroke-linejoin="round"/><path d="M469.3 422.3L473.3 423.2L473.3 435.3L469.3 434.5Z" fill="#9a9432" stroke="#6f6b22" stroke-width="0.32" stroke-linejoin="round"/><path d="M473.3 423.2L476.8 422.2L476.8 434.4L473.3 435.3Z" fill="#bab446" stroke="#6f6b22" stroke-width="0.32" stroke-linejoin="round"/><path d="M469.3 422.3L472.8 421.4L476.8 422.2L473.3 423.2Z" fill="#ded757" stroke="#6f6b22" stroke-width="0.32" stroke-linejoin="round"/><path d="M476.8 422.7L480.7 423.5L480.7 435.1L476.8 434.4Z" fill="#454214" stroke="#2c2a0c" stroke-width="0.32" stroke-linejoin="round"/><path d="M480.7 423.5L483.8 422.5L483.8 434.2L480.7 435.1Z" fill="#5b581c" stroke="#2c2a0c" stroke-width="0.32" stroke-linejoin="round"/><path d="M476.8 422.7L479.9 421.8L483.8 422.5L480.7 423.5Z" fill="#7c7729" stroke="#2c2a0c" stroke-width="0.32" stroke-linejoin="round"/><path d="M483.8 427.1L487.7 427.8L487.7 434.8L483.8 434.2Z" fill="#454214" stroke="#2c2a0c" stroke-width="0.32" stroke-linejoin="round"/><path d="M487.7 427.8L490.4 426.9L490.4 433.9L487.7 434.8Z" fill="#5b581c" stroke="#2c2a0c" stroke-width="0.32" stroke-linejoin="round"/><path d="M483.8 427.1L486.6 426.3L490.4 426.9L487.7 427.8Z" fill="#7c7729" stroke="#2c2a0c" stroke-width="0.32" stroke-linejoin="round"/><path d="M436.2 418.3L442.4 420.0L442.4 436.7L436.2 434.9Z" fill="#6d681e" stroke="#3a3812" stroke-width="0.32" stroke-linejoin="round"/><path d="M442.4 420.0L447.6 418.9L447.6 435.6L442.4 436.7Z" fill="#8f8a2c" stroke="#3a3812" stroke-width="0.32" stroke-linejoin="round"/><path d="M436.2 418.3L441.4 417.3L447.6 418.9L442.4 420.0Z" fill="#bab33f" stroke="#3a3812" stroke-width="0.32" stroke-linejoin="round"/><path d="M447.6 419.0L452.2 420.2L452.2 436.7L447.6 435.6Z" fill="#6d681e" stroke="#3a3812" stroke-width="0.32" stroke-linejoin="round"/><path d="M452.2 420.2L456.9 419.1L456.9 435.6L452.2 436.7Z" fill="#8f8a2c" stroke="#3a3812" stroke-width="0.32" stroke-linejoin="round"/><path d="M447.6 419.0L452.4 418.0L456.9 419.1L452.2 420.2Z" fill="#bab33f" stroke="#3a3812" stroke-width="0.32" stroke-linejoin="round"/><path d="M456.9 419.5L461.2 420.5L461.2 436.6L456.9 435.6Z" fill="#6d681e" stroke="#3a3812" stroke-width="0.32" stroke-linejoin="round"/><path d="M461.2 420.5L465.4 419.4L465.4 435.5L461.2 436.6Z" fill="#8f8a2c" stroke="#3a3812" stroke-width="0.32" stroke-linejoin="round"/><path d="M456.9 419.5L461.2 418.4L465.4 419.4L461.2 420.5Z" fill="#bab33f" stroke="#3a3812" stroke-width="0.32" stroke-linejoin="round"/><path d="M465.4 424.0L469.5 424.9L469.5 436.4L465.4 435.5Z" fill="#9a9432" stroke="#6f6b22" stroke-width="0.32" stroke-linejoin="round"/><path d="M469.5 424.9L473.3 423.8L473.3 435.3L469.5 436.4Z" fill="#bab446" stroke="#6f6b22" stroke-width="0.32" stroke-linejoin="round"/><path d="M465.4 424.0L469.3 423.0L473.3 423.8L469.5 424.9Z" fill="#ded757" stroke="#6f6b22" stroke-width="0.32" stroke-linejoin="round"/><path d="M473.3 421.4L477.4 422.3L477.4 436.2L473.3 435.3Z" fill="#454214" stroke="#2c2a0c" stroke-width="0.32" stroke-linejoin="round"/><path d="M477.4 422.3L480.7 421.2L480.7 435.1L477.4 436.2Z" fill="#5b581c" stroke="#2c2a0c" stroke-width="0.32" stroke-linejoin="round"/><path d="M473.3 421.4L476.8 420.5L480.7 421.2L477.4 422.3Z" fill="#7c7729" stroke="#2c2a0c" stroke-width="0.32" stroke-linejoin="round"/><path d="M480.7 424.0L484.7 424.7L484.7 435.9L480.7 435.1Z" fill="#454214" stroke="#2c2a0c" stroke-width="0.32" stroke-linejoin="round"/><path d="M484.7 424.7L487.7 423.7L487.7 434.8L484.7 435.9Z" fill="#5b581c" stroke="#2c2a0c" stroke-width="0.32" stroke-linejoin="round"/><path d="M480.7 424.0L483.8 423.0L487.7 423.7L484.7 424.7Z" fill="#7c7729" stroke="#2c2a0c" stroke-width="0.32" stroke-linejoin="round"/><path d="M487.7 428.3L491.6 429.0L491.6 435.5L487.7 434.8Z" fill="#454214" stroke="#2c2a0c" stroke-width="0.32" stroke-linejoin="round"/><path d="M491.6 429.0L494.2 428.0L494.2 434.6L491.6 435.5Z" fill="#5b581c" stroke="#2c2a0c" stroke-width="0.32" stroke-linejoin="round"/><path d="M487.7 428.3L490.4 427.3L494.2 428.0L491.6 429.0Z" fill="#7c7729" stroke="#2c2a0c" stroke-width="0.32" stroke-linejoin="round"/><path d="M430.5 420.3L436.6 422.3L436.6 437.9L430.5 436.0Z" fill="#6d681e" stroke="#3a3812" stroke-width="0.32" stroke-linejoin="round"/><path d="M436.6 422.3L442.4 421.0L442.4 436.7L436.6 437.9Z" fill="#8f8a2c" stroke="#3a3812" stroke-width="0.32" stroke-linejoin="round"/><path d="M430.5 420.3L436.2 419.2L442.4 421.0L436.6 422.3Z" fill="#bab33f" stroke="#3a3812" stroke-width="0.32" stroke-linejoin="round"/><path d="M442.4 419.9L446.9 421.2L446.9 438.0L442.4 436.7Z" fill="#6d681e" stroke="#3a3812" stroke-width="0.32" stroke-linejoin="round"/><path d="M446.9 421.2L452.2 420.0L452.2 436.7L446.9 438.0Z" fill="#8f8a2c" stroke="#3a3812" stroke-width="0.32" stroke-linejoin="round"/><path d="M442.4 419.9L447.6 418.8L452.2 420.0L446.9 421.2Z" fill="#bab33f" stroke="#3a3812" stroke-width="0.32" stroke-linejoin="round"/><path d="M452.2 420.3L456.5 421.4L456.5 437.9L452.2 436.7Z" fill="#6d681e" stroke="#3a3812" stroke-width="0.32" stroke-linejoin="round"/><path d="M456.5 421.4L461.2 420.2L461.2 436.6L456.5 437.9Z" fill="#8f8a2c" stroke="#3a3812" stroke-width="0.32" stroke-linejoin="round"/><path d="M452.2 420.3L456.9 419.2L461.2 420.2L456.5 421.4Z" fill="#bab33f" stroke="#3a3812" stroke-width="0.32" stroke-linejoin="round"/><path d="M461.2 421.8L465.3 422.8L465.3 437.6L461.2 436.6Z" fill="#6d681e" stroke="#3a3812" stroke-width="0.32" stroke-linejoin="round"/><path d="M465.3 422.8L469.5 421.6L469.5 436.4L465.3 437.6Z" fill="#8f8a2c" stroke="#3a3812" stroke-width="0.32" stroke-linejoin="round"/><path d="M461.2 421.8L465.4 420.7L469.5 421.6L465.3 422.8Z" fill="#bab33f" stroke="#3a3812" stroke-width="0.32" stroke-linejoin="round"/><path d="M469.5 422.4L473.7 423.3L473.7 437.3L469.5 436.4Z" fill="#454214" stroke="#2c2a0c" stroke-width="0.32" stroke-linejoin="round"/><path d="M473.7 423.3L477.4 422.1L477.4 436.2L473.7 437.3Z" fill="#5b581c" stroke="#2c2a0c" stroke-width="0.32" stroke-linejoin="round"/><path d="M469.5 422.4L473.3 421.3L477.4 422.1L473.7 423.3Z" fill="#7c7729" stroke="#2c2a0c" stroke-width="0.32" stroke-linejoin="round"/><path d="M477.4 423.2L481.5 424.1L481.5 437.0L477.4 436.2Z" fill="#454214" stroke="#2c2a0c" stroke-width="0.32" stroke-linejoin="round"/><path d="M481.5 424.1L484.7 422.9L484.7 435.9L481.5 437.0Z" fill="#5b581c" stroke="#2c2a0c" stroke-width="0.32" stroke-linejoin="round"/><path d="M477.4 423.2L480.7 422.2L484.7 422.9L481.5 424.1Z" fill="#7c7729" stroke="#2c2a0c" stroke-width="0.32" stroke-linejoin="round"/><path d="M484.7 426.6L488.8 427.4L488.8 436.6L484.7 435.9Z" fill="#454214" stroke="#2c2a0c" stroke-width="0.32" stroke-linejoin="round"/><path d="M488.8 427.4L491.6 426.3L491.6 435.5L488.8 436.6Z" fill="#5b581c" stroke="#2c2a0c" stroke-width="0.32" stroke-linejoin="round"/><path d="M484.7 426.6L487.7 425.6L491.6 426.3L488.8 427.4Z" fill="#7c7729" stroke="#2c2a0c" stroke-width="0.32" stroke-linejoin="round"/><path d="M491.6 431.0L495.6 431.7L495.6 436.2L491.6 435.5Z" fill="#454214" stroke="#2c2a0c" stroke-width="0.32" stroke-linejoin="round"/><path d="M495.6 431.7L498.1 430.7L498.1 435.2L495.6 436.2Z" fill="#5b581c" stroke="#2c2a0c" stroke-width="0.32" stroke-linejoin="round"/><path d="M491.6 431.0L494.2 430.0L498.1 430.7L495.6 431.7Z" fill="#7c7729" stroke="#2c2a0c" stroke-width="0.32" stroke-linejoin="round"/><path d="M424.2 430.2L430.1 432.3L430.1 439.3L424.2 437.2Z" fill="#121208" stroke="#0a0a05" stroke-width="0.32" stroke-linejoin="round"/><path d="M430.1 432.3L436.6 430.9L436.6 437.9L430.1 439.3Z" fill="#1d1c0e" stroke="#0a0a05" stroke-width="0.32" stroke-linejoin="round"/><path d="M424.2 430.2L430.5 429.0L436.6 430.9L430.1 432.3Z" fill="#2e2d16" stroke="#0a0a05" stroke-width="0.32" stroke-linejoin="round"/><path d="M436.6 420.9L441.1 422.4L441.1 439.4L436.6 437.9Z" fill="#6d681e" stroke="#3a3812" stroke-width="0.32" stroke-linejoin="round"/><path d="M441.1 422.4L446.9 421.0L446.9 438.0L441.1 439.4Z" fill="#8f8a2c" stroke="#3a3812" stroke-width="0.32" stroke-linejoin="round"/><path d="M436.6 420.9L442.4 419.7L446.9 421.0L441.1 422.4Z" fill="#bab33f" stroke="#3a3812" stroke-width="0.32" stroke-linejoin="round"/><path d="M446.9 420.8L451.2 422.1L451.2 439.2L446.9 438.0Z" fill="#6d681e" stroke="#3a3812" stroke-width="0.32" stroke-linejoin="round"/><path d="M451.2 422.1L456.5 420.7L456.5 437.9L451.2 439.2Z" fill="#8f8a2c" stroke="#3a3812" stroke-width="0.32" stroke-linejoin="round"/><path d="M446.9 420.8L452.2 419.6L456.5 420.7L451.2 422.1Z" fill="#bab33f" stroke="#3a3812" stroke-width="0.32" stroke-linejoin="round"/><path d="M456.5 421.9L460.7 423.0L460.7 438.9L456.5 437.9Z" fill="#6d681e" stroke="#3a3812" stroke-width="0.32" stroke-linejoin="round"/><path d="M460.7 423.0L465.3 421.7L465.3 437.6L460.7 438.9Z" fill="#8f8a2c" stroke="#3a3812" stroke-width="0.32" stroke-linejoin="round"/><path d="M456.5 421.9L461.2 420.7L465.3 421.7L460.7 423.0Z" fill="#bab33f" stroke="#3a3812" stroke-width="0.32" stroke-linejoin="round"/><path d="M465.3 433.2L469.5 434.2L469.5 438.6L465.3 437.6Z" fill="#8a8530" stroke="#6a6622" stroke-width="0.32" stroke-linejoin="round"/><path d="M469.5 434.2L473.7 432.9L473.7 437.3L469.5 438.6Z" fill="#a6a03c" stroke="#6a6622" stroke-width="0.32" stroke-linejoin="round"/><path d="M465.3 433.2L469.5 432.0L473.7 432.9L469.5 434.2Z" fill="#c6bf4a" stroke="#6a6622" stroke-width="0.32" stroke-linejoin="round"/><path d="M473.7 422.9L477.8 423.8L477.8 438.2L473.7 437.3Z" fill="#454214" stroke="#2c2a0c" stroke-width="0.32" stroke-linejoin="round"/><path d="M477.8 423.8L481.5 422.5L481.5 437.0L477.8 438.2Z" fill="#5b581c" stroke="#2c2a0c" stroke-width="0.32" stroke-linejoin="round"/><path d="M473.7 422.9L477.4 421.7L481.5 422.5L477.8 423.8Z" fill="#7c7729" stroke="#2c2a0c" stroke-width="0.32" stroke-linejoin="round"/><path d="M481.5 424.3L485.6 425.2L485.6 437.8L481.5 437.0Z" fill="#454214" stroke="#2c2a0c" stroke-width="0.32" stroke-linejoin="round"/><path d="M485.6 425.2L488.8 424.0L488.8 436.6L485.6 437.8Z" fill="#5b581c" stroke="#2c2a0c" stroke-width="0.32" stroke-linejoin="round"/><path d="M481.5 424.3L484.7 423.2L488.8 424.0L485.6 425.2Z" fill="#7c7729" stroke="#2c2a0c" stroke-width="0.32" stroke-linejoin="round"/><path d="M488.8 428.5L492.9 429.3L492.9 437.4L488.8 436.6Z" fill="#454214" stroke="#2c2a0c" stroke-width="0.32" stroke-linejoin="round"/><path d="M492.9 429.3L495.6 428.1L495.6 436.2L492.9 437.4Z" fill="#5b581c" stroke="#2c2a0c" stroke-width="0.32" stroke-linejoin="round"/><path d="M488.8 428.5L491.6 427.4L495.6 428.1L492.9 429.3Z" fill="#7c7729" stroke="#2c2a0c" stroke-width="0.32" stroke-linejoin="round"/><path d="M417.2 429.2L422.8 431.6L422.8 440.9L417.2 438.5Z" fill="#121208" stroke="#0a0a05" stroke-width="0.32" stroke-linejoin="round"/><path d="M422.8 431.6L430.1 430.1L430.1 439.3L422.8 440.9Z" fill="#1d1c0e" stroke="#0a0a05" stroke-width="0.32" stroke-linejoin="round"/><path d="M417.2 429.2L424.2 427.9L430.1 430.1L422.8 431.6Z" fill="#2e2d16" stroke="#0a0a05" stroke-width="0.32" stroke-linejoin="round"/><path d="M430.1 432.6L434.5 434.3L434.5 440.9L430.1 439.3Z" fill="#121208" stroke="#0a0a05" stroke-width="0.32" stroke-linejoin="round"/><path d="M434.5 434.3L441.1 432.7L441.1 439.4L434.5 440.9Z" fill="#1d1c0e" stroke="#0a0a05" stroke-width="0.32" stroke-linejoin="round"/><path d="M430.1 432.6L436.6 431.3L441.1 432.7L434.5 434.3Z" fill="#2e2d16" stroke="#0a0a05" stroke-width="0.32" stroke-linejoin="round"/><path d="M441.1 422.0L445.3 423.4L445.3 440.7L441.1 439.4Z" fill="#6d681e" stroke="#3a3812" stroke-width="0.32" stroke-linejoin="round"/><path d="M445.3 423.4L451.2 421.9L451.2 439.2L445.3 440.7Z" fill="#8f8a2c" stroke="#3a3812" stroke-width="0.32" stroke-linejoin="round"/><path d="M441.1 422.0L446.9 420.7L451.2 421.9L445.3 423.4Z" fill="#bab33f" stroke="#3a3812" stroke-width="0.32" stroke-linejoin="round"/><path d="M451.2 422.6L455.5 423.8L455.5 440.4L451.2 439.2Z" fill="#6d681e" stroke="#3a3812" stroke-width="0.32" stroke-linejoin="round"/><path d="M455.5 423.8L460.7 422.3L460.7 438.9L455.5 440.4Z" fill="#8f8a2c" stroke="#3a3812" stroke-width="0.32" stroke-linejoin="round"/><path d="M451.2 422.6L456.5 421.2L460.7 422.3L455.5 423.8Z" fill="#bab33f" stroke="#3a3812" stroke-width="0.32" stroke-linejoin="round"/><path d="M460.7 434.2L464.9 435.3L464.9 440.1L460.7 438.9Z" fill="#8a8530" stroke="#6a6622" stroke-width="0.32" stroke-linejoin="round"/><path d="M464.9 435.3L469.5 433.9L469.5 438.6L464.9 440.1Z" fill="#a6a03c" stroke="#6a6622" stroke-width="0.32" stroke-linejoin="round"/><path d="M460.7 434.2L465.3 432.9L469.5 433.9L464.9 435.3Z" fill="#c6bf4a" stroke="#6a6622" stroke-width="0.32" stroke-linejoin="round"/><path d="M469.5 434.9L473.8 435.9L473.8 439.6L469.5 438.6Z" fill="#8a8530" stroke="#6a6622" stroke-width="0.32" stroke-linejoin="round"/><path d="M473.8 435.9L477.8 434.5L477.8 438.2L473.8 439.6Z" fill="#a6a03c" stroke="#6a6622" stroke-width="0.32" stroke-linejoin="round"/><path d="M469.5 434.9L473.7 433.6L477.8 434.5L473.8 435.9Z" fill="#c6bf4a" stroke="#6a6622" stroke-width="0.32" stroke-linejoin="round"/><path d="M477.8 424.9L482.1 425.8L482.1 439.2L477.8 438.2Z" fill="#454214" stroke="#2c2a0c" stroke-width="0.32" stroke-linejoin="round"/><path d="M482.1 425.8L485.6 424.5L485.6 437.8L482.1 439.2Z" fill="#5b581c" stroke="#2c2a0c" stroke-width="0.32" stroke-linejoin="round"/><path d="M477.8 424.9L481.5 423.7L485.6 424.5L482.1 425.8Z" fill="#7c7729" stroke="#2c2a0c" stroke-width="0.32" stroke-linejoin="round"/><path d="M485.6 427.4L489.8 428.2L489.8 438.7L485.6 437.8Z" fill="#454214" stroke="#2c2a0c" stroke-width="0.32" stroke-linejoin="round"/><path d="M489.8 428.2L492.9 427.0L492.9 437.4L489.8 438.7Z" fill="#5b581c" stroke="#2c2a0c" stroke-width="0.32" stroke-linejoin="round"/><path d="M485.6 427.4L488.8 426.2L492.9 427.0L489.8 428.2Z" fill="#7c7729" stroke="#2c2a0c" stroke-width="0.32" stroke-linejoin="round"/><path d="M409.3 433.8L414.6 436.6L414.6 442.7L409.3 439.9Z" fill="#121208" stroke="#0a0a05" stroke-width="0.32" stroke-linejoin="round"/><path d="M414.6 436.6L422.8 434.8L422.8 440.9L414.6 442.7Z" fill="#1d1c0e" stroke="#0a0a05" stroke-width="0.32" stroke-linejoin="round"/><path d="M409.3 433.8L417.2 432.4L422.8 434.8L414.6 436.6Z" fill="#2e2d16" stroke="#0a0a05" stroke-width="0.32" stroke-linejoin="round"/><path d="M422.8 431.5L427.1 433.3L427.1 442.7L422.8 440.9Z" fill="#121208" stroke="#0a0a05" stroke-width="0.32" stroke-linejoin="round"/><path d="M427.1 433.3L434.5 431.6L434.5 440.9L427.1 442.7Z" fill="#1d1c0e" stroke="#0a0a05" stroke-width="0.32" stroke-linejoin="round"/><path d="M422.8 431.5L430.1 430.0L434.5 431.6L427.1 433.3Z" fill="#2e2d16" stroke="#0a0a05" stroke-width="0.32" stroke-linejoin="round"/><path d="M434.5 434.1L438.7 435.6L438.7 442.5L434.5 440.9Z" fill="#121208" stroke="#0a0a05" stroke-width="0.32" stroke-linejoin="round"/><path d="M438.7 435.6L445.3 433.9L445.3 440.7L438.7 442.5Z" fill="#1d1c0e" stroke="#0a0a05" stroke-width="0.32" stroke-linejoin="round"/><path d="M434.5 434.1L441.1 432.5L445.3 433.9L438.7 435.6Z" fill="#2e2d16" stroke="#0a0a05" stroke-width="0.32" stroke-linejoin="round"/><path d="M445.3 424.1L449.6 425.5L449.6 442.1L445.3 440.7Z" fill="#6d681e" stroke="#3a3812" stroke-width="0.32" stroke-linejoin="round"/><path d="M449.6 425.5L455.5 423.8L455.5 440.4L449.6 442.1Z" fill="#8f8a2c" stroke="#3a3812" stroke-width="0.32" stroke-linejoin="round"/><path d="M445.3 424.1L451.2 422.6L455.5 423.8L449.6 425.5Z" fill="#bab33f" stroke="#3a3812" stroke-width="0.32" stroke-linejoin="round"/><path d="M455.5 436.6L459.8 437.8L459.8 441.7L455.5 440.4Z" fill="#8a8530" stroke="#6a6622" stroke-width="0.32" stroke-linejoin="round"/><path d="M459.8 437.8L464.9 436.2L464.9 440.1L459.8 441.7Z" fill="#a6a03c" stroke="#6a6622" stroke-width="0.32" stroke-linejoin="round"/><path d="M455.5 436.6L460.7 435.1L464.9 436.2L459.8 437.8Z" fill="#c6bf4a" stroke="#6a6622" stroke-width="0.32" stroke-linejoin="round"/><path d="M464.9 436.8L469.3 437.9L469.3 441.2L464.9 440.1Z" fill="#8a8530" stroke="#6a6622" stroke-width="0.32" stroke-linejoin="round"/><path d="M469.3 437.9L473.8 436.4L473.8 439.6L469.3 441.2Z" fill="#a6a03c" stroke="#6a6622" stroke-width="0.32" stroke-linejoin="round"/><path d="M464.9 436.8L469.5 435.4L473.8 436.4L469.3 437.9Z" fill="#c6bf4a" stroke="#6a6622" stroke-width="0.32" stroke-linejoin="round"/><path d="M473.8 436.3L478.2 437.3L478.2 440.7L473.8 439.6Z" fill="#8a8530" stroke="#6a6622" stroke-width="0.32" stroke-linejoin="round"/><path d="M478.2 437.3L482.1 435.9L482.1 439.2L478.2 440.7Z" fill="#a6a03c" stroke="#6a6622" stroke-width="0.32" stroke-linejoin="round"/><path d="M473.8 436.3L477.8 434.9L482.1 435.9L478.2 437.3Z" fill="#c6bf4a" stroke="#6a6622" stroke-width="0.32" stroke-linejoin="round"/><path d="M482.1 427.0L486.5 427.9L486.5 440.1L482.1 439.2Z" fill="#454214" stroke="#2c2a0c" stroke-width="0.32" stroke-linejoin="round"/><path d="M486.5 427.9L489.8 426.5L489.8 438.7L486.5 440.1Z" fill="#5b581c" stroke="#2c2a0c" stroke-width="0.32" stroke-linejoin="round"/><path d="M482.1 427.0L485.6 425.7L489.8 426.5L486.5 427.9Z" fill="#7c7729" stroke="#2c2a0c" stroke-width="0.32" stroke-linejoin="round"/><path d="M400.4 432.6L405.2 435.7L405.2 444.7L400.4 441.6Z" fill="#121208" stroke="#0a0a05" stroke-width="0.32" stroke-linejoin="round"/><path d="M405.2 435.7L414.6 433.7L414.6 442.7L405.2 444.7Z" fill="#1d1c0e" stroke="#0a0a05" stroke-width="0.32" stroke-linejoin="round"/><path d="M400.4 432.6L409.3 431.0L414.6 433.7L405.2 435.7Z" fill="#2e2d16" stroke="#0a0a05" stroke-width="0.32" stroke-linejoin="round"/><path d="M414.6 436.4L418.6 438.5L418.6 444.7L414.6 442.7Z" fill="#121208" stroke="#0a0a05" stroke-width="0.32" stroke-linejoin="round"/><path d="M418.6 438.5L427.1 436.5L427.1 442.7L418.6 444.7Z" fill="#1d1c0e" stroke="#0a0a05" stroke-width="0.32" stroke-linejoin="round"/><path d="M414.6 436.4L422.8 434.7L427.1 436.5L418.6 438.5Z" fill="#2e2d16" stroke="#0a0a05" stroke-width="0.32" stroke-linejoin="round"/><path d="M427.1 435.5L431.1 437.3L431.1 444.4L427.1 442.7Z" fill="#121208" stroke="#0a0a05" stroke-width="0.32" stroke-linejoin="round"/><path d="M431.1 437.3L438.7 435.3L438.7 442.5L431.1 444.4Z" fill="#1d1c0e" stroke="#0a0a05" stroke-width="0.32" stroke-linejoin="round"/><path d="M427.1 435.5L434.5 433.8L438.7 435.3L431.1 437.3Z" fill="#2e2d16" stroke="#0a0a05" stroke-width="0.32" stroke-linejoin="round"/><path d="M438.7 435.8L442.9 437.3L442.9 444.0L438.7 442.5Z" fill="#121208" stroke="#0a0a05" stroke-width="0.32" stroke-linejoin="round"/><path d="M442.9 437.3L449.6 435.4L449.6 442.1L442.9 444.0Z" fill="#1d1c0e" stroke="#0a0a05" stroke-width="0.32" stroke-linejoin="round"/><path d="M438.7 435.8L445.3 434.1L449.6 435.4L442.9 437.3Z" fill="#2e2d16" stroke="#0a0a05" stroke-width="0.32" stroke-linejoin="round"/><path d="M449.6 437.5L453.9 438.9L453.9 443.5L449.6 442.1Z" fill="#8a8530" stroke="#6a6622" stroke-width="0.32" stroke-linejoin="round"/><path d="M453.9 438.9L459.8 437.1L459.8 441.7L453.9 443.5Z" fill="#a6a03c" stroke="#6a6622" stroke-width="0.32" stroke-linejoin="round"/><path d="M449.6 437.5L455.5 435.9L459.8 437.1L453.9 438.9Z" fill="#c6bf4a" stroke="#6a6622" stroke-width="0.32" stroke-linejoin="round"/><path d="M459.8 438.7L464.2 440.0L464.2 442.9L459.8 441.7Z" fill="#8a8530" stroke="#6a6622" stroke-width="0.32" stroke-linejoin="round"/><path d="M464.2 440.0L469.3 438.2L469.3 441.2L464.2 442.9Z" fill="#a6a03c" stroke="#6a6622" stroke-width="0.32" stroke-linejoin="round"/><path d="M459.8 438.7L464.9 437.1L469.3 438.2L464.2 440.0Z" fill="#c6bf4a" stroke="#6a6622" stroke-width="0.32" stroke-linejoin="round"/><path d="M469.3 438.3L473.7 439.4L473.7 442.3L469.3 441.2Z" fill="#8a8530" stroke="#6a6622" stroke-width="0.32" stroke-linejoin="round"/><path d="M473.7 439.4L478.2 437.7L478.2 440.7L473.7 442.3Z" fill="#a6a03c" stroke="#6a6622" stroke-width="0.32" stroke-linejoin="round"/><path d="M469.3 438.3L473.8 436.7L478.2 437.7L473.7 439.4Z" fill="#c6bf4a" stroke="#6a6622" stroke-width="0.32" stroke-linejoin="round"/><path d="M478.2 436.9L482.7 438.0L482.7 441.7L478.2 440.7Z" fill="#8a8530" stroke="#6a6622" stroke-width="0.32" stroke-linejoin="round"/><path d="M482.7 438.0L486.5 436.4L486.5 440.1L482.7 441.7Z" fill="#a6a03c" stroke="#6a6622" stroke-width="0.32" stroke-linejoin="round"/><path d="M478.2 436.9L482.1 435.4L486.5 436.4L482.7 438.0Z" fill="#c6bf4a" stroke="#6a6622" stroke-width="0.32" stroke-linejoin="round"/><path d="M405.2 435.7L408.8 438.0L408.8 447.0L405.2 444.7Z" fill="#121208" stroke="#0a0a05" stroke-width="0.32" stroke-linejoin="round"/><path d="M408.8 438.0L418.6 435.7L418.6 444.7L408.8 447.0Z" fill="#1d1c0e" stroke="#0a0a05" stroke-width="0.32" stroke-linejoin="round"/><path d="M405.2 435.7L414.6 433.7L418.6 435.7L408.8 438.0Z" fill="#2e2d16" stroke="#0a0a05" stroke-width="0.32" stroke-linejoin="round"/><path d="M418.6 438.6L422.5 440.6L422.5 446.7L418.6 444.7Z" fill="#121208" stroke="#0a0a05" stroke-width="0.32" stroke-linejoin="round"/><path d="M422.5 440.6L431.1 438.3L431.1 444.4L422.5 446.7Z" fill="#1d1c0e" stroke="#0a0a05" stroke-width="0.32" stroke-linejoin="round"/><path d="M418.6 438.6L427.1 436.6L431.1 438.3L422.5 440.6Z" fill="#2e2d16" stroke="#0a0a05" stroke-width="0.32" stroke-linejoin="round"/><path d="M431.1 437.9L435.3 439.7L435.3 446.2L431.1 444.4Z" fill="#121208" stroke="#0a0a05" stroke-width="0.32" stroke-linejoin="round"/><path d="M435.3 439.7L442.9 437.5L442.9 444.0L435.3 446.2Z" fill="#1d1c0e" stroke="#0a0a05" stroke-width="0.32" stroke-linejoin="round"/><path d="M431.1 437.9L438.7 435.9L442.9 437.5L435.3 439.7Z" fill="#2e2d16" stroke="#0a0a05" stroke-width="0.32" stroke-linejoin="round"/><path d="M442.9 439.5L447.2 441.1L447.2 445.6L442.9 444.0Z" fill="#8a8530" stroke="#6a6622" stroke-width="0.32" stroke-linejoin="round"/><path d="M447.2 441.1L453.9 439.0L453.9 443.5L447.2 445.6Z" fill="#a6a03c" stroke="#6a6622" stroke-width="0.32" stroke-linejoin="round"/><path d="M442.9 439.5L449.6 437.6L453.9 439.0L447.2 441.1Z" fill="#cdc64e" stroke="#6a6622" stroke-width="0.32" stroke-linejoin="round"/><path d="M453.9 440.7L458.4 442.1L458.4 444.9L453.9 443.5Z" fill="#8a8530" stroke="#6a6622" stroke-width="0.32" stroke-linejoin="round"/><path d="M458.4 442.1L464.2 440.1L464.2 442.9L458.4 444.9Z" fill="#a6a03c" stroke="#6a6622" stroke-width="0.32" stroke-linejoin="round"/><path d="M453.9 440.7L459.8 438.9L464.2 440.1L458.4 442.1Z" fill="#c6bf4a" stroke="#6a6622" stroke-width="0.32" stroke-linejoin="round"/><path d="M464.2 439.6L468.7 441.0L468.7 444.2L464.2 442.9Z" fill="#8a8530" stroke="#6a6622" stroke-width="0.32" stroke-linejoin="round"/><path d="M468.7 441.0L473.7 439.0L473.7 442.3L468.7 444.2Z" fill="#a6a03c" stroke="#6a6622" stroke-width="0.32" stroke-linejoin="round"/><path d="M464.2 439.6L469.3 437.9L473.7 439.0L468.7 441.0Z" fill="#c6bf4a" stroke="#6a6622" stroke-width="0.32" stroke-linejoin="round"/><path d="M473.7 439.6L478.4 440.8L478.4 443.5L473.7 442.3Z" fill="#8a8530" stroke="#6a6622" stroke-width="0.32" stroke-linejoin="round"/><path d="M478.4 440.8L482.7 439.0L482.7 441.7L478.4 443.5Z" fill="#a6a03c" stroke="#6a6622" stroke-width="0.32" stroke-linejoin="round"/><path d="M473.7 439.6L478.2 437.9L482.7 439.0L478.4 440.8Z" fill="#c6bf4a" stroke="#6a6622" stroke-width="0.32" stroke-linejoin="round"/><path d="M408.8 439.6L412.4 441.9L412.4 449.3L408.8 447.0Z" fill="#121208" stroke="#0a0a05" stroke-width="0.32" stroke-linejoin="round"/><path d="M412.4 441.9L422.5 439.2L422.5 446.7L412.4 449.3Z" fill="#1d1c0e" stroke="#0a0a05" stroke-width="0.32" stroke-linejoin="round"/><path d="M408.8 439.6L418.6 437.3L422.5 439.2L412.4 441.9Z" fill="#2e2d16" stroke="#0a0a05" stroke-width="0.32" stroke-linejoin="round"/><path d="M422.5 440.0L426.4 442.0L426.4 448.7L422.5 446.7Z" fill="#121208" stroke="#0a0a05" stroke-width="0.32" stroke-linejoin="round"/><path d="M426.4 442.0L435.3 439.5L435.3 446.2L426.4 448.7Z" fill="#1d1c0e" stroke="#0a0a05" stroke-width="0.32" stroke-linejoin="round"/><path d="M422.5 440.0L431.1 437.7L435.3 439.5L426.4 442.0Z" fill="#2e2d16" stroke="#0a0a05" stroke-width="0.32" stroke-linejoin="round"/><path d="M435.3 441.5L439.5 443.3L439.5 448.0L435.3 446.2Z" fill="#8a8530" stroke="#6a6622" stroke-width="0.32" stroke-linejoin="round"/><path d="M439.5 443.3L447.2 440.9L447.2 445.6L439.5 448.0Z" fill="#a6a03c" stroke="#6a6622" stroke-width="0.32" stroke-linejoin="round"/><path d="M435.3 441.5L442.9 439.3L447.2 440.9L439.5 443.3Z" fill="#cdc64e" stroke="#6a6622" stroke-width="0.32" stroke-linejoin="round"/><path d="M447.2 442.2L451.7 443.8L451.7 447.2L447.2 445.6Z" fill="#8a8530" stroke="#6a6622" stroke-width="0.32" stroke-linejoin="round"/><path d="M451.7 443.8L458.4 441.5L458.4 444.9L451.7 447.2Z" fill="#a6a03c" stroke="#6a6622" stroke-width="0.32" stroke-linejoin="round"/><path d="M447.2 442.2L453.9 440.1L458.4 441.5L451.7 443.8Z" fill="#cdc64e" stroke="#6a6622" stroke-width="0.32" stroke-linejoin="round"/><path d="M458.4 442.1L463.0 443.6L463.0 446.4L458.4 444.9Z" fill="#8a8530" stroke="#6a6622" stroke-width="0.32" stroke-linejoin="round"/><path d="M463.0 443.6L468.7 441.4L468.7 444.2L463.0 446.4Z" fill="#a6a03c" stroke="#6a6622" stroke-width="0.32" stroke-linejoin="round"/><path d="M458.4 442.1L464.2 440.1L468.7 441.4L463.0 443.6Z" fill="#c6bf4a" stroke="#6a6622" stroke-width="0.32" stroke-linejoin="round"/><path d="M468.7 440.7L473.5 442.0L473.5 445.6L468.7 444.2Z" fill="#8a8530" stroke="#6a6622" stroke-width="0.32" stroke-linejoin="round"/><path d="M473.5 442.0L478.4 440.0L478.4 443.5L473.5 445.6Z" fill="#a6a03c" stroke="#6a6622" stroke-width="0.32" stroke-linejoin="round"/><path d="M468.7 440.7L473.7 438.8L478.4 440.0L473.5 442.0Z" fill="#c6bf4a" stroke="#6a6622" stroke-width="0.32" stroke-linejoin="round"/><path d="M412.4 442.3L416.1 444.6L416.1 451.7L412.4 449.3Z" fill="#121208" stroke="#0a0a05" stroke-width="0.32" stroke-linejoin="round"/><path d="M416.1 444.6L426.4 441.7L426.4 448.7L416.1 451.7Z" fill="#1d1c0e" stroke="#0a0a05" stroke-width="0.32" stroke-linejoin="round"/><path d="M412.4 442.3L422.5 439.6L426.4 441.7L416.1 444.6Z" fill="#2e2d16" stroke="#0a0a05" stroke-width="0.32" stroke-linejoin="round"/><path d="M426.4 444.9L430.5 447.0L430.5 450.8L426.4 448.7Z" fill="#8a8530" stroke="#6a6622" stroke-width="0.32" stroke-linejoin="round"/><path d="M430.5 447.0L439.5 444.2L439.5 448.0L430.5 450.8Z" fill="#a6a03c" stroke="#6a6622" stroke-width="0.32" stroke-linejoin="round"/><path d="M426.4 444.9L435.3 442.4L439.5 444.2L430.5 447.0Z" fill="#cdc64e" stroke="#6a6622" stroke-width="0.32" stroke-linejoin="round"/><path d="M439.5 444.7L443.9 446.6L443.9 449.9L439.5 448.0Z" fill="#8a8530" stroke="#6a6622" stroke-width="0.32" stroke-linejoin="round"/><path d="M443.9 446.6L451.7 443.9L451.7 447.2L443.9 449.9Z" fill="#a6a03c" stroke="#6a6622" stroke-width="0.32" stroke-linejoin="round"/><path d="M439.5 444.7L447.2 442.3L451.7 443.9L443.9 446.6Z" fill="#cdc64e" stroke="#6a6622" stroke-width="0.32" stroke-linejoin="round"/><path d="M451.7 444.3L456.4 446.0L456.4 448.9L451.7 447.2Z" fill="#8a8530" stroke="#6a6622" stroke-width="0.32" stroke-linejoin="round"/><path d="M456.4 446.0L463.0 443.4L463.0 446.4L456.4 448.9Z" fill="#a6a03c" stroke="#6a6622" stroke-width="0.32" stroke-linejoin="round"/><path d="M451.7 444.3L458.4 442.0L463.0 443.4L456.4 446.0Z" fill="#cdc64e" stroke="#6a6622" stroke-width="0.32" stroke-linejoin="round"/><path d="M463.0 443.4L467.8 445.0L467.8 448.0L463.0 446.4Z" fill="#8a8530" stroke="#6a6622" stroke-width="0.32" stroke-linejoin="round"/><path d="M467.8 445.0L473.5 442.6L473.5 445.6L467.8 448.0Z" fill="#a6a03c" stroke="#6a6622" stroke-width="0.32" stroke-linejoin="round"/><path d="M463.0 443.4L468.7 441.3L473.5 442.6L467.8 445.0Z" fill="#c6bf4a" stroke="#6a6622" stroke-width="0.32" stroke-linejoin="round"/><path d="M416.1 447.1L420.0 449.6L420.0 454.1L416.1 451.7Z" fill="#8a8530" stroke="#6a6622" stroke-width="0.32" stroke-linejoin="round"/><path d="M420.0 449.6L430.5 446.3L430.5 450.8L420.0 454.1Z" fill="#a6a03c" stroke="#6a6622" stroke-width="0.32" stroke-linejoin="round"/><path d="M416.1 447.1L426.4 444.2L430.5 446.3L420.0 449.6Z" fill="#cdc64e" stroke="#6a6622" stroke-width="0.32" stroke-linejoin="round"/><path d="M430.5 448.1L434.9 450.3L434.9 453.0L430.5 450.8Z" fill="#8a8530" stroke="#6a6622" stroke-width="0.32" stroke-linejoin="round"/><path d="M434.9 450.3L443.9 447.2L443.9 449.9L434.9 453.0Z" fill="#a6a03c" stroke="#6a6622" stroke-width="0.32" stroke-linejoin="round"/><path d="M430.5 448.1L439.5 445.3L443.9 447.2L434.9 450.3Z" fill="#cdc64e" stroke="#6a6622" stroke-width="0.32" stroke-linejoin="round"/><path d="M443.9 446.5L448.6 448.5L448.6 451.9L443.9 449.9Z" fill="#8a8530" stroke="#6a6622" stroke-width="0.32" stroke-linejoin="round"/><path d="M448.6 448.5L456.4 445.6L456.4 448.9L448.6 451.9Z" fill="#a6a03c" stroke="#6a6622" stroke-width="0.32" stroke-linejoin="round"/><path d="M443.9 446.5L451.7 443.8L456.4 445.6L448.6 448.5Z" fill="#cdc64e" stroke="#6a6622" stroke-width="0.32" stroke-linejoin="round"/><path d="M456.4 446.2L461.3 448.0L461.3 450.7L456.4 448.9Z" fill="#8a8530" stroke="#6a6622" stroke-width="0.32" stroke-linejoin="round"/><path d="M461.3 448.0L467.8 445.3L467.8 448.0L461.3 450.7Z" fill="#a6a03c" stroke="#6a6622" stroke-width="0.32" stroke-linejoin="round"/><path d="M456.4 446.2L463.0 443.7L467.8 445.3L461.3 448.0Z" fill="#cdc64e" stroke="#6a6622" stroke-width="0.32" stroke-linejoin="round"/><path d="M420.0 451.0L424.0 453.6L424.0 456.7L420.0 454.1Z" fill="#8a8530" stroke="#6a6622" stroke-width="0.32" stroke-linejoin="round"/><path d="M424.0 453.6L434.9 449.9L434.9 453.0L424.0 456.7Z" fill="#a6a03c" stroke="#6a6622" stroke-width="0.32" stroke-linejoin="round"/><path d="M420.0 451.0L430.5 447.7L434.9 449.9L424.0 453.6Z" fill="#cdc64e" stroke="#6a6622" stroke-width="0.32" stroke-linejoin="round"/><path d="M434.9 449.6L439.4 451.9L439.4 455.4L434.9 453.0Z" fill="#8a8530" stroke="#6a6622" stroke-width="0.32" stroke-linejoin="round"/><path d="M439.4 451.9L448.6 448.4L448.6 451.9L439.4 455.4Z" fill="#a6a03c" stroke="#6a6622" stroke-width="0.32" stroke-linejoin="round"/><path d="M434.9 449.6L443.9 446.4L448.6 448.4L439.4 451.9Z" fill="#cdc64e" stroke="#6a6622" stroke-width="0.32" stroke-linejoin="round"/><path d="M448.6 448.5L453.6 450.7L453.6 454.0L448.6 451.9Z" fill="#8a8530" stroke="#6a6622" stroke-width="0.32" stroke-linejoin="round"/><path d="M453.6 450.7L461.3 447.4L461.3 450.7L453.6 454.0Z" fill="#a6a03c" stroke="#6a6622" stroke-width="0.32" stroke-linejoin="round"/><path d="M448.6 448.5L456.4 445.6L461.3 447.4L453.6 450.7Z" fill="#cdc64e" stroke="#6a6622" stroke-width="0.32" stroke-linejoin="round"/><path d="M424.0 453.5L428.4 456.3L428.4 459.6L424.0 456.7Z" fill="#8a8530" stroke="#6a6622" stroke-width="0.32" stroke-linejoin="round"/><path d="M428.4 456.3L439.4 452.1L439.4 455.4L428.4 459.6Z" fill="#a6a03c" stroke="#6a6622" stroke-width="0.32" stroke-linejoin="round"/><path d="M424.0 453.5L434.9 449.8L439.4 452.1L428.4 456.3Z" fill="#cdc64e" stroke="#6a6622" stroke-width="0.32" stroke-linejoin="round"/><path d="M439.4 452.3L444.4 454.8L444.4 457.9L439.4 455.4Z" fill="#8a8530" stroke="#6a6622" stroke-width="0.32" stroke-linejoin="round"/><path d="M444.4 454.8L453.6 450.9L453.6 454.0L444.4 457.9Z" fill="#a6a03c" stroke="#6a6622" stroke-width="0.32" stroke-linejoin="round"/><path d="M439.4 452.3L448.6 448.8L453.6 450.9L444.4 454.8Z" fill="#cdc64e" stroke="#6a6622" stroke-width="0.32" stroke-linejoin="round"/><path d="M428.4 456.8L433.2 459.8L433.2 462.6L428.4 459.6Z" fill="#8a8530" stroke="#6a6622" stroke-width="0.32" stroke-linejoin="round"/><path d="M433.2 459.8L444.4 455.1L444.4 457.9L433.2 462.6Z" fill="#a6a03c" stroke="#6a6622" stroke-width="0.32" stroke-linejoin="round"/><path d="M428.4 456.8L439.4 452.6L444.4 455.1L433.2 459.8Z" fill="#cdc64e" stroke="#6a6622" stroke-width="0.32" stroke-linejoin="round"/></g>
<path d="M416 512L401.1 589.8L431.1 609.4L499.2 584L466.5 512Z" fill="url(#conep2)"/>
<path d="M416 512L401.1 589.8M499.2 584L466.5 512" stroke="#d8d4de" stroke-width="0.5" fill="none"/>
<g><path d="M459.9 563.7L466.0 561.0L470.2 563.9L464.0 566.6Z" fill="#a98ad6" stroke="#efe8fb" stroke-width="0.3"/><path d="M461.3 558.3L464.3 560.4L464.3 565.8L461.3 563.8Z" fill="#8560c0" stroke="#6a48a8" stroke-width="0.3" stroke-linejoin="round"/><path d="M464.3 560.4L468.8 558.5L468.8 563.9L464.3 565.8Z" fill="#a588d6" stroke="#6a48a8" stroke-width="0.3" stroke-linejoin="round"/><path d="M461.3 558.3L465.7 556.4L468.8 558.5L464.3 560.4Z" fill="#c4abe8" stroke="#6a48a8" stroke-width="0.3" stroke-linejoin="round"/><path d="M453.9 566.4L459.9 563.7L464.0 566.6L458.0 569.2Z" fill="#a98ad6" stroke="#efe8fb" stroke-width="0.3"/><path d="M455.3 550.5L458.3 552.5L458.3 568.5L455.3 566.4Z" fill="#8560c0" stroke="#6a48a8" stroke-width="0.3" stroke-linejoin="round"/><path d="M458.3 552.5L462.6 550.6L462.6 566.6L458.3 568.5Z" fill="#a588d6" stroke="#6a48a8" stroke-width="0.3" stroke-linejoin="round"/><path d="M455.3 550.5L459.6 548.6L462.6 550.6L458.3 552.5Z" fill="#c4abe8" stroke="#6a48a8" stroke-width="0.3" stroke-linejoin="round"/><path d="M464.0 566.6L470.2 563.9L474.4 566.8L468.2 569.5Z" fill="#a98ad6" stroke="#efe8fb" stroke-width="0.3"/><path d="M465.5 560.6L468.5 562.7L468.5 568.7L465.5 566.6Z" fill="#8560c0" stroke="#6a48a8" stroke-width="0.3" stroke-linejoin="round"/><path d="M468.5 562.7L473.0 560.8L473.0 566.8L468.5 568.7Z" fill="#a588d6" stroke="#6a48a8" stroke-width="0.3" stroke-linejoin="round"/><path d="M465.5 560.6L469.9 558.7L473.0 560.8L468.5 562.7Z" fill="#c4abe8" stroke="#6a48a8" stroke-width="0.3" stroke-linejoin="round"/><path d="M448.0 569.0L453.9 566.4L458.0 569.2L452.1 571.8Z" fill="#a98ad6" stroke="#efe8fb" stroke-width="0.3"/><path d="M449.4 545.2L452.4 547.3L452.4 571.0L449.4 569.0Z" fill="#8560c0" stroke="#6a48a8" stroke-width="0.3" stroke-linejoin="round"/><path d="M452.4 547.3L456.6 545.4L456.6 569.2L452.4 571.0Z" fill="#a588d6" stroke="#6a48a8" stroke-width="0.3" stroke-linejoin="round"/><path d="M449.4 545.2L453.6 543.4L456.6 545.4L452.4 547.3Z" fill="#c4abe8" stroke="#6a48a8" stroke-width="0.3" stroke-linejoin="round"/><path d="M458.0 569.2L464.0 566.6L468.2 569.5L462.1 572.0Z" fill="#a98ad6" stroke="#efe8fb" stroke-width="0.3"/><path d="M459.4 549.0L462.4 551.1L462.4 571.3L459.4 569.3Z" fill="#8560c0" stroke="#6a48a8" stroke-width="0.3" stroke-linejoin="round"/><path d="M462.4 551.1L466.8 549.2L466.8 569.4L462.4 571.3Z" fill="#a588d6" stroke="#6a48a8" stroke-width="0.3" stroke-linejoin="round"/><path d="M459.4 549.0L463.8 547.2L466.8 549.2L462.4 551.1Z" fill="#c4abe8" stroke="#6a48a8" stroke-width="0.3" stroke-linejoin="round"/><path d="M468.2 569.5L474.4 566.8L478.6 569.7L472.3 572.3Z" fill="#a98ad6" stroke="#efe8fb" stroke-width="0.3"/><path d="M469.6 560.5L472.6 562.6L472.6 571.6L469.6 569.5Z" fill="#8560c0" stroke="#6a48a8" stroke-width="0.3" stroke-linejoin="round"/><path d="M472.6 562.6L477.1 560.7L477.1 569.7L472.6 571.6Z" fill="#a588d6" stroke="#6a48a8" stroke-width="0.3" stroke-linejoin="round"/><path d="M469.6 560.5L474.1 558.6L477.1 560.7L472.6 562.6Z" fill="#c4abe8" stroke="#6a48a8" stroke-width="0.3" stroke-linejoin="round"/><path d="M442.3 571.5L448.0 569.0L452.1 571.8L446.4 574.3Z" fill="#a98ad6" stroke="#efe8fb" stroke-width="0.3"/><path d="M443.7 556.4L446.6 558.4L446.6 573.5L443.7 571.5Z" fill="#8560c0" stroke="#6a48a8" stroke-width="0.3" stroke-linejoin="round"/><path d="M446.6 558.4L450.7 556.6L450.7 571.7L446.6 573.5Z" fill="#a588d6" stroke="#6a48a8" stroke-width="0.3" stroke-linejoin="round"/><path d="M443.7 556.4L447.8 554.6L450.7 556.6L446.6 558.4Z" fill="#c4abe8" stroke="#6a48a8" stroke-width="0.3" stroke-linejoin="round"/><path d="M452.1 571.8L458.0 569.2L462.1 572.0L456.2 574.6Z" fill="#a98ad6" stroke="#efe8fb" stroke-width="0.3"/><path d="M453.5 539.4L456.5 541.4L456.5 573.8L453.5 571.8Z" fill="#8560c0" stroke="#6a48a8" stroke-width="0.3" stroke-linejoin="round"/><path d="M456.5 541.4L460.7 539.6L460.7 572.0L456.5 573.8Z" fill="#a588d6" stroke="#6a48a8" stroke-width="0.3" stroke-linejoin="round"/><path d="M453.5 539.4L457.8 537.6L460.7 539.6L456.5 541.4Z" fill="#c4abe8" stroke="#6a48a8" stroke-width="0.3" stroke-linejoin="round"/><path d="M462.1 572.0L468.2 569.5L472.3 572.3L466.2 574.9Z" fill="#a98ad6" stroke="#efe8fb" stroke-width="0.3"/><path d="M463.6 547.2L466.5 549.2L466.5 574.1L463.6 572.1Z" fill="#8560c0" stroke="#6a48a8" stroke-width="0.3" stroke-linejoin="round"/><path d="M466.5 549.2L470.9 547.4L470.9 572.3L466.5 574.1Z" fill="#a588d6" stroke="#6a48a8" stroke-width="0.3" stroke-linejoin="round"/><path d="M463.6 547.2L467.9 545.4L470.9 547.4L466.5 549.2Z" fill="#c4abe8" stroke="#6a48a8" stroke-width="0.3" stroke-linejoin="round"/><path d="M472.3 572.3L478.6 569.7L482.8 572.6L476.5 575.2Z" fill="#a98ad6" stroke="#efe8fb" stroke-width="0.3"/><path d="M473.8 566.5L476.8 568.6L476.8 574.4L473.8 572.4Z" fill="#8560c0" stroke="#6a48a8" stroke-width="0.3" stroke-linejoin="round"/><path d="M476.8 568.6L481.3 566.7L481.3 572.6L476.8 574.4Z" fill="#a588d6" stroke="#6a48a8" stroke-width="0.3" stroke-linejoin="round"/><path d="M473.8 566.5L478.3 564.7L481.3 566.7L476.8 568.6Z" fill="#c4abe8" stroke="#6a48a8" stroke-width="0.3" stroke-linejoin="round"/><path d="M436.7 573.4L440.8 576.1L440.8 576.7L436.7 574.0Z" fill="#3f2070" stroke="#8a68c0" stroke-width="0.3" stroke-linejoin="round"/><path d="M440.8 576.1L446.4 573.7L446.4 574.3L440.8 576.7Z" fill="#4a2682" stroke="#8a68c0" stroke-width="0.3" stroke-linejoin="round"/><path d="M436.7 573.4L442.3 570.9L446.4 573.7L440.8 576.1Z" fill="#633a9f" stroke="#8a68c0" stroke-width="0.3" stroke-linejoin="round"/><path d="M446.4 574.3L452.1 571.8L456.2 574.6L450.4 577.0Z" fill="#a98ad6" stroke="#efe8fb" stroke-width="0.3"/><path d="M447.8 551.9L450.7 553.9L450.7 576.3L447.8 574.3Z" fill="#8560c0" stroke="#6a48a8" stroke-width="0.3" stroke-linejoin="round"/><path d="M450.7 553.9L454.8 552.1L454.8 574.5L450.7 576.3Z" fill="#a588d6" stroke="#6a48a8" stroke-width="0.3" stroke-linejoin="round"/><path d="M447.8 551.9L451.9 550.1L454.8 552.1L450.7 553.9Z" fill="#c4abe8" stroke="#6a48a8" stroke-width="0.3" stroke-linejoin="round"/><path d="M456.2 574.6L462.1 572.0L466.2 574.9L460.3 577.3Z" fill="#a98ad6" stroke="#efe8fb" stroke-width="0.3"/><path d="M457.6 540.0L460.5 542.0L460.5 576.6L457.6 574.6Z" fill="#8560c0" stroke="#6a48a8" stroke-width="0.3" stroke-linejoin="round"/><path d="M460.5 542.0L464.8 540.2L464.8 574.8L460.5 576.6Z" fill="#a588d6" stroke="#6a48a8" stroke-width="0.3" stroke-linejoin="round"/><path d="M457.6 540.0L461.9 538.2L464.8 540.2L460.5 542.0Z" fill="#c4abe8" stroke="#6a48a8" stroke-width="0.3" stroke-linejoin="round"/><path d="M466.2 574.9L472.3 572.3L476.5 575.2L470.3 577.7Z" fill="#a98ad6" stroke="#efe8fb" stroke-width="0.3"/><path d="M467.7 554.7L470.6 556.8L470.6 576.9L467.7 574.9Z" fill="#8560c0" stroke="#6a48a8" stroke-width="0.3" stroke-linejoin="round"/><path d="M470.6 556.8L475.0 555.0L475.0 575.1L470.6 576.9Z" fill="#a588d6" stroke="#6a48a8" stroke-width="0.3" stroke-linejoin="round"/><path d="M467.7 554.7L472.1 552.9L475.0 555.0L470.6 556.8Z" fill="#c4abe8" stroke="#6a48a8" stroke-width="0.3" stroke-linejoin="round"/><path d="M476.5 572.8L480.6 575.7L480.6 578.0L476.5 575.2Z" fill="#7550b0" stroke="#d9cdf0" stroke-width="0.3" stroke-linejoin="round"/><path d="M480.6 575.7L486.9 573.1L486.9 575.5L480.6 578.0Z" fill="#8c68c4" stroke="#d9cdf0" stroke-width="0.3" stroke-linejoin="round"/><path d="M476.5 572.8L482.8 570.3L486.9 573.1L480.6 575.7Z" fill="#b093da" stroke="#d9cdf0" stroke-width="0.3" stroke-linejoin="round"/><path d="M431.3 575.8L435.3 578.5L435.3 579.1L431.3 576.4Z" fill="#3f2070" stroke="#8a68c0" stroke-width="0.3" stroke-linejoin="round"/><path d="M435.3 578.5L440.8 576.1L440.8 576.7L435.3 579.1Z" fill="#4a2682" stroke="#8a68c0" stroke-width="0.3" stroke-linejoin="round"/><path d="M431.3 575.8L436.7 573.4L440.8 576.1L435.3 578.5Z" fill="#4e2a86" stroke="#8a68c0" stroke-width="0.3" stroke-linejoin="round"/><path d="M440.8 576.1L444.8 578.8L444.8 579.4L440.8 576.7Z" fill="#3f2070" stroke="#8a68c0" stroke-width="0.3" stroke-linejoin="round"/><path d="M444.8 578.8L450.4 576.4L450.4 577.0L444.8 579.4Z" fill="#4a2682" stroke="#8a68c0" stroke-width="0.3" stroke-linejoin="round"/><path d="M440.8 576.1L446.4 573.7L450.4 576.4L444.8 578.8Z" fill="#633a9f" stroke="#8a68c0" stroke-width="0.3" stroke-linejoin="round"/><path d="M450.4 577.0L456.2 574.6L460.3 577.3L454.5 579.8Z" fill="#a98ad6" stroke="#efe8fb" stroke-width="0.3"/><path d="M451.8 550.5L454.7 552.5L454.7 579.0L451.8 577.1Z" fill="#8560c0" stroke="#6a48a8" stroke-width="0.3" stroke-linejoin="round"/><path d="M454.7 552.5L458.9 550.8L458.9 577.3L454.7 579.0Z" fill="#a588d6" stroke="#6a48a8" stroke-width="0.3" stroke-linejoin="round"/><path d="M451.8 550.5L456.0 548.8L458.9 550.8L454.7 552.5Z" fill="#c4abe8" stroke="#6a48a8" stroke-width="0.3" stroke-linejoin="round"/><path d="M460.3 577.3L466.2 574.9L470.3 577.7L464.3 580.1Z" fill="#a98ad6" stroke="#efe8fb" stroke-width="0.3"/><path d="M461.7 548.9L464.6 550.8L464.6 579.4L461.7 577.4Z" fill="#8560c0" stroke="#6a48a8" stroke-width="0.3" stroke-linejoin="round"/><path d="M464.6 550.8L468.9 549.1L468.9 577.6L464.6 579.4Z" fill="#a588d6" stroke="#6a48a8" stroke-width="0.3" stroke-linejoin="round"/><path d="M461.7 548.9L466.0 547.1L468.9 549.1L464.6 550.8Z" fill="#c4abe8" stroke="#6a48a8" stroke-width="0.3" stroke-linejoin="round"/><path d="M470.3 574.9L474.4 577.7L474.4 580.4L470.3 577.7Z" fill="#7550b0" stroke="#d9cdf0" stroke-width="0.3" stroke-linejoin="round"/><path d="M474.4 577.7L480.6 575.3L480.6 578.0L474.4 580.4Z" fill="#8c68c4" stroke="#d9cdf0" stroke-width="0.3" stroke-linejoin="round"/><path d="M470.3 574.9L476.5 572.4L480.6 575.3L474.4 577.7Z" fill="#b093da" stroke="#d9cdf0" stroke-width="0.3" stroke-linejoin="round"/><path d="M480.6 576.2L484.7 579.1L484.7 580.8L480.6 578.0Z" fill="#7550b0" stroke="#d9cdf0" stroke-width="0.3" stroke-linejoin="round"/><path d="M484.7 579.1L491.0 576.6L491.0 578.3L484.7 580.8Z" fill="#8c68c4" stroke="#d9cdf0" stroke-width="0.3" stroke-linejoin="round"/><path d="M480.6 576.2L486.9 573.7L491.0 576.6L484.7 579.1Z" fill="#b093da" stroke="#d9cdf0" stroke-width="0.3" stroke-linejoin="round"/><path d="M426.0 578.2L429.9 580.8L429.9 581.4L426.0 578.8Z" fill="#3f2070" stroke="#8a68c0" stroke-width="0.3" stroke-linejoin="round"/><path d="M429.9 580.8L435.3 578.5L435.3 579.1L429.9 581.4Z" fill="#4a2682" stroke="#8a68c0" stroke-width="0.3" stroke-linejoin="round"/><path d="M426.0 578.2L431.3 575.8L435.3 578.5L429.9 580.8Z" fill="#4e2a86" stroke="#8a68c0" stroke-width="0.3" stroke-linejoin="round"/><path d="M435.3 578.5L439.3 581.2L439.3 581.8L435.3 579.1Z" fill="#3f2070" stroke="#8a68c0" stroke-width="0.3" stroke-linejoin="round"/><path d="M439.3 581.2L444.8 578.8L444.8 579.4L439.3 581.8Z" fill="#4a2682" stroke="#8a68c0" stroke-width="0.3" stroke-linejoin="round"/><path d="M435.3 578.5L440.8 576.1L444.8 578.8L439.3 581.2Z" fill="#4e2a86" stroke="#8a68c0" stroke-width="0.3" stroke-linejoin="round"/><path d="M444.8 578.8L448.8 581.5L448.8 582.1L444.8 579.4Z" fill="#3f2070" stroke="#8a68c0" stroke-width="0.3" stroke-linejoin="round"/><path d="M448.8 581.5L454.5 579.2L454.5 579.8L448.8 582.1Z" fill="#4a2682" stroke="#8a68c0" stroke-width="0.3" stroke-linejoin="round"/><path d="M444.8 578.8L450.4 576.4L454.5 579.2L448.8 581.5Z" fill="#633a9f" stroke="#8a68c0" stroke-width="0.3" stroke-linejoin="round"/><path d="M454.5 579.8L460.3 577.3L464.3 580.1L458.5 582.5Z" fill="#a98ad6" stroke="#efe8fb" stroke-width="0.3"/><path d="M455.8 559.4L458.7 561.4L458.7 581.8L455.8 579.8Z" fill="#8560c0" stroke="#6a48a8" stroke-width="0.3" stroke-linejoin="round"/><path d="M458.7 561.4L462.9 559.7L462.9 580.0L458.7 581.8Z" fill="#a588d6" stroke="#6a48a8" stroke-width="0.3" stroke-linejoin="round"/><path d="M455.8 559.4L460.0 557.7L462.9 559.7L458.7 561.4Z" fill="#c4abe8" stroke="#6a48a8" stroke-width="0.3" stroke-linejoin="round"/><path d="M464.3 578.8L468.4 581.5L468.4 582.8L464.3 580.1Z" fill="#7550b0" stroke="#d9cdf0" stroke-width="0.3" stroke-linejoin="round"/><path d="M468.4 581.5L474.4 579.1L474.4 580.4L468.4 582.8Z" fill="#8c68c4" stroke="#d9cdf0" stroke-width="0.3" stroke-linejoin="round"/><path d="M464.3 578.8L470.3 576.3L474.4 579.1L468.4 581.5Z" fill="#b093da" stroke="#d9cdf0" stroke-width="0.3" stroke-linejoin="round"/><path d="M474.4 578.1L478.5 580.9L478.5 583.2L474.4 580.4Z" fill="#7550b0" stroke="#d9cdf0" stroke-width="0.3" stroke-linejoin="round"/><path d="M478.5 580.9L484.7 578.4L484.7 580.8L478.5 583.2Z" fill="#8c68c4" stroke="#d9cdf0" stroke-width="0.3" stroke-linejoin="round"/><path d="M474.4 578.1L480.6 575.6L484.7 578.4L478.5 580.9Z" fill="#b093da" stroke="#d9cdf0" stroke-width="0.3" stroke-linejoin="round"/><path d="M484.7 579.9L488.7 582.7L488.7 583.6L484.7 580.8Z" fill="#7550b0" stroke="#d9cdf0" stroke-width="0.3" stroke-linejoin="round"/><path d="M488.7 582.7L495.1 580.2L495.1 581.2L488.7 583.6Z" fill="#8c68c4" stroke="#d9cdf0" stroke-width="0.3" stroke-linejoin="round"/><path d="M484.7 579.9L491.0 577.4L495.1 580.2L488.7 582.7Z" fill="#b093da" stroke="#d9cdf0" stroke-width="0.3" stroke-linejoin="round"/><path d="M420.8 580.5L424.7 583.1L424.7 583.7L420.8 581.1Z" fill="#3f2070" stroke="#8a68c0" stroke-width="0.3" stroke-linejoin="round"/><path d="M424.7 583.1L429.9 580.8L429.9 581.4L424.7 583.7Z" fill="#4a2682" stroke="#8a68c0" stroke-width="0.3" stroke-linejoin="round"/><path d="M420.8 580.5L426.0 578.2L429.9 580.8L424.7 583.1Z" fill="#4e2a86" stroke="#8a68c0" stroke-width="0.3" stroke-linejoin="round"/><path d="M429.9 580.8L433.9 583.5L433.9 584.1L429.9 581.4Z" fill="#3f2070" stroke="#8a68c0" stroke-width="0.3" stroke-linejoin="round"/><path d="M433.9 583.5L439.3 581.2L439.3 581.8L433.9 584.1Z" fill="#4a2682" stroke="#8a68c0" stroke-width="0.3" stroke-linejoin="round"/><path d="M429.9 580.8L435.3 578.5L439.3 581.2L433.9 583.5Z" fill="#633a9f" stroke="#8a68c0" stroke-width="0.3" stroke-linejoin="round"/><path d="M439.3 581.2L443.2 583.8L443.2 584.4L439.3 581.8Z" fill="#3f2070" stroke="#8a68c0" stroke-width="0.3" stroke-linejoin="round"/><path d="M443.2 583.8L448.8 581.5L448.8 582.1L443.2 584.4Z" fill="#4a2682" stroke="#8a68c0" stroke-width="0.3" stroke-linejoin="round"/><path d="M439.3 581.2L444.8 578.8L448.8 581.5L443.2 583.8Z" fill="#4e2a86" stroke="#8a68c0" stroke-width="0.3" stroke-linejoin="round"/><path d="M448.8 581.5L452.8 584.2L452.8 584.8L448.8 582.1Z" fill="#3f2070" stroke="#8a68c0" stroke-width="0.3" stroke-linejoin="round"/><path d="M452.8 584.2L458.5 581.9L458.5 582.5L452.8 584.8Z" fill="#4a2682" stroke="#8a68c0" stroke-width="0.3" stroke-linejoin="round"/><path d="M448.8 581.5L454.5 579.2L458.5 581.9L452.8 584.2Z" fill="#4e2a86" stroke="#8a68c0" stroke-width="0.3" stroke-linejoin="round"/><path d="M458.5 580.6L462.5 583.3L462.5 585.2L458.5 582.5Z" fill="#7550b0" stroke="#d9cdf0" stroke-width="0.3" stroke-linejoin="round"/><path d="M462.5 583.3L468.4 581.0L468.4 582.8L462.5 585.2Z" fill="#8c68c4" stroke="#d9cdf0" stroke-width="0.3" stroke-linejoin="round"/><path d="M458.5 580.6L464.3 578.2L468.4 581.0L462.5 583.3Z" fill="#b093da" stroke="#d9cdf0" stroke-width="0.3" stroke-linejoin="round"/><path d="M468.4 580.7L472.4 583.4L472.4 585.6L468.4 582.8Z" fill="#7550b0" stroke="#d9cdf0" stroke-width="0.3" stroke-linejoin="round"/><path d="M472.4 583.4L478.5 581.1L478.5 583.2L472.4 585.6Z" fill="#8c68c4" stroke="#d9cdf0" stroke-width="0.3" stroke-linejoin="round"/><path d="M468.4 580.7L474.4 578.3L478.5 581.1L472.4 583.4Z" fill="#b093da" stroke="#d9cdf0" stroke-width="0.3" stroke-linejoin="round"/><path d="M478.5 582.3L482.5 585.1L482.5 586.0L478.5 583.2Z" fill="#7550b0" stroke="#d9cdf0" stroke-width="0.3" stroke-linejoin="round"/><path d="M482.5 585.1L488.7 582.7L488.7 583.6L482.5 586.0Z" fill="#8c68c4" stroke="#d9cdf0" stroke-width="0.3" stroke-linejoin="round"/><path d="M478.5 582.3L484.7 579.9L488.7 582.7L482.5 585.1Z" fill="#b093da" stroke="#d9cdf0" stroke-width="0.3" stroke-linejoin="round"/><path d="M488.7 582.8L492.8 585.6L492.8 586.4L488.7 583.6Z" fill="#7550b0" stroke="#d9cdf0" stroke-width="0.3" stroke-linejoin="round"/><path d="M492.8 585.6L499.2 583.2L499.2 584.0L492.8 586.4Z" fill="#8c68c4" stroke="#d9cdf0" stroke-width="0.3" stroke-linejoin="round"/><path d="M488.7 582.8L495.1 580.3L499.2 583.2L492.8 585.6Z" fill="#b093da" stroke="#d9cdf0" stroke-width="0.3" stroke-linejoin="round"/><path d="M415.7 583.3L420.8 581.1L424.7 583.7L419.6 585.9Z" fill="#3a2560" stroke="#efe8fb" stroke-width="0.3" stroke-linejoin="round"/><path d="M424.7 583.1L428.6 585.7L428.6 586.3L424.7 583.7Z" fill="#3f2070" stroke="#8a68c0" stroke-width="0.3" stroke-linejoin="round"/><path d="M428.6 585.7L433.9 583.5L433.9 584.1L428.6 586.3Z" fill="#4a2682" stroke="#8a68c0" stroke-width="0.3" stroke-linejoin="round"/><path d="M424.7 583.1L429.9 580.8L433.9 583.5L428.6 585.7Z" fill="#633a9f" stroke="#8a68c0" stroke-width="0.3" stroke-linejoin="round"/><path d="M433.9 583.5L437.8 586.1L437.8 586.7L433.9 584.1Z" fill="#3f2070" stroke="#8a68c0" stroke-width="0.3" stroke-linejoin="round"/><path d="M437.8 586.1L443.2 583.8L443.2 584.4L437.8 586.7Z" fill="#4a2682" stroke="#8a68c0" stroke-width="0.3" stroke-linejoin="round"/><path d="M433.9 583.5L439.3 581.2L443.2 583.8L437.8 586.1Z" fill="#633a9f" stroke="#8a68c0" stroke-width="0.3" stroke-linejoin="round"/><path d="M443.2 583.8L447.2 586.5L447.2 587.1L443.2 584.4Z" fill="#3f2070" stroke="#8a68c0" stroke-width="0.3" stroke-linejoin="round"/><path d="M447.2 586.5L452.8 584.2L452.8 584.8L447.2 587.1Z" fill="#4a2682" stroke="#8a68c0" stroke-width="0.3" stroke-linejoin="round"/><path d="M443.2 583.8L448.8 581.5L452.8 584.2L447.2 586.5Z" fill="#633a9f" stroke="#8a68c0" stroke-width="0.3" stroke-linejoin="round"/><path d="M452.8 584.8L458.5 582.5L462.5 585.2L456.7 587.5Z" fill="#24123c" stroke="#efe8fb" stroke-width="0.3" stroke-linejoin="round"/><path d="M462.5 581.4L466.5 584.1L466.5 587.9L462.5 585.2Z" fill="#7550b0" stroke="#d9cdf0" stroke-width="0.3" stroke-linejoin="round"/><path d="M466.5 584.1L472.4 581.8L472.4 585.6L466.5 587.9Z" fill="#8c68c4" stroke="#d9cdf0" stroke-width="0.3" stroke-linejoin="round"/><path d="M462.5 581.4L468.4 579.1L472.4 581.8L466.5 584.1Z" fill="#b093da" stroke="#d9cdf0" stroke-width="0.3" stroke-linejoin="round"/><path d="M472.4 584.4L476.4 587.1L476.4 588.3L472.4 585.6Z" fill="#7550b0" stroke="#d9cdf0" stroke-width="0.3" stroke-linejoin="round"/><path d="M476.4 587.1L482.5 584.8L482.5 586.0L476.4 588.3Z" fill="#8c68c4" stroke="#d9cdf0" stroke-width="0.3" stroke-linejoin="round"/><path d="M472.4 584.4L478.5 582.1L482.5 584.8L476.4 587.1Z" fill="#b093da" stroke="#d9cdf0" stroke-width="0.3" stroke-linejoin="round"/><path d="M482.5 584.5L486.5 587.3L486.5 588.7L482.5 586.0Z" fill="#7550b0" stroke="#d9cdf0" stroke-width="0.3" stroke-linejoin="round"/><path d="M486.5 587.3L492.8 584.9L492.8 586.4L486.5 588.7Z" fill="#8c68c4" stroke="#d9cdf0" stroke-width="0.3" stroke-linejoin="round"/><path d="M482.5 584.5L488.7 582.1L492.8 584.9L486.5 587.3Z" fill="#b093da" stroke="#d9cdf0" stroke-width="0.3" stroke-linejoin="round"/><path d="M410.7 585.5L415.7 583.3L419.6 585.9L414.6 588.1Z" fill="#1d1030" stroke="#efe8fb" stroke-width="0.3" stroke-linejoin="round"/><path d="M419.6 585.9L424.7 583.7L428.6 586.3L423.5 588.5Z" fill="#1d1030" stroke="#efe8fb" stroke-width="0.3" stroke-linejoin="round"/><path d="M428.6 585.7L432.5 588.3L432.5 588.9L428.6 586.3Z" fill="#3f2070" stroke="#8a68c0" stroke-width="0.3" stroke-linejoin="round"/><path d="M432.5 588.3L437.8 586.1L437.8 586.7L432.5 588.9Z" fill="#4a2682" stroke="#8a68c0" stroke-width="0.3" stroke-linejoin="round"/><path d="M428.6 585.7L433.9 583.5L437.8 586.1L432.5 588.3Z" fill="#4e2a86" stroke="#8a68c0" stroke-width="0.3" stroke-linejoin="round"/><path d="M437.8 586.1L441.7 588.7L441.7 589.3L437.8 586.7Z" fill="#3f2070" stroke="#8a68c0" stroke-width="0.3" stroke-linejoin="round"/><path d="M441.7 588.7L447.2 586.5L447.2 587.1L441.7 589.3Z" fill="#4a2682" stroke="#8a68c0" stroke-width="0.3" stroke-linejoin="round"/><path d="M437.8 586.1L443.2 583.8L447.2 586.5L441.7 588.7Z" fill="#4e2a86" stroke="#8a68c0" stroke-width="0.3" stroke-linejoin="round"/><path d="M447.2 587.1L452.8 584.8L456.7 587.5L451.1 589.7Z" fill="#8a66c2" stroke="#efe8fb" stroke-width="0.3" stroke-linejoin="round"/><path d="M456.7 587.5L462.5 585.2L466.5 587.9L460.7 590.1Z" fill="#8a66c2" stroke="#efe8fb" stroke-width="0.3" stroke-linejoin="round"/><path d="M466.5 586.4L470.4 589.1L470.4 590.6L466.5 587.9Z" fill="#7550b0" stroke="#d9cdf0" stroke-width="0.3" stroke-linejoin="round"/><path d="M470.4 589.1L476.4 586.8L476.4 588.3L470.4 590.6Z" fill="#8c68c4" stroke="#d9cdf0" stroke-width="0.3" stroke-linejoin="round"/><path d="M466.5 586.4L472.4 584.1L476.4 586.8L470.4 589.1Z" fill="#b093da" stroke="#d9cdf0" stroke-width="0.3" stroke-linejoin="round"/><path d="M476.4 587.2L480.4 589.9L480.4 591.0L476.4 588.3Z" fill="#7550b0" stroke="#d9cdf0" stroke-width="0.3" stroke-linejoin="round"/><path d="M480.4 589.9L486.5 587.6L486.5 588.7L480.4 591.0Z" fill="#8c68c4" stroke="#d9cdf0" stroke-width="0.3" stroke-linejoin="round"/><path d="M476.4 587.2L482.5 584.9L486.5 587.6L480.4 589.9Z" fill="#b093da" stroke="#d9cdf0" stroke-width="0.3" stroke-linejoin="round"/><path d="M405.9 587.7L410.7 585.5L414.6 588.1L409.7 590.2Z" fill="#1d1030" stroke="#efe8fb" stroke-width="0.3" stroke-linejoin="round"/><path d="M414.6 588.1L419.6 585.9L423.5 588.5L418.4 590.6Z" fill="#3a2560" stroke="#efe8fb" stroke-width="0.3" stroke-linejoin="round"/><path d="M423.5 588.5L428.6 586.3L432.5 588.9L427.3 591.0Z" fill="#1d1030" stroke="#efe8fb" stroke-width="0.3" stroke-linejoin="round"/><path d="M432.5 588.3L436.4 590.9L436.4 591.5L432.5 588.9Z" fill="#3f2070" stroke="#8a68c0" stroke-width="0.3" stroke-linejoin="round"/><path d="M436.4 590.9L441.7 588.7L441.7 589.3L436.4 591.5Z" fill="#4a2682" stroke="#8a68c0" stroke-width="0.3" stroke-linejoin="round"/><path d="M432.5 588.3L437.8 586.1L441.7 588.7L436.4 590.9Z" fill="#633a9f" stroke="#8a68c0" stroke-width="0.3" stroke-linejoin="round"/><path d="M441.7 589.3L447.2 587.1L451.1 589.7L445.6 591.9Z" fill="#24123c" stroke="#efe8fb" stroke-width="0.3" stroke-linejoin="round"/><path d="M451.1 589.7L456.7 587.5L460.7 590.1L455.0 592.3Z" fill="#8a66c2" stroke="#efe8fb" stroke-width="0.3" stroke-linejoin="round"/><path d="M460.7 590.1L466.5 587.9L470.4 590.6L464.6 592.8Z" fill="#24123c" stroke="#efe8fb" stroke-width="0.3" stroke-linejoin="round"/><path d="M470.4 590.0L474.4 592.6L474.4 593.3L470.4 590.6Z" fill="#7550b0" stroke="#d9cdf0" stroke-width="0.3" stroke-linejoin="round"/><path d="M474.4 592.6L480.4 590.4L480.4 591.0L474.4 593.3Z" fill="#8c68c4" stroke="#d9cdf0" stroke-width="0.3" stroke-linejoin="round"/><path d="M470.4 590.0L476.4 587.7L480.4 590.4L474.4 592.6Z" fill="#b093da" stroke="#d9cdf0" stroke-width="0.3" stroke-linejoin="round"/><path d="M401.1 589.8L405.9 587.7L409.7 590.2L404.9 592.3Z" fill="#1d1030" stroke="#efe8fb" stroke-width="0.3" stroke-linejoin="round"/><path d="M409.7 590.2L414.6 588.1L418.4 590.6L413.5 592.7Z" fill="#1d1030" stroke="#efe8fb" stroke-width="0.3" stroke-linejoin="round"/><path d="M418.4 590.6L423.5 588.5L427.3 591.0L422.3 593.1Z" fill="#1d1030" stroke="#efe8fb" stroke-width="0.3" stroke-linejoin="round"/><path d="M427.3 591.0L432.5 588.9L436.4 591.5L431.2 593.6Z" fill="#1d1030" stroke="#efe8fb" stroke-width="0.3" stroke-linejoin="round"/><path d="M436.4 591.5L441.7 589.3L445.6 591.9L440.3 594.0Z" fill="#24123c" stroke="#efe8fb" stroke-width="0.3" stroke-linejoin="round"/><path d="M445.6 591.9L451.1 589.7L455.0 592.3L449.5 594.5Z" fill="#8a66c2" stroke="#efe8fb" stroke-width="0.3" stroke-linejoin="round"/><path d="M455.0 592.3L460.7 590.1L464.6 592.8L458.9 595.0Z" fill="#24123c" stroke="#efe8fb" stroke-width="0.3" stroke-linejoin="round"/><path d="M464.6 592.8L470.4 590.6L474.4 593.3L468.5 595.4Z" fill="#24123c" stroke="#efe8fb" stroke-width="0.3" stroke-linejoin="round"/><path d="M404.9 592.3L409.7 590.2L413.5 592.7L408.7 594.8Z" fill="#1d1030" stroke="#efe8fb" stroke-width="0.3" stroke-linejoin="round"/><path d="M413.5 592.7L418.4 590.6L422.3 593.1L417.3 595.2Z" fill="#3a2560" stroke="#efe8fb" stroke-width="0.3" stroke-linejoin="round"/><path d="M422.3 593.1L427.3 591.0L431.2 593.6L426.1 595.7Z" fill="#1d1030" stroke="#efe8fb" stroke-width="0.3" stroke-linejoin="round"/><path d="M431.2 593.6L436.4 591.5L440.3 594.0L435.0 596.1Z" fill="#6a44a6" stroke="#efe8fb" stroke-width="0.3" stroke-linejoin="round"/><path d="M440.3 594.0L445.6 591.9L449.5 594.5L444.1 596.6Z" fill="#8a66c2" stroke="#efe8fb" stroke-width="0.3" stroke-linejoin="round"/><path d="M449.5 594.5L455.0 592.3L458.9 595.0L453.4 597.1Z" fill="#24123c" stroke="#efe8fb" stroke-width="0.3" stroke-linejoin="round"/><path d="M458.9 595.0L464.6 592.8L468.5 595.4L462.8 597.6Z" fill="#24123c" stroke="#efe8fb" stroke-width="0.3" stroke-linejoin="round"/><path d="M408.7 594.8L413.5 592.7L417.3 595.2L412.5 597.2Z" fill="#1d1030" stroke="#efe8fb" stroke-width="0.3" stroke-linejoin="round"/><path d="M417.3 595.2L422.3 593.1L426.1 595.7L421.1 597.7Z" fill="#1d1030" stroke="#efe8fb" stroke-width="0.3" stroke-linejoin="round"/><path d="M426.1 595.7L431.2 593.6L435.0 596.1L429.9 598.2Z" fill="#6a44a6" stroke="#efe8fb" stroke-width="0.3" stroke-linejoin="round"/><path d="M435.0 596.1L440.3 594.0L444.1 596.6L438.8 598.7Z" fill="#9676ca" stroke="#efe8fb" stroke-width="0.3" stroke-linejoin="round"/><path d="M444.1 596.6L449.5 594.5L453.4 597.1L448.0 599.1Z" fill="#55308e" stroke="#efe8fb" stroke-width="0.3" stroke-linejoin="round"/><path d="M453.4 597.1L458.9 595.0L462.8 597.6L457.2 599.6Z" fill="#24123c" stroke="#efe8fb" stroke-width="0.3" stroke-linejoin="round"/><path d="M412.5 597.2L417.3 595.2L421.1 597.7L416.2 599.7Z" fill="#1d1030" stroke="#efe8fb" stroke-width="0.3" stroke-linejoin="round"/><path d="M421.1 597.7L426.1 595.7L429.9 598.2L424.9 600.2Z" fill="#6a44a6" stroke="#efe8fb" stroke-width="0.3" stroke-linejoin="round"/><path d="M429.9 598.2L435.0 596.1L438.8 598.7L433.7 600.7Z" fill="#24123c" stroke="#efe8fb" stroke-width="0.3" stroke-linejoin="round"/><path d="M438.8 598.7L444.1 596.6L448.0 599.1L442.7 601.2Z" fill="#9676ca" stroke="#efe8fb" stroke-width="0.3" stroke-linejoin="round"/><path d="M448.0 599.1L453.4 597.1L457.2 599.6L451.8 601.7Z" fill="#24123c" stroke="#efe8fb" stroke-width="0.3" stroke-linejoin="round"/><path d="M416.2 599.7L421.1 597.7L424.9 600.2L420.0 602.1Z" fill="#9676ca" stroke="#efe8fb" stroke-width="0.3" stroke-linejoin="round"/><path d="M424.9 600.2L429.9 598.2L433.7 600.7L428.6 602.6Z" fill="#6a44a6" stroke="#efe8fb" stroke-width="0.3" stroke-linejoin="round"/><path d="M433.7 600.7L438.8 598.7L442.7 601.2L437.5 603.2Z" fill="#6a44a6" stroke="#efe8fb" stroke-width="0.3" stroke-linejoin="round"/><path d="M442.7 601.2L448.0 599.1L451.8 601.7L446.4 603.7Z" fill="#9676ca" stroke="#efe8fb" stroke-width="0.3" stroke-linejoin="round"/><path d="M420.0 602.1L424.9 600.2L428.6 602.6L423.7 604.6Z" fill="#6a44a6" stroke="#efe8fb" stroke-width="0.3" stroke-linejoin="round"/><path d="M428.6 602.6L433.7 600.7L437.5 603.2L432.4 605.1Z" fill="#6a44a6" stroke="#efe8fb" stroke-width="0.3" stroke-linejoin="round"/><path d="M437.5 603.2L442.7 601.2L446.4 603.7L441.2 605.6Z" fill="#24123c" stroke="#efe8fb" stroke-width="0.3" stroke-linejoin="round"/><path d="M423.7 604.6L428.6 602.6L432.4 605.1L427.4 607.0Z" fill="#6a44a6" stroke="#efe8fb" stroke-width="0.3" stroke-linejoin="round"/><path d="M432.4 605.1L437.5 603.2L441.2 605.6L436.1 607.5Z" fill="#9676ca" stroke="#efe8fb" stroke-width="0.3" stroke-linejoin="round"/><path d="M427.4 607.0L432.4 605.1L436.1 607.5L431.1 609.4Z" fill="#9676ca" stroke="#efe8fb" stroke-width="0.3" stroke-linejoin="round"/></g>
<clipPath id="vc2"><circle cx="441.2" cy="500.2" r="26"/></clipPath><circle cx="441.2" cy="500.2" r="26" fill="#ab80ca"/><circle cx="442" cy="479.6" r="6.4" fill="#f6d264" opacity="0.9"/><circle cx="442" cy="479.6" r="6.4" fill="#f1ad5e" clip-path="url(#vc2)"/><text x="441.20" y="502.50" font-size="7.5" text-anchor="middle" fill="#fff">426,465</text>
<path d="M448 476L469 474" stroke="#ddd" stroke-width="0.4"/>
<text x="417.50" y="417.70" font-size="7.5" fill="#231f20">C&gt;A</text>
<text x="488.30" y="476.40" font-size="7.5" text-anchor="end" fill="#231f20">4,174</text>
<text x="488.30" y="485.00" font-size="7.5" text-anchor="end" fill="#231f20">24,761</text>
<text x="465.00" y="546.40" font-size="7.5" fill="#231f20">C&gt;T</text>
<text x="5.00" y="636.60" font-size="10" font-weight="bold" fill="#111">H</text>
<text x="133.60" y="638.10" font-size="7.5" text-anchor="middle" fill="#231f20">Post-OT C&gt;T MAF</text>
<text x="58.00" y="665.70" font-size="7.5" text-anchor="end" fill="#231f20">Whole genome</text>
<text x="58.00" y="675.10" font-size="7.5" text-anchor="end" fill="#231f20">C:G &gt; T:A</text>
<text x="58.00" y="684.10" font-size="7.5" text-anchor="end" fill="#231f20">Counts</text>
<text x="207.70" y="665.20" font-size="7.5" fill="#231f20">ecDNA</text>
<text x="207.70" y="674.40" font-size="7.5" fill="#231f20">C:G &gt; T:A</text>
<text x="207.70" y="683.80" font-size="7.5" fill="#231f20">counts</text>
<path d="M79.5 660V782.4H187.8V660" fill="none" stroke="#9a9a9a" stroke-width="0.6"/><path d="M86.2 782.4V784.6M110.8 782.4V784.6M135.4 782.4V784.6M159.9 782.4V784.6M184.5 782.4V784.6M79.5 693.4H77.3M79.5 735.3H77.3M79.5 777.3H77.3M187.8 661H190.0M187.8 699.6H190.0M187.8 738.4H190.0M187.8 777.3H190.0" stroke="#9a9a9a" stroke-width="0.6"/>
<text x="76.20" y="696.10" font-size="7.5" text-anchor="end" fill="#231f20">20,000</text>
<text x="76.20" y="738.00" font-size="7.5" text-anchor="end" fill="#231f20">10,000</text>
<text x="76.20" y="780.00" font-size="7.5" text-anchor="end" fill="#231f20">0</text>
<text x="192.00" y="663.70" font-size="7.5" fill="#231f20">150</text>
<text x="192.00" y="702.30" font-size="7.5" fill="#231f20">100</text>
<text x="192.00" y="741.10" font-size="7.5" fill="#231f20">50</text>
<text x="192.00" y="780.00" font-size="7.5" fill="#231f20">0</text>
<text x="86.20" y="793.70" font-size="7.5" text-anchor="middle" fill="#231f20">0.00</text>
<text x="110.80" y="793.70" font-size="7.5" text-anchor="middle" fill="#231f20">0.25</text>
<text x="135.40" y="793.70" font-size="7.5" text-anchor="middle" fill="#231f20">0.50</text>
<text x="159.90" y="793.70" font-size="7.5" text-anchor="middle" fill="#231f20">0.75</text>
<text x="184.50" y="793.70" font-size="7.5" text-anchor="middle" fill="#231f20">1.00</text>
<text x="134.60" y="805.00" font-size="7.5" text-anchor="middle" fill="#231f20">MAF</text>
<rect x="91.13" y="770.80" width="3.39" height="6.50" fill="#dcdcdc" stroke="#6e6e6e" stroke-width="0.4" fill-opacity="1"/><rect x="94.52" y="756.40" width="3.39" height="20.90" fill="#dcdcdc" stroke="#6e6e6e" stroke-width="0.4" fill-opacity="1"/><rect x="97.91" y="738.70" width="3.39" height="38.60" fill="#dcdcdc" stroke="#6e6e6e" stroke-width="0.4" fill-opacity="1"/><rect x="101.30" y="727.00" width="3.39" height="50.30" fill="#dcdcdc" stroke="#6e6e6e" stroke-width="0.4" fill-opacity="1"/><rect x="104.69" y="718.00" width="3.39" height="59.30" fill="#dcdcdc" stroke="#6e6e6e" stroke-width="0.4" fill-opacity="1"/><rect x="108.08" y="704.00" width="3.39" height="73.30" fill="#dcdcdc" stroke="#6e6e6e" stroke-width="0.4" fill-opacity="1"/><rect x="111.47" y="684.40" width="3.39" height="92.90" fill="#dcdcdc" stroke="#6e6e6e" stroke-width="0.4" fill-opacity="1"/><rect x="114.86" y="669.50" width="3.39" height="107.80" fill="#dcdcdc" stroke="#6e6e6e" stroke-width="0.4" fill-opacity="1"/><rect x="118.25" y="664.30" width="3.39" height="113.00" fill="#dcdcdc" stroke="#6e6e6e" stroke-width="0.4" fill-opacity="1"/><rect x="121.64" y="673.00" width="3.39" height="104.30" fill="#dcdcdc" stroke="#6e6e6e" stroke-width="0.4" fill-opacity="1"/><rect x="125.03" y="684.40" width="3.39" height="92.90" fill="#dcdcdc" stroke="#6e6e6e" stroke-width="0.4" fill-opacity="1"/><rect x="128.42" y="697.20" width="3.39" height="80.10" fill="#dcdcdc" stroke="#6e6e6e" stroke-width="0.4" fill-opacity="1"/><rect x="131.81" y="705.20" width="3.39" height="72.10" fill="#dcdcdc" stroke="#6e6e6e" stroke-width="0.4" fill-opacity="1"/><rect x="135.20" y="718.20" width="3.39" height="59.10" fill="#dcdcdc" stroke="#6e6e6e" stroke-width="0.4" fill-opacity="1"/><rect x="138.59" y="725.80" width="3.39" height="51.50" fill="#dcdcdc" stroke="#6e6e6e" stroke-width="0.4" fill-opacity="1"/><rect x="141.98" y="739.00" width="3.39" height="38.30" fill="#dcdcdc" stroke="#6e6e6e" stroke-width="0.4" fill-opacity="1"/><rect x="145.37" y="750.00" width="3.39" height="27.30" fill="#dcdcdc" stroke="#6e6e6e" stroke-width="0.4" fill-opacity="1"/><rect x="148.76" y="758.80" width="3.39" height="18.50" fill="#dcdcdc" stroke="#6e6e6e" stroke-width="0.4" fill-opacity="1"/><rect x="152.15" y="767.10" width="3.39" height="10.20" fill="#dcdcdc" stroke="#6e6e6e" stroke-width="0.4" fill-opacity="1"/><rect x="155.54" y="771.60" width="3.39" height="5.70" fill="#dcdcdc" stroke="#6e6e6e" stroke-width="0.4" fill-opacity="1"/><rect x="158.93" y="774.60" width="3.39" height="2.70" fill="#dcdcdc" stroke="#6e6e6e" stroke-width="0.4" fill-opacity="1"/><rect x="162.32" y="775.60" width="3.39" height="1.70" fill="#dcdcdc" stroke="#6e6e6e" stroke-width="0.4" fill-opacity="1"/><rect x="165.71" y="776.20" width="3.39" height="1.10" fill="#dcdcdc" stroke="#6e6e6e" stroke-width="0.4" fill-opacity="1"/>
<rect x="84.35" y="717.50" width="3.39" height="59.80" fill="#8a50a8" stroke="#4b2a63" stroke-width="0.4" fill-opacity="0.92"/><rect x="87.74" y="664.60" width="3.39" height="112.70" fill="#8a50a8" stroke="#4b2a63" stroke-width="0.4" fill-opacity="0.92"/><rect x="91.13" y="776.00" width="3.39" height="1.30" fill="#8a50a8" stroke="#4b2a63" stroke-width="0.4" fill-opacity="0.92"/><rect x="94.52" y="776.20" width="3.39" height="1.10" fill="#8a50a8" stroke="#4b2a63" stroke-width="0.4" fill-opacity="0.92"/><rect x="97.91" y="775.20" width="3.39" height="2.10" fill="#8a50a8" stroke="#4b2a63" stroke-width="0.4" fill-opacity="0.92"/><rect x="101.30" y="771.50" width="3.39" height="5.80" fill="#8a50a8" stroke="#4b2a63" stroke-width="0.4" fill-opacity="0.92"/><rect x="104.69" y="776.30" width="3.39" height="1.00" fill="#8a50a8" stroke="#4b2a63" stroke-width="0.4" fill-opacity="0.92"/><rect x="155.54" y="775.60" width="3.39" height="1.70" fill="#8a50a8" stroke="#4b2a63" stroke-width="0.4" fill-opacity="0.92"/><rect x="158.93" y="774.80" width="3.39" height="2.50" fill="#8a50a8" stroke="#4b2a63" stroke-width="0.4" fill-opacity="0.92"/><rect x="162.32" y="775.20" width="3.39" height="2.10" fill="#8a50a8" stroke="#4b2a63" stroke-width="0.4" fill-opacity="0.92"/><rect x="165.71" y="775.40" width="3.39" height="1.90" fill="#8a50a8" stroke="#4b2a63" stroke-width="0.4" fill-opacity="0.92"/><rect x="169.10" y="771.20" width="3.39" height="6.10" fill="#8a50a8" stroke="#4b2a63" stroke-width="0.4" fill-opacity="0.92"/><rect x="172.49" y="764.10" width="3.39" height="13.20" fill="#8a50a8" stroke="#4b2a63" stroke-width="0.4" fill-opacity="0.92"/><rect x="175.88" y="758.00" width="3.39" height="19.30" fill="#8a50a8" stroke="#4b2a63" stroke-width="0.4" fill-opacity="0.92"/><rect x="179.27" y="765.20" width="3.39" height="12.10" fill="#8a50a8" stroke="#4b2a63" stroke-width="0.4" fill-opacity="0.92"/>
<text x="176.20" y="724.40" font-size="7.5" text-anchor="middle" fill="#1fa58a">OT</text>
<path d="M172.89999999999998 726.8H179.5L176.2 733.8Z" fill="#1fa58a"/>
<text x="175.70" y="742.20" font-size="7.5" text-anchor="middle" fill="#6b45a6">ecDNA</text>
<path d="M172.89999999999998 744.6H179.5L176.2 751.4Z" fill="#5b3a96"/>
<rect x="17" y="747.5" width="7.6" height="7.6" fill="#dcdcdc" stroke="#6e6e6e" stroke-width="0.5"/>
<rect x="17" y="770.2" width="7.6" height="7.6" fill="#8a50a8" stroke="#4b2a63" stroke-width="0.5"/>
<text x="28.70" y="753.90" font-size="7.5" fill="#231f20">Whole</text>
<text x="28.70" y="762.00" font-size="7.5" fill="#231f20">genome</text>
<text x="28.70" y="774.40" font-size="7.5" fill="#231f20">ecDNA</text>
<text x="28.70" y="782.40" font-size="7.5" fill="#231f20">Chr8</text>
<text x="246.50" y="636.60" font-size="10" font-weight="bold" fill="#111">J</text>
<text x="403.30" y="642.70" font-size="7.5" text-anchor="middle" fill="#231f20">Post-OT C&gt;T MAF</text>
<text x="310.50" y="665.70" font-size="7.5" text-anchor="end" fill="#231f20">Whole genome</text>
<text x="310.50" y="675.10" font-size="7.5" text-anchor="end" fill="#231f20">C:G &gt; T:A</text>
<text x="310.50" y="684.30" font-size="7.5" text-anchor="end" fill="#231f20">Counts</text>
<text x="475.40" y="665.20" font-size="7.5" fill="#231f20">ecDNA</text>
<text x="475.40" y="675.00" font-size="7.5" fill="#231f20">C:G &gt; T:A</text>
<text x="475.40" y="684.20" font-size="7.5" fill="#231f20">counts</text>
<path d="M342.5 658V782.6H452.6V658" fill="none" stroke="#9a9a9a" stroke-width="0.6"/><path d="M348.6 782.6V784.8000000000001M373.2 782.6V784.8000000000001M397.8 782.6V784.8000000000001M422.4 782.6V784.8000000000001M447 782.6V784.8000000000001M342.5 658.8H340.3M342.5 718.1H340.3M342.5 777.4H340.3M452.6 661.8H454.8M452.6 690.7H454.8M452.6 719.6H454.8M452.6 748.5H454.8M452.6 777.4H454.8" stroke="#9a9a9a" stroke-width="0.6"/>
<text x="338.80" y="661.50" font-size="7.5" text-anchor="end" fill="#231f20">40,000</text>
<text x="338.80" y="720.80" font-size="7.5" text-anchor="end" fill="#231f20">20,000</text>
<text x="338.80" y="780.10" font-size="7.5" text-anchor="end" fill="#231f20">0</text>
<text x="456.30" y="664.50" font-size="7.5" fill="#231f20">200</text>
<text x="456.30" y="722.30" font-size="7.5" fill="#231f20">100</text>
<text x="456.30" y="780.10" font-size="7.5" fill="#231f20">0</text>
<text x="348.60" y="793.50" font-size="7.5" text-anchor="middle" fill="#231f20">0.00</text>
<text x="373.20" y="793.50" font-size="7.5" text-anchor="middle" fill="#231f20">0.25</text>
<text x="397.80" y="793.50" font-size="7.5" text-anchor="middle" fill="#231f20">0.50</text>
<text x="422.40" y="793.50" font-size="7.5" text-anchor="middle" fill="#231f20">0.75</text>
<text x="447.00" y="793.50" font-size="7.5" text-anchor="middle" fill="#231f20">1.00</text>
<text x="395.60" y="805.30" font-size="7.5" text-anchor="middle" fill="#231f20">MAF</text>
<rect x="346.90" y="776.50" width="3.39" height="0.90" fill="#dcdcdc" stroke="#6e6e6e" stroke-width="0.4" fill-opacity="1"/><rect x="350.29" y="740.00" width="3.39" height="37.40" fill="#dcdcdc" stroke="#6e6e6e" stroke-width="0.4" fill-opacity="1"/><rect x="353.68" y="700.00" width="3.39" height="77.40" fill="#dcdcdc" stroke="#6e6e6e" stroke-width="0.4" fill-opacity="1"/><rect x="357.07" y="676.00" width="3.39" height="101.40" fill="#dcdcdc" stroke="#6e6e6e" stroke-width="0.4" fill-opacity="1"/><rect x="360.46" y="673.40" width="3.39" height="104.00" fill="#dcdcdc" stroke="#6e6e6e" stroke-width="0.4" fill-opacity="1"/><rect x="363.85" y="666.50" width="3.39" height="110.90" fill="#dcdcdc" stroke="#6e6e6e" stroke-width="0.4" fill-opacity="1"/><rect x="367.24" y="663.50" width="3.39" height="113.90" fill="#dcdcdc" stroke="#6e6e6e" stroke-width="0.4" fill-opacity="1"/><rect x="370.63" y="664.70" width="3.39" height="112.70" fill="#dcdcdc" stroke="#6e6e6e" stroke-width="0.4" fill-opacity="1"/><rect x="374.02" y="668.20" width="3.39" height="109.20" fill="#dcdcdc" stroke="#6e6e6e" stroke-width="0.4" fill-opacity="1"/><rect x="377.41" y="675.10" width="3.39" height="102.30" fill="#dcdcdc" stroke="#6e6e6e" stroke-width="0.4" fill-opacity="1"/><rect x="380.80" y="692.50" width="3.39" height="84.90" fill="#dcdcdc" stroke="#6e6e6e" stroke-width="0.4" fill-opacity="1"/><rect x="384.19" y="705.40" width="3.39" height="72.00" fill="#dcdcdc" stroke="#6e6e6e" stroke-width="0.4" fill-opacity="1"/><rect x="387.58" y="719.30" width="3.39" height="58.10" fill="#dcdcdc" stroke="#6e6e6e" stroke-width="0.4" fill-opacity="1"/><rect x="390.97" y="728.80" width="3.39" height="48.60" fill="#dcdcdc" stroke="#6e6e6e" stroke-width="0.4" fill-opacity="1"/><rect x="394.36" y="745.00" width="3.39" height="32.40" fill="#dcdcdc" stroke="#6e6e6e" stroke-width="0.4" fill-opacity="1"/><rect x="397.75" y="741.80" width="3.39" height="35.60" fill="#dcdcdc" stroke="#6e6e6e" stroke-width="0.4" fill-opacity="1"/><rect x="401.14" y="755.40" width="3.39" height="22.00" fill="#dcdcdc" stroke="#6e6e6e" stroke-width="0.4" fill-opacity="1"/><rect x="404.53" y="760.40" width="3.39" height="17.00" fill="#dcdcdc" stroke="#6e6e6e" stroke-width="0.4" fill-opacity="1"/><rect x="407.92" y="765.20" width="3.39" height="12.20" fill="#dcdcdc" stroke="#6e6e6e" stroke-width="0.4" fill-opacity="1"/><rect x="411.31" y="769.60" width="3.39" height="7.80" fill="#dcdcdc" stroke="#6e6e6e" stroke-width="0.4" fill-opacity="1"/><rect x="414.70" y="770.80" width="3.39" height="6.60" fill="#dcdcdc" stroke="#6e6e6e" stroke-width="0.4" fill-opacity="1"/><rect x="418.09" y="773.50" width="3.39" height="3.90" fill="#dcdcdc" stroke="#6e6e6e" stroke-width="0.4" fill-opacity="1"/><rect x="421.48" y="774.80" width="3.39" height="2.60" fill="#dcdcdc" stroke="#6e6e6e" stroke-width="0.4" fill-opacity="1"/><rect x="424.87" y="776.00" width="3.39" height="1.40" fill="#dcdcdc" stroke="#6e6e6e" stroke-width="0.4" fill-opacity="1"/><rect x="428.26" y="775.50" width="3.39" height="1.90" fill="#dcdcdc" stroke="#6e6e6e" stroke-width="0.4" fill-opacity="1"/><rect x="431.65" y="776.50" width="3.39" height="0.90" fill="#dcdcdc" stroke="#6e6e6e" stroke-width="0.4" fill-opacity="1"/><rect x="435.04" y="775.10" width="3.39" height="2.30" fill="#dcdcdc" stroke="#6e6e6e" stroke-width="0.4" fill-opacity="1"/><rect x="438.43" y="774.40" width="3.39" height="3.00" fill="#dcdcdc" stroke="#6e6e6e" stroke-width="0.4" fill-opacity="1"/><rect x="441.82" y="775.00" width="3.39" height="2.40" fill="#dcdcdc" stroke="#6e6e6e" stroke-width="0.4" fill-opacity="1"/><rect x="445.21" y="776.60" width="3.39" height="0.80" fill="#dcdcdc" stroke="#6e6e6e" stroke-width="0.4" fill-opacity="1"/>
<rect x="346.90" y="772.20" width="3.39" height="5.20" fill="#8a50a8" stroke="#4b2a63" stroke-width="0.4" fill-opacity="0.92"/><rect x="350.29" y="712.00" width="3.39" height="65.40" fill="#8a50a8" stroke="#4b2a63" stroke-width="0.4" fill-opacity="0.92"/><rect x="353.68" y="663.50" width="3.39" height="113.90" fill="#8a50a8" stroke="#4b2a63" stroke-width="0.4" fill-opacity="0.92"/><rect x="357.07" y="676.00" width="3.39" height="101.40" fill="#8a50a8" stroke="#4b2a63" stroke-width="0.4" fill-opacity="0.92"/><rect x="360.46" y="718.00" width="3.39" height="59.40" fill="#8a50a8" stroke="#4b2a63" stroke-width="0.4" fill-opacity="0.92"/><rect x="363.85" y="736.10" width="3.39" height="41.30" fill="#8a50a8" stroke="#4b2a63" stroke-width="0.4" fill-opacity="0.92"/><rect x="367.24" y="747.40" width="3.39" height="30.00" fill="#8a50a8" stroke="#4b2a63" stroke-width="0.4" fill-opacity="0.92"/><rect x="370.63" y="758.30" width="3.39" height="19.10" fill="#8a50a8" stroke="#4b2a63" stroke-width="0.4" fill-opacity="0.92"/><rect x="374.02" y="768.40" width="3.39" height="9.00" fill="#8a50a8" stroke="#4b2a63" stroke-width="0.4" fill-opacity="0.92"/><rect x="377.41" y="773.00" width="3.39" height="4.40" fill="#8a50a8" stroke="#4b2a63" stroke-width="0.4" fill-opacity="0.92"/><rect x="380.80" y="774.20" width="3.39" height="3.20" fill="#8a50a8" stroke="#4b2a63" stroke-width="0.4" fill-opacity="0.92"/><rect x="384.19" y="776.30" width="3.39" height="1.10" fill="#8a50a8" stroke="#4b2a63" stroke-width="0.4" fill-opacity="0.92"/><rect x="387.58" y="776.80" width="3.39" height="0.60" fill="#8a50a8" stroke="#4b2a63" stroke-width="0.4" fill-opacity="0.92"/>
<text x="350.40" y="633.20" font-size="7.5" text-anchor="middle" fill="#6b45a6">ecDNA</text>
<path d="M347.40000000000003 635.2H353.8L350.6 642.2Z" fill="#5b3a96"/>
<text x="350.60" y="651.40" font-size="7.5" text-anchor="middle" fill="#1fa58a">OT</text>
<path d="M347.4 653.2H354.0L350.7 660.2Z" fill="#1fa58a"/>
<rect x="279.2" y="747.5" width="7.6" height="7.6" fill="#dcdcdc" stroke="#6e6e6e" stroke-width="0.5"/>
<rect x="279.2" y="770.2" width="7.6" height="7.6" fill="#8a50a8" stroke="#4b2a63" stroke-width="0.5"/>
<text x="290.00" y="753.90" font-size="7.5" fill="#231f20">Whole</text>
<text x="290.00" y="762.20" font-size="7.5" fill="#231f20">genome</text>
<text x="290.00" y="774.00" font-size="7.5" fill="#231f20">ecDNA</text>
<text x="290.00" y="782.30" font-size="7.5" fill="#231f20">Chr 17</text>
</svg>
</body></html>
